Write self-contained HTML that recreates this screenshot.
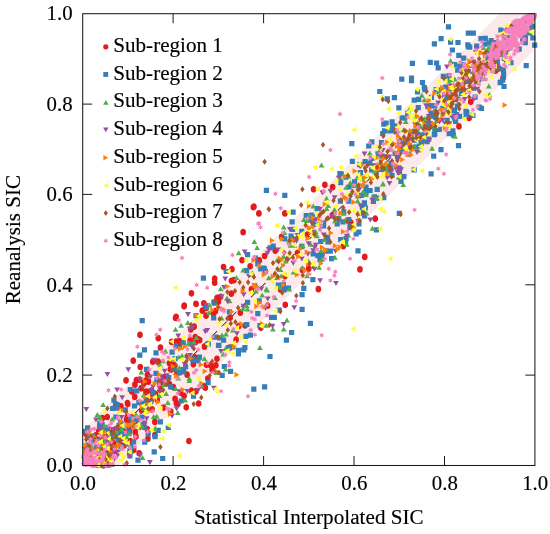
<!DOCTYPE html><html><head><meta charset="utf-8"><title>SIC scatter</title><style>html,body{margin:0;padding:0;background:#fff}</style></head><body><svg width="550" height="534" viewBox="0 0 550 534" style="display:block">
<rect width="550" height="534" fill="#fff"/>
<defs><clipPath id="c"><rect x="82.7" y="13.7" width="452.2" height="451.8"/></clipPath></defs>
<g clip-path="url(#c)">
<polygon points="82.7,430.3 499.6,13.7 533.1,13.7 533.1,51.2 118.4,465.5 82.7,465.5" fill="#fce9ea"/>
<line x1="82.7" y1="465.5" x2="534.9" y2="13.699999999999989" stroke="#000" stroke-width="1" stroke-dasharray="6.8,6.85" stroke-dashoffset="7.85"/>
</g>
<g>
<path d="M88.7,450.4a2.8,2.8 0 1,0 5.5,0a2.8,2.8 0 1,0 -5.5,0zM87.9,460.9a2.8,2.8 0 1,0 5.5,0a2.8,2.8 0 1,0 -5.5,0zM107,461.1a2.8,2.8 0 1,0 5.5,0a2.8,2.8 0 1,0 -5.5,0zM111.9,444.4a2.8,2.8 0 1,0 5.5,0a2.8,2.8 0 1,0 -5.5,0zM109.9,449.2a2.8,2.8 0 1,0 5.5,0a2.8,2.8 0 1,0 -5.5,0zM92.5,456.8a2.8,2.8 0 1,0 5.5,0a2.8,2.8 0 1,0 -5.5,0zM127,429a2.8,2.8 0 1,0 5.5,0a2.8,2.8 0 1,0 -5.5,0zM95.5,448.3a2.8,2.8 0 1,0 5.5,0a2.8,2.8 0 1,0 -5.5,0zM127.6,441.2a2.8,2.8 0 1,0 5.5,0a2.8,2.8 0 1,0 -5.5,0zM105.9,463.6a2.8,2.8 0 1,0 5.5,0a2.8,2.8 0 1,0 -5.5,0zM90,463a2.8,2.8 0 1,0 5.5,0a2.8,2.8 0 1,0 -5.5,0zM95.9,456a2.8,2.8 0 1,0 5.5,0a2.8,2.8 0 1,0 -5.5,0zM90.1,452.7a2.8,2.8 0 1,0 5.5,0a2.8,2.8 0 1,0 -5.5,0zM99.7,418.2a2.8,2.8 0 1,0 5.5,0a2.8,2.8 0 1,0 -5.5,0zM96.9,431.5a2.8,2.8 0 1,0 5.5,0a2.8,2.8 0 1,0 -5.5,0zM98.6,454.6a2.8,2.8 0 1,0 5.5,0a2.8,2.8 0 1,0 -5.5,0zM91.1,464.1a2.8,2.8 0 1,0 5.5,0a2.8,2.8 0 1,0 -5.5,0zM98.9,453a2.8,2.8 0 1,0 5.5,0a2.8,2.8 0 1,0 -5.5,0zM93.9,447.9a2.8,2.8 0 1,0 5.5,0a2.8,2.8 0 1,0 -5.5,0zM95.9,431.2a2.8,2.8 0 1,0 5.5,0a2.8,2.8 0 1,0 -5.5,0zM103.7,451.5a2.8,2.8 0 1,0 5.5,0a2.8,2.8 0 1,0 -5.5,0zM93.3,435.2a2.8,2.8 0 1,0 5.5,0a2.8,2.8 0 1,0 -5.5,0zM83.1,433.7a2.8,2.8 0 1,0 5.5,0a2.8,2.8 0 1,0 -5.5,0zM136.4,453.3a2.8,2.8 0 1,0 5.5,0a2.8,2.8 0 1,0 -5.5,0zM84.6,447.9a2.8,2.8 0 1,0 5.5,0a2.8,2.8 0 1,0 -5.5,0zM95.3,461.6a2.8,2.8 0 1,0 5.5,0a2.8,2.8 0 1,0 -5.5,0zM121.5,431.5a2.8,2.8 0 1,0 5.5,0a2.8,2.8 0 1,0 -5.5,0zM99.9,436.3a2.8,2.8 0 1,0 5.5,0a2.8,2.8 0 1,0 -5.5,0zM120.8,442.7a2.8,2.8 0 1,0 5.5,0a2.8,2.8 0 1,0 -5.5,0zM85,436.7a2.8,2.8 0 1,0 5.5,0a2.8,2.8 0 1,0 -5.5,0zM98.5,457.6a2.8,2.8 0 1,0 5.5,0a2.8,2.8 0 1,0 -5.5,0zM94,440.7a2.8,2.8 0 1,0 5.5,0a2.8,2.8 0 1,0 -5.5,0zM108,462.8a2.8,2.8 0 1,0 5.5,0a2.8,2.8 0 1,0 -5.5,0zM116.7,430.6a2.8,2.8 0 1,0 5.5,0a2.8,2.8 0 1,0 -5.5,0zM121.3,445.4a2.8,2.8 0 1,0 5.5,0a2.8,2.8 0 1,0 -5.5,0zM120.9,437.6a2.8,2.8 0 1,0 5.5,0a2.8,2.8 0 1,0 -5.5,0zM133.3,425a2.8,2.8 0 1,0 5.5,0a2.8,2.8 0 1,0 -5.5,0zM91.5,452.2a2.8,2.8 0 1,0 5.5,0a2.8,2.8 0 1,0 -5.5,0zM112.1,431.3a2.8,2.8 0 1,0 5.5,0a2.8,2.8 0 1,0 -5.5,0zM111.7,450.7a2.8,2.8 0 1,0 5.5,0a2.8,2.8 0 1,0 -5.5,0zM98.8,429.1a2.8,2.8 0 1,0 5.5,0a2.8,2.8 0 1,0 -5.5,0zM97.6,437.3a2.8,2.8 0 1,0 5.5,0a2.8,2.8 0 1,0 -5.5,0zM107.7,437.7a2.8,2.8 0 1,0 5.5,0a2.8,2.8 0 1,0 -5.5,0zM119.4,436.9a2.8,2.8 0 1,0 5.5,0a2.8,2.8 0 1,0 -5.5,0zM104.9,428.6a2.8,2.8 0 1,0 5.5,0a2.8,2.8 0 1,0 -5.5,0zM100.9,430a2.8,2.8 0 1,0 5.5,0a2.8,2.8 0 1,0 -5.5,0zM112.2,443.9a2.8,2.8 0 1,0 5.5,0a2.8,2.8 0 1,0 -5.5,0zM105.2,442.8a2.8,2.8 0 1,0 5.5,0a2.8,2.8 0 1,0 -5.5,0zM113.1,404.3a2.8,2.8 0 1,0 5.5,0a2.8,2.8 0 1,0 -5.5,0zM118.2,442.1a2.8,2.8 0 1,0 5.5,0a2.8,2.8 0 1,0 -5.5,0zM105.9,432.8a2.8,2.8 0 1,0 5.5,0a2.8,2.8 0 1,0 -5.5,0zM95.5,464.9a2.8,2.8 0 1,0 5.5,0a2.8,2.8 0 1,0 -5.5,0zM95.2,464.8a2.8,2.8 0 1,0 5.5,0a2.8,2.8 0 1,0 -5.5,0zM94.3,437.5a2.8,2.8 0 1,0 5.5,0a2.8,2.8 0 1,0 -5.5,0zM104.5,417a2.8,2.8 0 1,0 5.5,0a2.8,2.8 0 1,0 -5.5,0zM125,404a2.8,2.8 0 1,0 5.5,0a2.8,2.8 0 1,0 -5.5,0zM96.2,464a2.8,2.8 0 1,0 5.5,0a2.8,2.8 0 1,0 -5.5,0zM98.6,451.4a2.8,2.8 0 1,0 5.5,0a2.8,2.8 0 1,0 -5.5,0zM110.7,431.1a2.8,2.8 0 1,0 5.5,0a2.8,2.8 0 1,0 -5.5,0zM124.5,416.8a2.8,2.8 0 1,0 5.5,0a2.8,2.8 0 1,0 -5.5,0zM98.8,424a2.8,2.8 0 1,0 5.5,0a2.8,2.8 0 1,0 -5.5,0zM118.2,406.3a2.8,2.8 0 1,0 5.5,0a2.8,2.8 0 1,0 -5.5,0zM124.7,403a2.8,2.8 0 1,0 5.5,0a2.8,2.8 0 1,0 -5.5,0zM100.7,465.4a2.8,2.8 0 1,0 5.5,0a2.8,2.8 0 1,0 -5.5,0zM94.4,439.6a2.8,2.8 0 1,0 5.5,0a2.8,2.8 0 1,0 -5.5,0zM123.8,419.7a2.8,2.8 0 1,0 5.5,0a2.8,2.8 0 1,0 -5.5,0zM100.5,464.4a2.8,2.8 0 1,0 5.5,0a2.8,2.8 0 1,0 -5.5,0zM122,436.6a2.8,2.8 0 1,0 5.5,0a2.8,2.8 0 1,0 -5.5,0zM96.2,464.1a2.8,2.8 0 1,0 5.5,0a2.8,2.8 0 1,0 -5.5,0zM117.3,409a2.8,2.8 0 1,0 5.5,0a2.8,2.8 0 1,0 -5.5,0zM104,450.5a2.8,2.8 0 1,0 5.5,0a2.8,2.8 0 1,0 -5.5,0zM168,411.6a2.8,2.8 0 1,0 5.5,0a2.8,2.8 0 1,0 -5.5,0zM132,396.9a2.8,2.8 0 1,0 5.5,0a2.8,2.8 0 1,0 -5.5,0zM131.8,417.5a2.8,2.8 0 1,0 5.5,0a2.8,2.8 0 1,0 -5.5,0zM150,361.7a2.8,2.8 0 1,0 5.5,0a2.8,2.8 0 1,0 -5.5,0zM154.5,399.6a2.8,2.8 0 1,0 5.5,0a2.8,2.8 0 1,0 -5.5,0zM144.8,392a2.8,2.8 0 1,0 5.5,0a2.8,2.8 0 1,0 -5.5,0zM138.4,388.3a2.8,2.8 0 1,0 5.5,0a2.8,2.8 0 1,0 -5.5,0zM136.9,379.7a2.8,2.8 0 1,0 5.5,0a2.8,2.8 0 1,0 -5.5,0zM141.2,383.3a2.8,2.8 0 1,0 5.5,0a2.8,2.8 0 1,0 -5.5,0zM166.7,384.1a2.8,2.8 0 1,0 5.5,0a2.8,2.8 0 1,0 -5.5,0zM148.8,390.6a2.8,2.8 0 1,0 5.5,0a2.8,2.8 0 1,0 -5.5,0zM161.3,377.3a2.8,2.8 0 1,0 5.5,0a2.8,2.8 0 1,0 -5.5,0zM158,390.1a2.8,2.8 0 1,0 5.5,0a2.8,2.8 0 1,0 -5.5,0zM150.3,394.4a2.8,2.8 0 1,0 5.5,0a2.8,2.8 0 1,0 -5.5,0zM136.4,426.9a2.8,2.8 0 1,0 5.5,0a2.8,2.8 0 1,0 -5.5,0zM159.5,381.7a2.8,2.8 0 1,0 5.5,0a2.8,2.8 0 1,0 -5.5,0zM152.9,394.2a2.8,2.8 0 1,0 5.5,0a2.8,2.8 0 1,0 -5.5,0zM149.3,409.4a2.8,2.8 0 1,0 5.5,0a2.8,2.8 0 1,0 -5.5,0zM156.8,384.7a2.8,2.8 0 1,0 5.5,0a2.8,2.8 0 1,0 -5.5,0zM167.8,412.2a2.8,2.8 0 1,0 5.5,0a2.8,2.8 0 1,0 -5.5,0zM145.2,438.7a2.8,2.8 0 1,0 5.5,0a2.8,2.8 0 1,0 -5.5,0zM155.4,361.6a2.8,2.8 0 1,0 5.5,0a2.8,2.8 0 1,0 -5.5,0zM132.2,384.6a2.8,2.8 0 1,0 5.5,0a2.8,2.8 0 1,0 -5.5,0zM168.9,341.9a2.8,2.8 0 1,0 5.5,0a2.8,2.8 0 1,0 -5.5,0zM143.2,391.6a2.8,2.8 0 1,0 5.5,0a2.8,2.8 0 1,0 -5.5,0zM144.7,429.4a2.8,2.8 0 1,0 5.5,0a2.8,2.8 0 1,0 -5.5,0zM139.6,405.6a2.8,2.8 0 1,0 5.5,0a2.8,2.8 0 1,0 -5.5,0zM145.1,394.5a2.8,2.8 0 1,0 5.5,0a2.8,2.8 0 1,0 -5.5,0zM148.3,401.1a2.8,2.8 0 1,0 5.5,0a2.8,2.8 0 1,0 -5.5,0zM160.8,407.6a2.8,2.8 0 1,0 5.5,0a2.8,2.8 0 1,0 -5.5,0zM127,452.4a2.8,2.8 0 1,0 5.5,0a2.8,2.8 0 1,0 -5.5,0zM144.3,396.4a2.8,2.8 0 1,0 5.5,0a2.8,2.8 0 1,0 -5.5,0zM166.7,363.1a2.8,2.8 0 1,0 5.5,0a2.8,2.8 0 1,0 -5.5,0zM129.2,417.1a2.8,2.8 0 1,0 5.5,0a2.8,2.8 0 1,0 -5.5,0zM167.6,369.3a2.8,2.8 0 1,0 5.5,0a2.8,2.8 0 1,0 -5.5,0zM129,391.4a2.8,2.8 0 1,0 5.5,0a2.8,2.8 0 1,0 -5.5,0zM145.7,381.6a2.8,2.8 0 1,0 5.5,0a2.8,2.8 0 1,0 -5.5,0zM131,450a2.8,2.8 0 1,0 5.5,0a2.8,2.8 0 1,0 -5.5,0zM132.5,432.2a2.8,2.8 0 1,0 5.5,0a2.8,2.8 0 1,0 -5.5,0zM139,410.6a2.8,2.8 0 1,0 5.5,0a2.8,2.8 0 1,0 -5.5,0zM133.2,436.4a2.8,2.8 0 1,0 5.5,0a2.8,2.8 0 1,0 -5.5,0zM125.9,420.6a2.8,2.8 0 1,0 5.5,0a2.8,2.8 0 1,0 -5.5,0zM133.7,380.1a2.8,2.8 0 1,0 5.5,0a2.8,2.8 0 1,0 -5.5,0zM144.7,374.7a2.8,2.8 0 1,0 5.5,0a2.8,2.8 0 1,0 -5.5,0zM142.9,380.7a2.8,2.8 0 1,0 5.5,0a2.8,2.8 0 1,0 -5.5,0zM162.8,379.1a2.8,2.8 0 1,0 5.5,0a2.8,2.8 0 1,0 -5.5,0zM188.7,390.7a2.8,2.8 0 1,0 5.5,0a2.8,2.8 0 1,0 -5.5,0zM173.6,403.1a2.8,2.8 0 1,0 5.5,0a2.8,2.8 0 1,0 -5.5,0zM174.2,373.4a2.8,2.8 0 1,0 5.5,0a2.8,2.8 0 1,0 -5.5,0zM181.3,395.8a2.8,2.8 0 1,0 5.5,0a2.8,2.8 0 1,0 -5.5,0zM190.6,364.3a2.8,2.8 0 1,0 5.5,0a2.8,2.8 0 1,0 -5.5,0zM214.4,297.8a2.8,2.8 0 1,0 5.5,0a2.8,2.8 0 1,0 -5.5,0zM184.4,374.7a2.8,2.8 0 1,0 5.5,0a2.8,2.8 0 1,0 -5.5,0zM191.9,357.4a2.8,2.8 0 1,0 5.5,0a2.8,2.8 0 1,0 -5.5,0zM170.6,387.1a2.8,2.8 0 1,0 5.5,0a2.8,2.8 0 1,0 -5.5,0zM172.3,398.8a2.8,2.8 0 1,0 5.5,0a2.8,2.8 0 1,0 -5.5,0zM196.9,340.1a2.8,2.8 0 1,0 5.5,0a2.8,2.8 0 1,0 -5.5,0zM188,329.5a2.8,2.8 0 1,0 5.5,0a2.8,2.8 0 1,0 -5.5,0zM199.5,310.7a2.8,2.8 0 1,0 5.5,0a2.8,2.8 0 1,0 -5.5,0zM210.7,313.8a2.8,2.8 0 1,0 5.5,0a2.8,2.8 0 1,0 -5.5,0zM176.7,341.1a2.8,2.8 0 1,0 5.5,0a2.8,2.8 0 1,0 -5.5,0zM207.8,365.4a2.8,2.8 0 1,0 5.5,0a2.8,2.8 0 1,0 -5.5,0zM201.3,386.1a2.8,2.8 0 1,0 5.5,0a2.8,2.8 0 1,0 -5.5,0zM176.4,346.2a2.8,2.8 0 1,0 5.5,0a2.8,2.8 0 1,0 -5.5,0zM195.6,339.4a2.8,2.8 0 1,0 5.5,0a2.8,2.8 0 1,0 -5.5,0zM192.5,337.1a2.8,2.8 0 1,0 5.5,0a2.8,2.8 0 1,0 -5.5,0zM193.1,391.4a2.8,2.8 0 1,0 5.5,0a2.8,2.8 0 1,0 -5.5,0zM203.7,364.8a2.8,2.8 0 1,0 5.5,0a2.8,2.8 0 1,0 -5.5,0zM203.4,308a2.8,2.8 0 1,0 5.5,0a2.8,2.8 0 1,0 -5.5,0zM192.7,342.1a2.8,2.8 0 1,0 5.5,0a2.8,2.8 0 1,0 -5.5,0zM205.1,378.5a2.8,2.8 0 1,0 5.5,0a2.8,2.8 0 1,0 -5.5,0zM177.1,371.5a2.8,2.8 0 1,0 5.5,0a2.8,2.8 0 1,0 -5.5,0zM171,364.8a2.8,2.8 0 1,0 5.5,0a2.8,2.8 0 1,0 -5.5,0zM201.7,346.6a2.8,2.8 0 1,0 5.5,0a2.8,2.8 0 1,0 -5.5,0zM191.4,326.6a2.8,2.8 0 1,0 5.5,0a2.8,2.8 0 1,0 -5.5,0zM212.7,311.2a2.8,2.8 0 1,0 5.5,0a2.8,2.8 0 1,0 -5.5,0zM214.2,358.8a2.8,2.8 0 1,0 5.5,0a2.8,2.8 0 1,0 -5.5,0zM213.1,365.3a2.8,2.8 0 1,0 5.5,0a2.8,2.8 0 1,0 -5.5,0zM247.4,266.3a2.8,2.8 0 1,0 5.5,0a2.8,2.8 0 1,0 -5.5,0zM237.6,312.7a2.8,2.8 0 1,0 5.5,0a2.8,2.8 0 1,0 -5.5,0zM236,326.2a2.8,2.8 0 1,0 5.5,0a2.8,2.8 0 1,0 -5.5,0zM215.7,301.7a2.8,2.8 0 1,0 5.5,0a2.8,2.8 0 1,0 -5.5,0zM228.7,280.8a2.8,2.8 0 1,0 5.5,0a2.8,2.8 0 1,0 -5.5,0zM242.3,325.5a2.8,2.8 0 1,0 5.5,0a2.8,2.8 0 1,0 -5.5,0zM217.8,296.8a2.8,2.8 0 1,0 5.5,0a2.8,2.8 0 1,0 -5.5,0zM226.9,347.7a2.8,2.8 0 1,0 5.5,0a2.8,2.8 0 1,0 -5.5,0zM255.6,260.8a2.8,2.8 0 1,0 5.5,0a2.8,2.8 0 1,0 -5.5,0zM258.1,327.8a2.8,2.8 0 1,0 5.5,0a2.8,2.8 0 1,0 -5.5,0zM248.7,289.3a2.8,2.8 0 1,0 5.5,0a2.8,2.8 0 1,0 -5.5,0zM228.6,293.7a2.8,2.8 0 1,0 5.5,0a2.8,2.8 0 1,0 -5.5,0zM231.2,280.2a2.8,2.8 0 1,0 5.5,0a2.8,2.8 0 1,0 -5.5,0zM227.4,317.7a2.8,2.8 0 1,0 5.5,0a2.8,2.8 0 1,0 -5.5,0zM233.4,339.7a2.8,2.8 0 1,0 5.5,0a2.8,2.8 0 1,0 -5.5,0zM256.6,260.4a2.8,2.8 0 1,0 5.5,0a2.8,2.8 0 1,0 -5.5,0zM305.9,268.6a2.8,2.8 0 1,0 5.5,0a2.8,2.8 0 1,0 -5.5,0zM264.9,305.7a2.8,2.8 0 1,0 5.5,0a2.8,2.8 0 1,0 -5.5,0zM272.5,250.6a2.8,2.8 0 1,0 5.5,0a2.8,2.8 0 1,0 -5.5,0zM294.7,253a2.8,2.8 0 1,0 5.5,0a2.8,2.8 0 1,0 -5.5,0zM277.9,289.7a2.8,2.8 0 1,0 5.5,0a2.8,2.8 0 1,0 -5.5,0zM304.6,234.7a2.8,2.8 0 1,0 5.5,0a2.8,2.8 0 1,0 -5.5,0zM299.8,270.1a2.8,2.8 0 1,0 5.5,0a2.8,2.8 0 1,0 -5.5,0zM278.9,236.9a2.8,2.8 0 1,0 5.5,0a2.8,2.8 0 1,0 -5.5,0zM261.8,256a2.8,2.8 0 1,0 5.5,0a2.8,2.8 0 1,0 -5.5,0zM282.2,276.2a2.8,2.8 0 1,0 5.5,0a2.8,2.8 0 1,0 -5.5,0zM348,222.5a2.8,2.8 0 1,0 5.5,0a2.8,2.8 0 1,0 -5.5,0zM350,227.5a2.8,2.8 0 1,0 5.5,0a2.8,2.8 0 1,0 -5.5,0zM329.7,215.2a2.8,2.8 0 1,0 5.5,0a2.8,2.8 0 1,0 -5.5,0zM340.6,246.1a2.8,2.8 0 1,0 5.5,0a2.8,2.8 0 1,0 -5.5,0zM492.8,70.7a2.8,2.8 0 1,0 5.5,0a2.8,2.8 0 1,0 -5.5,0zM468,101.8a2.8,2.8 0 1,0 5.5,0a2.8,2.8 0 1,0 -5.5,0zM466.4,118a2.8,2.8 0 1,0 5.5,0a2.8,2.8 0 1,0 -5.5,0zM446.1,91.4a2.8,2.8 0 1,0 5.5,0a2.8,2.8 0 1,0 -5.5,0zM181.3,306.3a2.8,2.8 0 1,0 5.5,0a2.8,2.8 0 1,0 -5.5,0zM193.4,304a2.8,2.8 0 1,0 5.5,0a2.8,2.8 0 1,0 -5.5,0zM172.8,318a2.8,2.8 0 1,0 5.5,0a2.8,2.8 0 1,0 -5.5,0zM137.2,334.8a2.8,2.8 0 1,0 5.5,0a2.8,2.8 0 1,0 -5.5,0zM155.5,338.2a2.8,2.8 0 1,0 5.5,0a2.8,2.8 0 1,0 -5.5,0zM173.4,341.6a2.8,2.8 0 1,0 5.5,0a2.8,2.8 0 1,0 -5.5,0zM187.4,340.4a2.8,2.8 0 1,0 5.5,0a2.8,2.8 0 1,0 -5.5,0zM157.7,347.6a2.8,2.8 0 1,0 5.5,0a2.8,2.8 0 1,0 -5.5,0zM130.5,360.7a2.8,2.8 0 1,0 5.5,0a2.8,2.8 0 1,0 -5.5,0zM137.5,367a2.8,2.8 0 1,0 5.5,0a2.8,2.8 0 1,0 -5.5,0zM123.3,380.4a2.8,2.8 0 1,0 5.5,0a2.8,2.8 0 1,0 -5.5,0zM251.2,206.7a2.8,2.8 0 1,0 5.5,0a2.8,2.8 0 1,0 -5.5,0zM256.1,213.5a2.8,2.8 0 1,0 5.5,0a2.8,2.8 0 1,0 -5.5,0zM240.4,232.1a2.8,2.8 0 1,0 5.5,0a2.8,2.8 0 1,0 -5.5,0zM239.3,260.2a2.8,2.8 0 1,0 5.5,0a2.8,2.8 0 1,0 -5.5,0zM220.8,267a2.8,2.8 0 1,0 5.5,0a2.8,2.8 0 1,0 -5.5,0zM229.2,269.2a2.8,2.8 0 1,0 5.5,0a2.8,2.8 0 1,0 -5.5,0zM211.9,278.7a2.8,2.8 0 1,0 5.5,0a2.8,2.8 0 1,0 -5.5,0zM211.9,282.7a2.8,2.8 0 1,0 5.5,0a2.8,2.8 0 1,0 -5.5,0zM188.7,293.3a2.8,2.8 0 1,0 5.5,0a2.8,2.8 0 1,0 -5.5,0zM181.5,305.6a2.8,2.8 0 1,0 5.5,0a2.8,2.8 0 1,0 -5.5,0zM193.2,303.8a2.8,2.8 0 1,0 5.5,0a2.8,2.8 0 1,0 -5.5,0zM201.1,303.4a2.8,2.8 0 1,0 5.5,0a2.8,2.8 0 1,0 -5.5,0zM173.4,316.9a2.8,2.8 0 1,0 5.5,0a2.8,2.8 0 1,0 -5.5,0zM203.3,315.7a2.8,2.8 0 1,0 5.5,0a2.8,2.8 0 1,0 -5.5,0zM322.1,184.8a2.8,2.8 0 1,0 5.5,0a2.8,2.8 0 1,0 -5.5,0zM310.8,189.3a2.8,2.8 0 1,0 5.5,0a2.8,2.8 0 1,0 -5.5,0zM329.9,187.1a2.8,2.8 0 1,0 5.5,0a2.8,2.8 0 1,0 -5.5,0zM250.6,207.1a2.8,2.8 0 1,0 5.5,0a2.8,2.8 0 1,0 -5.5,0zM256.2,213.4a2.8,2.8 0 1,0 5.5,0a2.8,2.8 0 1,0 -5.5,0zM282.1,213.4a2.8,2.8 0 1,0 5.5,0a2.8,2.8 0 1,0 -5.5,0zM500.4,77.9a2.8,2.8 0 1,0 5.5,0a2.8,2.8 0 1,0 -5.5,0zM186.2,441a2.8,2.8 0 1,0 5.5,0a2.8,2.8 0 1,0 -5.5,0zM152.1,434.9a2.8,2.8 0 1,0 5.5,0a2.8,2.8 0 1,0 -5.5,0zM152.1,421.9a2.8,2.8 0 1,0 5.5,0a2.8,2.8 0 1,0 -5.5,0zM183.5,407.3a2.8,2.8 0 1,0 5.5,0a2.8,2.8 0 1,0 -5.5,0zM175.2,403.9a2.8,2.8 0 1,0 5.5,0a2.8,2.8 0 1,0 -5.5,0zM195.9,403.5a2.8,2.8 0 1,0 5.5,0a2.8,2.8 0 1,0 -5.5,0zM177.9,392.7a2.8,2.8 0 1,0 5.5,0a2.8,2.8 0 1,0 -5.5,0zM202.6,387.8a2.8,2.8 0 1,0 5.5,0a2.8,2.8 0 1,0 -5.5,0zM209.4,369.8a2.8,2.8 0 1,0 5.5,0a2.8,2.8 0 1,0 -5.5,0zM315.6,289.1a2.8,2.8 0 1,0 5.5,0a2.8,2.8 0 1,0 -5.5,0zM282.5,304.8a2.8,2.8 0 1,0 5.5,0a2.8,2.8 0 1,0 -5.5,0zM372.5,218.7a2.8,2.8 0 1,0 5.5,0a2.8,2.8 0 1,0 -5.5,0zM362,256.9a2.8,2.8 0 1,0 5.5,0a2.8,2.8 0 1,0 -5.5,0zM357.2,269.4a2.8,2.8 0 1,0 5.5,0a2.8,2.8 0 1,0 -5.5,0zM319,254.2a2.8,2.8 0 1,0 5.5,0a2.8,2.8 0 1,0 -5.5,0zM456.2,126.4a2.8,2.8 0 1,0 5.5,0a2.8,2.8 0 1,0 -5.5,0z" fill="#e41a1c"/>
<path d="M118.2,429.7h5.2v5.2h-5.2zM98.7,439.4h5.2v5.2h-5.2zM85,460.1h5.2v5.2h-5.2zM104.2,427.1h5.2v5.2h-5.2zM86.3,453.8h5.2v5.2h-5.2zM107.1,455h5.2v5.2h-5.2zM122.1,433.2h5.2v5.2h-5.2zM90.7,438.3h5.2v5.2h-5.2zM87.1,434.1h5.2v5.2h-5.2zM101.6,441.9h5.2v5.2h-5.2zM127.8,448.1h5.2v5.2h-5.2zM114,433.8h5.2v5.2h-5.2zM128.4,444h5.2v5.2h-5.2zM101,454.3h5.2v5.2h-5.2zM104.5,428.1h5.2v5.2h-5.2zM91.4,452.6h5.2v5.2h-5.2zM99.7,439.6h5.2v5.2h-5.2zM101.9,442.7h5.2v5.2h-5.2zM86.7,452.5h5.2v5.2h-5.2zM93.6,445.4h5.2v5.2h-5.2zM84.3,453.6h5.2v5.2h-5.2zM85,425.2h5.2v5.2h-5.2zM117.9,421.3h5.2v5.2h-5.2zM111.3,397.6h5.2v5.2h-5.2zM82.9,456.7h5.2v5.2h-5.2zM97.2,421.1h5.2v5.2h-5.2zM99.5,422.1h5.2v5.2h-5.2zM89.9,449.9h5.2v5.2h-5.2zM100,462.8h5.2v5.2h-5.2zM96.3,438.2h5.2v5.2h-5.2zM82.3,428.8h5.2v5.2h-5.2zM136.3,400h5.2v5.2h-5.2zM131,439.3h5.2v5.2h-5.2zM106.5,434.7h5.2v5.2h-5.2zM127.3,453.2h5.2v5.2h-5.2zM85.5,442.4h5.2v5.2h-5.2zM86.3,447.3h5.2v5.2h-5.2zM90.5,433.6h5.2v5.2h-5.2zM125.5,423.3h5.2v5.2h-5.2zM87.2,445.2h5.2v5.2h-5.2zM124.7,441.2h5.2v5.2h-5.2zM105.3,455.8h5.2v5.2h-5.2zM126.9,429.4h5.2v5.2h-5.2zM96.6,460.4h5.2v5.2h-5.2zM96.1,461.6h5.2v5.2h-5.2zM102.4,456h5.2v5.2h-5.2zM122.7,407.3h5.2v5.2h-5.2zM108.7,432.3h5.2v5.2h-5.2zM105.9,462.6h5.2v5.2h-5.2zM119.1,422.3h5.2v5.2h-5.2zM118.1,443.5h5.2v5.2h-5.2zM105.1,461.5h5.2v5.2h-5.2zM101.5,441.4h5.2v5.2h-5.2zM104,424.9h5.2v5.2h-5.2zM96.3,447.8h5.2v5.2h-5.2zM116.1,437.7h5.2v5.2h-5.2zM113.3,414.4h5.2v5.2h-5.2zM97.5,444.2h5.2v5.2h-5.2zM105.5,461.9h5.2v5.2h-5.2zM101.4,461.9h5.2v5.2h-5.2zM104,452.1h5.2v5.2h-5.2zM119.3,424.4h5.2v5.2h-5.2zM96.9,424.5h5.2v5.2h-5.2zM94.9,461.1h5.2v5.2h-5.2zM112.1,405.5h5.2v5.2h-5.2zM145.6,431.2h5.2v5.2h-5.2zM168.1,384.2h5.2v5.2h-5.2zM142,424.8h5.2v5.2h-5.2zM152.4,434h5.2v5.2h-5.2zM140.1,422.1h5.2v5.2h-5.2zM134.5,417.2h5.2v5.2h-5.2zM128.2,414.9h5.2v5.2h-5.2zM154.2,377.2h5.2v5.2h-5.2zM143.9,366.8h5.2v5.2h-5.2zM139.4,414.4h5.2v5.2h-5.2zM141.8,400.7h5.2v5.2h-5.2zM166.1,375.1h5.2v5.2h-5.2zM143.7,397.7h5.2v5.2h-5.2zM150.3,390.1h5.2v5.2h-5.2zM129.3,417.4h5.2v5.2h-5.2zM131.9,403.4h5.2v5.2h-5.2zM147.5,399.5h5.2v5.2h-5.2zM134.2,388.3h5.2v5.2h-5.2zM127.7,386.9h5.2v5.2h-5.2zM153.4,370.8h5.2v5.2h-5.2zM180.6,340.1h5.2v5.2h-5.2zM178.8,366.9h5.2v5.2h-5.2zM187.9,341.2h5.2v5.2h-5.2zM211.1,315.4h5.2v5.2h-5.2zM172.3,366.9h5.2v5.2h-5.2zM195.4,358.2h5.2v5.2h-5.2zM196.9,354.6h5.2v5.2h-5.2zM190.4,357.6h5.2v5.2h-5.2zM181.2,369.3h5.2v5.2h-5.2zM178.7,398.4h5.2v5.2h-5.2zM190,356.3h5.2v5.2h-5.2zM172.4,356h5.2v5.2h-5.2zM205.7,341.2h5.2v5.2h-5.2zM176.7,370.4h5.2v5.2h-5.2zM203.6,304.8h5.2v5.2h-5.2zM212,300.6h5.2v5.2h-5.2zM173.5,343.2h5.2v5.2h-5.2zM183,364h5.2v5.2h-5.2zM212.1,334.6h5.2v5.2h-5.2zM230.2,344.3h5.2v5.2h-5.2zM258.1,266.2h5.2v5.2h-5.2zM221,337.5h5.2v5.2h-5.2zM255.2,261.2h5.2v5.2h-5.2zM244.2,321.9h5.2v5.2h-5.2zM260.6,265.4h5.2v5.2h-5.2zM235.8,347.8h5.2v5.2h-5.2zM252.8,255.5h5.2v5.2h-5.2zM242.3,345h5.2v5.2h-5.2zM217.3,335.3h5.2v5.2h-5.2zM221.7,363.9h5.2v5.2h-5.2zM215.9,342.8h5.2v5.2h-5.2zM225.9,345.1h5.2v5.2h-5.2zM244,268.1h5.2v5.2h-5.2zM226.8,309.3h5.2v5.2h-5.2zM255.2,311h5.2v5.2h-5.2zM216.3,342.9h5.2v5.2h-5.2zM245,299.8h5.2v5.2h-5.2zM256.6,298.2h5.2v5.2h-5.2zM271.7,314.7h5.2v5.2h-5.2zM285.9,285.5h5.2v5.2h-5.2zM288.5,233.6h5.2v5.2h-5.2zM268.9,314.7h5.2v5.2h-5.2zM301.2,285.8h5.2v5.2h-5.2zM299.2,228.7h5.2v5.2h-5.2zM281.4,287.3h5.2v5.2h-5.2zM262.7,268.8h5.2v5.2h-5.2zM299.2,243.7h5.2v5.2h-5.2zM280.7,285.4h5.2v5.2h-5.2zM290,226.7h5.2v5.2h-5.2zM261.7,265.9h5.2v5.2h-5.2zM303.7,213h5.2v5.2h-5.2zM275.8,282.5h5.2v5.2h-5.2zM289.5,219.2h5.2v5.2h-5.2zM282.2,236.3h5.2v5.2h-5.2zM280.8,282h5.2v5.2h-5.2zM270.6,243.6h5.2v5.2h-5.2zM267.5,245.2h5.2v5.2h-5.2zM276.6,307.5h5.2v5.2h-5.2zM292.3,235.9h5.2v5.2h-5.2zM309.2,212.6h5.2v5.2h-5.2zM343.3,174.5h5.2v5.2h-5.2zM347.5,223.4h5.2v5.2h-5.2zM311.3,221.5h5.2v5.2h-5.2zM343.5,236h5.2v5.2h-5.2zM310.6,251.2h5.2v5.2h-5.2zM325.4,239.4h5.2v5.2h-5.2zM338.6,171.4h5.2v5.2h-5.2zM329,256h5.2v5.2h-5.2zM324.9,234.7h5.2v5.2h-5.2zM338.1,180.1h5.2v5.2h-5.2zM310.3,277.1h5.2v5.2h-5.2zM315.3,253h5.2v5.2h-5.2zM306.4,217h5.2v5.2h-5.2zM314.5,206h5.2v5.2h-5.2zM318,252.2h5.2v5.2h-5.2zM337.8,198.5h5.2v5.2h-5.2zM309.9,214.3h5.2v5.2h-5.2zM334.6,221.2h5.2v5.2h-5.2zM346.5,184.4h5.2v5.2h-5.2zM318.1,238.9h5.2v5.2h-5.2zM346.2,198.6h5.2v5.2h-5.2zM340.3,219.2h5.2v5.2h-5.2zM321,220.2h5.2v5.2h-5.2zM336.1,216.1h5.2v5.2h-5.2zM341.2,209.2h5.2v5.2h-5.2zM346.2,217h5.2v5.2h-5.2zM338,237h5.2v5.2h-5.2zM317.4,257.1h5.2v5.2h-5.2zM321,223.4h5.2v5.2h-5.2zM349.7,158.7h5.2v5.2h-5.2zM387.4,163.9h5.2v5.2h-5.2zM360.3,210.6h5.2v5.2h-5.2zM369,167.3h5.2v5.2h-5.2zM374.1,195.5h5.2v5.2h-5.2zM357.8,170.1h5.2v5.2h-5.2zM392.5,150.9h5.2v5.2h-5.2zM361.8,200.3h5.2v5.2h-5.2zM386.4,167.5h5.2v5.2h-5.2zM371.9,194.3h5.2v5.2h-5.2zM355.8,193.3h5.2v5.2h-5.2zM362.7,205.2h5.2v5.2h-5.2zM379.5,153.6h5.2v5.2h-5.2zM381,167h5.2v5.2h-5.2zM373.6,170.3h5.2v5.2h-5.2zM358.7,192.8h5.2v5.2h-5.2zM377.4,166.8h5.2v5.2h-5.2zM374.6,186.7h5.2v5.2h-5.2zM394.3,151.4h5.2v5.2h-5.2zM369.2,139.2h5.2v5.2h-5.2zM367.5,187.9h5.2v5.2h-5.2zM352,179.3h5.2v5.2h-5.2zM367.3,160.6h5.2v5.2h-5.2zM393.9,129.2h5.2v5.2h-5.2zM369.1,155.9h5.2v5.2h-5.2zM388,166.7h5.2v5.2h-5.2zM395,152.9h5.2v5.2h-5.2zM388.4,160.8h5.2v5.2h-5.2zM357.1,162h5.2v5.2h-5.2zM363.5,189.7h5.2v5.2h-5.2zM359.8,205.1h5.2v5.2h-5.2zM362.5,159h5.2v5.2h-5.2zM370.8,198.9h5.2v5.2h-5.2zM390.1,123.1h5.2v5.2h-5.2zM392.4,128.3h5.2v5.2h-5.2zM380.1,130.9h5.2v5.2h-5.2zM381.1,195h5.2v5.2h-5.2zM362,213.3h5.2v5.2h-5.2zM392.3,123.6h5.2v5.2h-5.2zM378.9,140.1h5.2v5.2h-5.2zM389.4,172.7h5.2v5.2h-5.2zM375.4,151.2h5.2v5.2h-5.2zM363.4,184.5h5.2v5.2h-5.2zM399.3,148.8h5.2v5.2h-5.2zM419.2,138.2h5.2v5.2h-5.2zM396.9,169.7h5.2v5.2h-5.2zM434.7,117.8h5.2v5.2h-5.2zM440.1,105.8h5.2v5.2h-5.2zM424.2,122.1h5.2v5.2h-5.2zM411.6,167.2h5.2v5.2h-5.2zM398.2,141.6h5.2v5.2h-5.2zM412,137.5h5.2v5.2h-5.2zM420.4,132.2h5.2v5.2h-5.2zM415.7,135.8h5.2v5.2h-5.2zM414.9,131.9h5.2v5.2h-5.2zM440.7,73.8h5.2v5.2h-5.2zM411.6,128.8h5.2v5.2h-5.2zM425.3,104.1h5.2v5.2h-5.2zM436.7,126.7h5.2v5.2h-5.2zM396.9,165.8h5.2v5.2h-5.2zM432.3,125.9h5.2v5.2h-5.2zM424.5,139.1h5.2v5.2h-5.2zM406.2,151.5h5.2v5.2h-5.2zM431.1,153.5h5.2v5.2h-5.2zM431.7,132.1h5.2v5.2h-5.2zM432.2,131.1h5.2v5.2h-5.2zM415.7,105h5.2v5.2h-5.2zM425.7,116.3h5.2v5.2h-5.2zM398.4,178.8h5.2v5.2h-5.2zM416.8,143.4h5.2v5.2h-5.2zM423.4,136.6h5.2v5.2h-5.2zM401.3,174.1h5.2v5.2h-5.2zM397.3,143.2h5.2v5.2h-5.2zM402.1,115.5h5.2v5.2h-5.2zM402.5,139.5h5.2v5.2h-5.2zM405.1,110.8h5.2v5.2h-5.2zM428.9,94.7h5.2v5.2h-5.2zM428.7,103h5.2v5.2h-5.2zM408.1,132.3h5.2v5.2h-5.2zM426.1,136.5h5.2v5.2h-5.2zM429.6,113.5h5.2v5.2h-5.2zM418.6,140.5h5.2v5.2h-5.2zM427.2,124h5.2v5.2h-5.2zM413.1,144.5h5.2v5.2h-5.2zM432.2,103.3h5.2v5.2h-5.2zM422.3,87h5.2v5.2h-5.2zM428.4,110.4h5.2v5.2h-5.2zM440.8,108.5h5.2v5.2h-5.2zM436.8,90.7h5.2v5.2h-5.2zM423.9,119.6h5.2v5.2h-5.2zM408.5,133.8h5.2v5.2h-5.2zM433.5,87h5.2v5.2h-5.2zM433.3,114.7h5.2v5.2h-5.2zM478.4,36.1h5.2v5.2h-5.2zM457.5,82.7h5.2v5.2h-5.2zM475.8,63h5.2v5.2h-5.2zM472.5,94.6h5.2v5.2h-5.2zM475.8,77.1h5.2v5.2h-5.2zM445.8,95.3h5.2v5.2h-5.2zM482.4,41.5h5.2v5.2h-5.2zM463.4,108.7h5.2v5.2h-5.2zM450,107.9h5.2v5.2h-5.2zM465.2,42.2h5.2v5.2h-5.2zM458.8,90.7h5.2v5.2h-5.2zM477.5,76.1h5.2v5.2h-5.2zM442.8,84.6h5.2v5.2h-5.2zM481,64.2h5.2v5.2h-5.2zM461.1,55.5h5.2v5.2h-5.2zM478.9,105.7h5.2v5.2h-5.2zM450.9,132.6h5.2v5.2h-5.2zM467.1,44.6h5.2v5.2h-5.2zM444.8,109.9h5.2v5.2h-5.2zM447.3,94.9h5.2v5.2h-5.2zM470.8,85.5h5.2v5.2h-5.2zM449.1,83.6h5.2v5.2h-5.2zM451.9,107.4h5.2v5.2h-5.2zM482.7,35.7h5.2v5.2h-5.2zM473.9,61.7h5.2v5.2h-5.2zM444.4,76.8h5.2v5.2h-5.2zM455.4,96.7h5.2v5.2h-5.2zM446.6,131h5.2v5.2h-5.2zM463.6,112.5h5.2v5.2h-5.2zM472.5,69.5h5.2v5.2h-5.2zM483.8,55.8h5.2v5.2h-5.2zM481.1,70.6h5.2v5.2h-5.2zM446.2,109.1h5.2v5.2h-5.2zM457.2,98.4h5.2v5.2h-5.2zM470.3,112.8h5.2v5.2h-5.2zM474.1,43.5h5.2v5.2h-5.2zM453.9,111.9h5.2v5.2h-5.2zM479.8,68.3h5.2v5.2h-5.2zM456.2,52.7h5.2v5.2h-5.2zM444.4,94.5h5.2v5.2h-5.2zM454.8,103.5h5.2v5.2h-5.2zM486.7,40.4h5.2v5.2h-5.2zM446.3,73.3h5.2v5.2h-5.2zM455.1,67.6h5.2v5.2h-5.2zM457.3,63.4h5.2v5.2h-5.2zM465.7,69h5.2v5.2h-5.2zM483.1,54.2h5.2v5.2h-5.2zM476.7,104.6h5.2v5.2h-5.2zM445.8,89.9h5.2v5.2h-5.2zM454.2,96.6h5.2v5.2h-5.2zM468.2,60.5h5.2v5.2h-5.2zM460.3,62.1h5.2v5.2h-5.2zM457,113.7h5.2v5.2h-5.2zM464.2,109.9h5.2v5.2h-5.2zM453.9,84.8h5.2v5.2h-5.2zM458.5,86.1h5.2v5.2h-5.2zM465.4,78.8h5.2v5.2h-5.2zM447.3,86.8h5.2v5.2h-5.2zM474,79.2h5.2v5.2h-5.2zM444.6,117.7h5.2v5.2h-5.2zM465.8,44h5.2v5.2h-5.2zM452,115.5h5.2v5.2h-5.2zM505.6,25.9h5.2v5.2h-5.2zM491.5,51.2h5.2v5.2h-5.2zM500.1,77.6h5.2v5.2h-5.2zM498.2,79.6h5.2v5.2h-5.2zM496.3,40.6h5.2v5.2h-5.2zM500,51.2h5.2v5.2h-5.2zM495.9,65.4h5.2v5.2h-5.2zM508.4,60h5.2v5.2h-5.2zM494.7,51.6h5.2v5.2h-5.2zM505.3,34.7h5.2v5.2h-5.2zM498.8,49.5h5.2v5.2h-5.2zM492.7,65.3h5.2v5.2h-5.2zM488.6,38h5.2v5.2h-5.2zM487.6,48.7h5.2v5.2h-5.2zM501.4,83.9h5.2v5.2h-5.2zM507.1,39h5.2v5.2h-5.2zM493.3,50.2h5.2v5.2h-5.2zM496.9,66.2h5.2v5.2h-5.2zM501.7,55.9h5.2v5.2h-5.2zM497.6,80.1h5.2v5.2h-5.2zM490.1,54.5h5.2v5.2h-5.2zM493.6,50.1h5.2v5.2h-5.2zM506.1,44.4h5.2v5.2h-5.2zM503.1,50h5.2v5.2h-5.2zM500.9,67.2h5.2v5.2h-5.2zM492.1,48.5h5.2v5.2h-5.2zM487.3,54.4h5.2v5.2h-5.2zM498.2,27.4h5.2v5.2h-5.2zM490.7,58.7h5.2v5.2h-5.2zM495.9,45.1h5.2v5.2h-5.2zM489.6,54.6h5.2v5.2h-5.2zM494.7,59.1h5.2v5.2h-5.2zM501,71.8h5.2v5.2h-5.2zM503.9,42.8h5.2v5.2h-5.2zM527.4,21.4h5.2v5.2h-5.2zM527.4,30.4h5.2v5.2h-5.2zM520,36.2h5.2v5.2h-5.2zM522.2,32h5.2v5.2h-5.2zM516.6,22.8h5.2v5.2h-5.2zM522.8,36.1h5.2v5.2h-5.2zM528.6,24.7h5.2v5.2h-5.2zM530.3,35.4h5.2v5.2h-5.2zM521.4,35.1h5.2v5.2h-5.2zM523.1,28.4h5.2v5.2h-5.2zM518.2,26.5h5.2v5.2h-5.2zM522.7,40.1h5.2v5.2h-5.2zM523.8,21.2h5.2v5.2h-5.2zM528.1,13.6h5.2v5.2h-5.2zM521.3,34.5h5.2v5.2h-5.2zM532.1,42.5h5.2v5.2h-5.2zM513.2,41.8h5.2v5.2h-5.2zM513.8,29.9h5.2v5.2h-5.2zM517.7,20.8h5.2v5.2h-5.2zM516.6,46.6h5.2v5.2h-5.2zM528.7,15.1h5.2v5.2h-5.2zM512.4,24.4h5.2v5.2h-5.2zM513.5,24.7h5.2v5.2h-5.2zM523.6,63.1h5.2v5.2h-5.2zM527.1,23h5.2v5.2h-5.2zM515.7,18.9h5.2v5.2h-5.2zM522.9,25.1h5.2v5.2h-5.2zM529.8,23.5h5.2v5.2h-5.2zM139.6,318.1h5.2v5.2h-5.2zM141.9,347.3h5.2v5.2h-5.2zM137.2,352.5h5.2v5.2h-5.2zM153.4,350.2h5.2v5.2h-5.2zM169.5,349.5h5.2v5.2h-5.2zM114.5,401.9h5.2v5.2h-5.2zM110,405.9h5.2v5.2h-5.2zM245,252h5.2v5.2h-5.2zM223.7,268.9h5.2v5.2h-5.2zM200.8,275.6h5.2v5.2h-5.2zM211.3,299.6h5.2v5.2h-5.2zM193.4,313.1h5.2v5.2h-5.2zM349.2,141.1h5.2v5.2h-5.2zM366.1,143.4h5.2v5.2h-5.2zM337.3,171h5.2v5.2h-5.2zM263.8,187.8h5.2v5.2h-5.2zM282.2,192.8h5.2v5.2h-5.2zM290.5,209.6h5.2v5.2h-5.2zM445.9,24.2h5.2v5.2h-5.2zM438.5,36.1h5.2v5.2h-5.2zM431.8,41.3h5.2v5.2h-5.2zM448,39.5h5.2v5.2h-5.2zM455.4,39.9h5.2v5.2h-5.2zM449.8,47.4h5.2v5.2h-5.2zM409.8,60.8h5.2v5.2h-5.2zM427.7,59.7h5.2v5.2h-5.2zM434,60.4h5.2v5.2h-5.2zM435.6,65.3h5.2v5.2h-5.2zM452,62h5.2v5.2h-5.2zM399.2,76.6h5.2v5.2h-5.2zM408.9,75.4h5.2v5.2h-5.2zM408.9,78.1h5.2v5.2h-5.2zM419.9,79.9h5.2v5.2h-5.2zM421.7,85.1h5.2v5.2h-5.2zM414.9,89.4h5.2v5.2h-5.2zM377.2,88.9h5.2v5.2h-5.2zM384.6,96.3h5.2v5.2h-5.2zM391.8,95h5.2v5.2h-5.2zM411.6,97.5h5.2v5.2h-5.2zM416.1,96.8h5.2v5.2h-5.2zM396.3,105.3h5.2v5.2h-5.2zM381.2,121.5h5.2v5.2h-5.2zM383.5,120.4h5.2v5.2h-5.2zM389.5,119.3h5.2v5.2h-5.2zM399.6,115.2h5.2v5.2h-5.2zM381.9,128.3h5.2v5.2h-5.2zM387.3,128.3h5.2v5.2h-5.2zM465.7,30.5h5.2v5.2h-5.2zM470.7,30.5h5.2v5.2h-5.2zM160.1,455.9h5.2v5.2h-5.2zM151.6,449.2h5.2v5.2h-5.2zM135.4,457.5h5.2v5.2h-5.2zM142.1,439.5h5.2v5.2h-5.2zM155.6,427.8h5.2v5.2h-5.2zM165.7,424.9h5.2v5.2h-5.2zM157.8,419.3h5.2v5.2h-5.2zM190.9,393.5h5.2v5.2h-5.2zM205.5,380h5.2v5.2h-5.2zM219.6,372.8h5.2v5.2h-5.2zM228,368.7h5.2v5.2h-5.2zM235.8,351.4h5.2v5.2h-5.2zM299.5,292.1h5.2v5.2h-5.2zM299.5,306.7h5.2v5.2h-5.2zM307.8,320.7h5.2v5.2h-5.2zM257.3,323.1h5.2v5.2h-5.2zM289,329.9h5.2v5.2h-5.2zM283.8,337.5h5.2v5.2h-5.2zM267.4,353.9h5.2v5.2h-5.2zM241.1,347.2h5.2v5.2h-5.2zM262,384.3h5.2v5.2h-5.2zM251.2,386.5h5.2v5.2h-5.2zM247.8,332.6h5.2v5.2h-5.2zM243.4,333.7h5.2v5.2h-5.2zM396.7,210.7h5.2v5.2h-5.2zM373.8,227.3h5.2v5.2h-5.2zM356.3,221.2h5.2v5.2h-5.2zM347.3,225h5.2v5.2h-5.2zM356.3,229.5h5.2v5.2h-5.2zM353.6,231.3h5.2v5.2h-5.2zM343,239.9h5.2v5.2h-5.2zM355.4,248.2h5.2v5.2h-5.2zM324.8,248.6h5.2v5.2h-5.2zM327.7,248.6h5.2v5.2h-5.2zM319.2,253.8h5.2v5.2h-5.2zM450.3,128.3h5.2v5.2h-5.2zM455.9,143.1h5.2v5.2h-5.2zM438.4,147h5.2v5.2h-5.2zM428.5,171.2h5.2v5.2h-5.2zM452.6,115.5h5.2v5.2h-5.2zM453,118.9h5.2v5.2h-5.2z" fill="#377eb8"/>
<path d="M97.4,412.1l2.9,5h-5.8zM100.2,446l2.9,5h-5.8zM101.6,425.9l2.9,5h-5.8zM111.7,462.1l2.9,5h-5.8zM116.4,427.9l2.9,5h-5.8zM91.7,445.3l2.9,5h-5.8zM90.3,440.5l2.9,5h-5.8zM109.8,450.4l2.9,5h-5.8zM105.6,438.2l2.9,5h-5.8zM104.7,451.2l2.9,5h-5.8zM102.4,447.1l2.9,5h-5.8zM105.3,433.8l2.9,5h-5.8zM115.4,432.5l2.9,5h-5.8zM104.8,455l2.9,5h-5.8zM101.1,446.9l2.9,5h-5.8zM89.6,451.8l2.9,5h-5.8zM105.1,454.8l2.9,5h-5.8zM100.7,459.9l2.9,5h-5.8zM102.4,426.5l2.9,5h-5.8zM92.5,459.9l2.9,5h-5.8zM96.7,460.6l2.9,5h-5.8zM95.1,462.5l2.9,5h-5.8zM100.3,415.6l2.9,5h-5.8zM121.7,426.6l2.9,5h-5.8zM126.6,434.3l2.9,5h-5.8zM112.2,416.6l2.9,5h-5.8zM104.5,423.1l2.9,5h-5.8zM107.9,430.3l2.9,5h-5.8zM100.2,414.4l2.9,5h-5.8zM104.8,452.1l2.9,5h-5.8zM106.1,461.5l2.9,5h-5.8zM106.4,438.4l2.9,5h-5.8zM107.7,455.1l2.9,5h-5.8zM130.9,449l2.9,5h-5.8zM160.3,362.5l2.9,5h-5.8zM167.8,400l2.9,5h-5.8zM129.3,431.3l2.9,5h-5.8zM143.8,405.7l2.9,5h-5.8zM166.2,390.9l2.9,5h-5.8zM136.1,412.1l2.9,5h-5.8zM129.7,444.3l2.9,5h-5.8zM141.6,423.4l2.9,5h-5.8zM156.8,413.8l2.9,5h-5.8zM153.7,414.1l2.9,5h-5.8zM143.7,392.5l2.9,5h-5.8zM163,358.3l2.9,5h-5.8zM155.4,425.7l2.9,5h-5.8zM163.7,382.1l2.9,5h-5.8zM159.3,393.1l2.9,5h-5.8zM165.4,348.5l2.9,5h-5.8zM204.4,356.1l2.9,5h-5.8zM175.6,386l2.9,5h-5.8zM178.9,354.6l2.9,5h-5.8zM209.6,302.6l2.9,5h-5.8zM202,383.3l2.9,5h-5.8zM189.3,375.8l2.9,5h-5.8zM179.3,365.3l2.9,5h-5.8zM196.4,334.9l2.9,5h-5.8zM189,340.8l2.9,5h-5.8zM188.2,340.7l2.9,5h-5.8zM180.8,345.1l2.9,5h-5.8zM194,339.6l2.9,5h-5.8zM189.4,378l2.9,5h-5.8zM182.1,352.9l2.9,5h-5.8zM178.2,375.4l2.9,5h-5.8zM221.6,315.5l2.9,5h-5.8zM252.3,270.2l2.9,5h-5.8zM223.3,351.6l2.9,5h-5.8zM242.9,305.9l2.9,5h-5.8zM247.5,306.4l2.9,5h-5.8zM229.5,298.3l2.9,5h-5.8zM256.3,282.5l2.9,5h-5.8zM226,331.6l2.9,5h-5.8zM251.9,271.8l2.9,5h-5.8zM232.8,327.6l2.9,5h-5.8zM256,288.6l2.9,5h-5.8zM246.8,303.2l2.9,5h-5.8zM225.5,345.9l2.9,5h-5.8zM222,332.5l2.9,5h-5.8zM262.2,292.6l2.9,5h-5.8zM227,295.5l2.9,5h-5.8zM302.3,265.1l2.9,5h-5.8zM293.5,269.4l2.9,5h-5.8zM283.4,253.8l2.9,5h-5.8zM277,274.9l2.9,5h-5.8zM279.3,284.8l2.9,5h-5.8zM284.4,230l2.9,5h-5.8zM307.1,273.3l2.9,5h-5.8zM266.3,286.4l2.9,5h-5.8zM306.7,218l2.9,5h-5.8zM277.1,257.5l2.9,5h-5.8zM294.3,242.8l2.9,5h-5.8zM280.4,267.1l2.9,5h-5.8zM289.1,286.5l2.9,5h-5.8zM303.8,217l2.9,5h-5.8zM275,294.9l2.9,5h-5.8zM285.7,258.4l2.9,5h-5.8zM268.7,275.2l2.9,5h-5.8zM267.2,287.6l2.9,5h-5.8zM302.6,242.9l2.9,5h-5.8zM308.4,215l2.9,5h-5.8zM281.3,273.3l2.9,5h-5.8zM289,238.7l2.9,5h-5.8zM266.2,322.7l2.9,5h-5.8zM290.5,242.8l2.9,5h-5.8zM328.1,203.1l2.9,5h-5.8zM350.3,180l2.9,5h-5.8zM324.2,237.1l2.9,5h-5.8zM346.1,184.8l2.9,5h-5.8zM351.7,190l2.9,5h-5.8zM313.3,203.4l2.9,5h-5.8zM339.3,214.9l2.9,5h-5.8zM346.7,241.8l2.9,5h-5.8zM313.8,231.8l2.9,5h-5.8zM321.9,256.7l2.9,5h-5.8zM348.4,173.6l2.9,5h-5.8zM345.3,217.3l2.9,5h-5.8zM315.6,228.9l2.9,5h-5.8zM317,233.2l2.9,5h-5.8zM326.6,195.7l2.9,5h-5.8zM326.6,206.1l2.9,5h-5.8zM318.6,220.4l2.9,5h-5.8zM310.8,241.8l2.9,5h-5.8zM334.9,254.8l2.9,5h-5.8zM335,218.3l2.9,5h-5.8zM353.4,182.9l2.9,5h-5.8zM321.1,248l2.9,5h-5.8zM334.5,207.1l2.9,5h-5.8zM334.2,212l2.9,5h-5.8zM343.8,210.7l2.9,5h-5.8zM390,146.6l2.9,5h-5.8zM384.8,162.3l2.9,5h-5.8zM382.7,181.4l2.9,5h-5.8zM372.4,194.2l2.9,5h-5.8zM375.8,195.6l2.9,5h-5.8zM369.8,150.4l2.9,5h-5.8zM374.5,168.6l2.9,5h-5.8zM367.7,173.2l2.9,5h-5.8zM378.9,149.1l2.9,5h-5.8zM357.6,198.3l2.9,5h-5.8zM398.7,174.4l2.9,5h-5.8zM357.1,174.9l2.9,5h-5.8zM366.5,210.5l2.9,5h-5.8zM366.1,192l2.9,5h-5.8zM363.1,189.1l2.9,5h-5.8zM387.2,166.8l2.9,5h-5.8zM357.6,193l2.9,5h-5.8zM362.5,176.2l2.9,5h-5.8zM383,181l2.9,5h-5.8zM387.9,164l2.9,5h-5.8zM356.6,183.2l2.9,5h-5.8zM414.4,143.6l2.9,5h-5.8zM410.9,105l2.9,5h-5.8zM424.8,116.2l2.9,5h-5.8zM432,145.7l2.9,5h-5.8zM405.7,119.1l2.9,5h-5.8zM418.4,147.6l2.9,5h-5.8zM426.4,126.7l2.9,5h-5.8zM410.9,133l2.9,5h-5.8zM434.2,123.8l2.9,5h-5.8zM411.8,132.8l2.9,5h-5.8zM420.8,123.8l2.9,5h-5.8zM415.6,113.8l2.9,5h-5.8zM403.3,182.1l2.9,5h-5.8zM421.9,92.8l2.9,5h-5.8zM415.8,115.2l2.9,5h-5.8zM440.9,86.8l2.9,5h-5.8zM410.2,144.6l2.9,5h-5.8zM435.4,120.4l2.9,5h-5.8zM440.1,87.4l2.9,5h-5.8zM417.4,127.5l2.9,5h-5.8zM417.8,119.9l2.9,5h-5.8zM472.8,74.3l2.9,5h-5.8zM454.9,76.6l2.9,5h-5.8zM473.5,68.9l2.9,5h-5.8zM451.5,77l2.9,5h-5.8zM456.5,92l2.9,5h-5.8zM466.4,69l2.9,5h-5.8zM471.5,62.9l2.9,5h-5.8zM484.4,76.1l2.9,5h-5.8zM483.5,45.1l2.9,5h-5.8zM489.4,91.9l2.9,5h-5.8zM488.5,45.2l2.9,5h-5.8zM448.9,78.8l2.9,5h-5.8zM448.5,103.5l2.9,5h-5.8zM488.8,83.4l2.9,5h-5.8zM480.3,69.5l2.9,5h-5.8zM454.9,133.8l2.9,5h-5.8zM489.3,46l2.9,5h-5.8zM492.8,42.5l2.9,5h-5.8zM493,41.4l2.9,5h-5.8zM492.2,41.8l2.9,5h-5.8zM494.5,57.9l2.9,5h-5.8zM506.2,40.2l2.9,5h-5.8zM490.7,49.6l2.9,5h-5.8zM524.9,27l2.9,5h-5.8zM527.9,19.8l2.9,5h-5.8zM528.5,28.7l2.9,5h-5.8zM521,18.7l2.9,5h-5.8zM175.5,326.7l2.9,5h-5.8zM181.1,322.7l2.9,5h-5.8zM187.9,320l2.9,5h-5.8zM141.3,369.4l2.9,5h-5.8zM103.1,402l2.9,5h-5.8zM254.4,239.1l2.9,5h-5.8zM257.1,245.1l2.9,5h-5.8zM238.7,250.3l2.9,5h-5.8zM243.1,267.6l2.9,5h-5.8zM236.4,275l2.9,5h-5.8zM220.7,286.3l2.9,5h-5.8zM209,309.9l2.9,5h-5.8zM321.5,162.6l2.9,5h-5.8zM339.9,174.9l2.9,5h-5.8zM283.7,224.4l2.9,5h-5.8zM450.6,58l2.9,5h-5.8zM424.3,97.3l2.9,5h-5.8zM409.7,105.9l2.9,5h-5.8zM403.6,127.2l2.9,5h-5.8zM142.5,454.9l2.9,5h-5.8zM177.8,410l2.9,5h-5.8zM185.2,397.4l2.9,5h-5.8zM216.6,370l2.9,5h-5.8zM225.6,366.6l2.9,5h-5.8zM286.9,317.4l2.9,5h-5.8zM283.7,326.4l2.9,5h-5.8zM272.9,326.6l2.9,5h-5.8zM259.9,345l2.9,5h-5.8zM372.4,225.8l2.9,5h-5.8zM348.3,232.6l2.9,5h-5.8zM319.1,264.7l2.9,5h-5.8zM313.5,264l2.9,5h-5.8zM308.5,258.4l2.9,5h-5.8z" fill="#4daf4a"/>
<path d="M139.9,382.2l2.9,-5h-5.8zM118.5,454.4l2.9,-5h-5.8zM101.6,466.6l2.9,-5h-5.8zM103.1,460.5l2.9,-5h-5.8zM85.5,451.4l2.9,-5h-5.8zM120.2,424.7l2.9,-5h-5.8zM96,422.4l2.9,-5h-5.8zM121,443.6l2.9,-5h-5.8zM100.7,431.5l2.9,-5h-5.8zM105.2,466.3l2.9,-5h-5.8zM85.6,467.2l2.9,-5h-5.8zM117.8,457.7l2.9,-5h-5.8zM102.7,461.6l2.9,-5h-5.8zM112.7,450.3l2.9,-5h-5.8zM112.9,431.9l2.9,-5h-5.8zM108.4,441.2l2.9,-5h-5.8zM112.9,455.6l2.9,-5h-5.8zM99.8,432.3l2.9,-5h-5.8zM101.5,465.9l2.9,-5h-5.8zM99.3,461.8l2.9,-5h-5.8zM108.2,462.5l2.9,-5h-5.8zM89.9,442.4l2.9,-5h-5.8zM101.9,458.9l2.9,-5h-5.8zM120.2,413l2.9,-5h-5.8zM114.3,462.1l2.9,-5h-5.8zM129.4,459.1l2.9,-5h-5.8zM85.6,452.6l2.9,-5h-5.8zM96.6,449.4l2.9,-5h-5.8zM116.5,431l2.9,-5h-5.8zM108.3,445.9l2.9,-5h-5.8zM100.2,438.7l2.9,-5h-5.8zM121.7,420.1l2.9,-5h-5.8zM99.1,457.5l2.9,-5h-5.8zM111.4,455.6l2.9,-5h-5.8zM101,461.3l2.9,-5h-5.8zM108,444.2l2.9,-5h-5.8zM96.8,444.6l2.9,-5h-5.8zM119,428.2l2.9,-5h-5.8zM103.9,439.9l2.9,-5h-5.8zM166.8,378.3l2.9,-5h-5.8zM144.7,427.2l2.9,-5h-5.8zM144.5,425.4l2.9,-5h-5.8zM164.6,373.7l2.9,-5h-5.8zM154.1,362.8l2.9,-5h-5.8zM160.1,393.6l2.9,-5h-5.8zM162.1,383.3l2.9,-5h-5.8zM150.4,379.5l2.9,-5h-5.8zM148.8,398.5l2.9,-5h-5.8zM146.7,421.2l2.9,-5h-5.8zM151.1,392.9l2.9,-5h-5.8zM161.4,379l2.9,-5h-5.8zM153,389.6l2.9,-5h-5.8zM176.6,411.3l2.9,-5h-5.8zM207.2,333.1l2.9,-5h-5.8zM205.3,334.2l2.9,-5h-5.8zM192,349.4l2.9,-5h-5.8zM179.7,394.2l2.9,-5h-5.8zM187.3,361.3l2.9,-5h-5.8zM198.3,392.7l2.9,-5h-5.8zM184.8,367.1l2.9,-5h-5.8zM190,358.1l2.9,-5h-5.8zM189.7,331.5l2.9,-5h-5.8zM243.5,308.7l2.9,-5h-5.8zM236.9,336.3l2.9,-5h-5.8zM254.4,288.6l2.9,-5h-5.8zM221,353.9l2.9,-5h-5.8zM221.6,299.3l2.9,-5h-5.8zM243.7,297.2l2.9,-5h-5.8zM248.9,278.8l2.9,-5h-5.8zM227.7,304.3l2.9,-5h-5.8zM261.4,291.4l2.9,-5h-5.8zM294.6,244.6l2.9,-5h-5.8zM265.5,311l2.9,-5h-5.8zM289.9,231.9l2.9,-5h-5.8zM278.2,252.6l2.9,-5h-5.8zM307.9,256.7l2.9,-5h-5.8zM292.6,242.2l2.9,-5h-5.8zM296.5,243.7l2.9,-5h-5.8zM268.8,252.1l2.9,-5h-5.8zM308.6,246.3l2.9,-5h-5.8zM297.5,237.9l2.9,-5h-5.8zM267.8,301.4l2.9,-5h-5.8zM267.6,255.7l2.9,-5h-5.8zM301.8,261.4l2.9,-5h-5.8zM265,310l2.9,-5h-5.8zM293.3,265.7l2.9,-5h-5.8zM320,211.8l2.9,-5h-5.8zM322.3,195.3l2.9,-5h-5.8zM313.1,253.3l2.9,-5h-5.8zM310.3,232.8l2.9,-5h-5.8zM314.8,250.3l2.9,-5h-5.8zM338.8,180.7l2.9,-5h-5.8zM323.8,237.6l2.9,-5h-5.8zM330.5,194l2.9,-5h-5.8zM314.1,222.8l2.9,-5h-5.8zM316.2,222l2.9,-5h-5.8zM325.4,253.4l2.9,-5h-5.8zM314.5,271.8l2.9,-5h-5.8zM309.5,222.1l2.9,-5h-5.8zM334.6,200.3l2.9,-5h-5.8zM315.7,247.8l2.9,-5h-5.8zM332.2,219.1l2.9,-5h-5.8zM312.6,234.7l2.9,-5h-5.8zM389.5,186l2.9,-5h-5.8zM381.1,164.4l2.9,-5h-5.8zM385.3,159.4l2.9,-5h-5.8zM395.7,170.8l2.9,-5h-5.8zM372.6,202.9l2.9,-5h-5.8zM387.2,180.4l2.9,-5h-5.8zM360.4,208.2l2.9,-5h-5.8zM398.2,170.2l2.9,-5h-5.8zM389.3,159.5l2.9,-5h-5.8zM382.8,152.9l2.9,-5h-5.8zM358.2,224l2.9,-5h-5.8zM397.7,175l2.9,-5h-5.8zM360.1,169.2l2.9,-5h-5.8zM391.7,173.4l2.9,-5h-5.8zM373.7,168.2l2.9,-5h-5.8zM397.5,162.7l2.9,-5h-5.8zM359.3,192.1l2.9,-5h-5.8zM364.5,156.4l2.9,-5h-5.8zM409.9,150.2l2.9,-5h-5.8zM417,155.1l2.9,-5h-5.8zM430.1,125.9l2.9,-5h-5.8zM428.7,118.9l2.9,-5h-5.8zM426.1,108.3l2.9,-5h-5.8zM400,150.5l2.9,-5h-5.8zM418.2,138l2.9,-5h-5.8zM415.2,127.1l2.9,-5h-5.8zM412.5,143.3l2.9,-5h-5.8zM429.1,111.2l2.9,-5h-5.8zM401.1,172.3l2.9,-5h-5.8zM442.5,122.8l2.9,-5h-5.8zM439.5,124.5l2.9,-5h-5.8zM442.5,98.4l2.9,-5h-5.8zM407.8,145.1l2.9,-5h-5.8zM399.3,177.8l2.9,-5h-5.8zM410.6,140.2l2.9,-5h-5.8zM438.2,105.6l2.9,-5h-5.8zM441.2,92.4l2.9,-5h-5.8zM419.3,122.4l2.9,-5h-5.8zM429.1,143.1l2.9,-5h-5.8zM485.5,68.3l2.9,-5h-5.8zM488.6,69.1l2.9,-5h-5.8zM464.7,102l2.9,-5h-5.8zM477.4,91.8l2.9,-5h-5.8zM450.7,89.1l2.9,-5h-5.8zM470.5,66.5l2.9,-5h-5.8zM478.3,71.9l2.9,-5h-5.8zM469.1,93l2.9,-5h-5.8zM473.8,102.1l2.9,-5h-5.8zM476.6,51.4l2.9,-5h-5.8zM451.8,95.8l2.9,-5h-5.8zM450.8,112.5l2.9,-5h-5.8zM451.8,118.4l2.9,-5h-5.8zM446.9,69.4l2.9,-5h-5.8zM452.9,105.3l2.9,-5h-5.8zM453.4,89.4l2.9,-5h-5.8zM462.3,82.2l2.9,-5h-5.8zM456.5,119.2l2.9,-5h-5.8zM473.3,70l2.9,-5h-5.8zM451.3,118.8l2.9,-5h-5.8zM478.5,79.6l2.9,-5h-5.8zM485.9,72l2.9,-5h-5.8zM479.3,79.1l2.9,-5h-5.8zM470.1,81.9l2.9,-5h-5.8zM447.6,93.1l2.9,-5h-5.8zM475.1,67.3l2.9,-5h-5.8zM473.6,70.1l2.9,-5h-5.8zM475.8,55.1l2.9,-5h-5.8zM497.4,61.6l2.9,-5h-5.8zM497.6,69l2.9,-5h-5.8zM504.8,63.3l2.9,-5h-5.8zM491.2,63.6l2.9,-5h-5.8zM508.9,51.9l2.9,-5h-5.8zM495.9,45.1l2.9,-5h-5.8zM508.6,42.2l2.9,-5h-5.8zM510,51.3l2.9,-5h-5.8zM508.2,33l2.9,-5h-5.8zM505.6,33.7l2.9,-5h-5.8zM491.2,61.4l2.9,-5h-5.8zM517.4,29.5l2.9,-5h-5.8zM534.3,18.5l2.9,-5h-5.8zM519.6,28.7l2.9,-5h-5.8zM513.6,32.9l2.9,-5h-5.8zM530.5,18l2.9,-5h-5.8zM526.5,22.4l2.9,-5h-5.8zM525.1,23.6l2.9,-5h-5.8zM187.9,317.1l2.9,-5h-5.8zM178.2,338.5l2.9,-5h-5.8zM192.4,330.6l2.9,-5h-5.8zM128.3,372.2l2.9,-5h-5.8zM107.4,377.1l2.9,-5h-5.8zM117.1,392.4l2.9,-5h-5.8zM122.2,400.3l2.9,-5h-5.8zM86.3,411.9l2.9,-5h-5.8zM244.7,254.6l2.9,-5h-5.8zM225.2,281.6l2.9,-5h-5.8zM224,290.1l2.9,-5h-5.8zM206.1,308.1l2.9,-5h-5.8zM188.1,317.1l2.9,-5h-5.8zM149.9,464.9l2.9,-5h-5.8zM140.2,457.7l2.9,-5h-5.8zM172.1,418.8l2.9,-5h-5.8zM187.4,394.1l2.9,-5h-5.8zM213.9,390.7l2.9,-5h-5.8zM320.1,283.3l2.9,-5h-5.8zM294.3,310.3l2.9,-5h-5.8zM283.7,327.1l2.9,-5h-5.8zM272.5,328.7l2.9,-5h-5.8zM370.3,222.5l2.9,-5h-5.8zM359.6,216.2l2.9,-5h-5.8zM346.7,238.7l2.9,-5h-5.8zM335.5,253.7l2.9,-5h-5.8zM336,285.9l2.9,-5h-5.8zM449.6,126.2l2.9,-5h-5.8zM445.1,126.2l2.9,-5h-5.8z" fill="#984ea3"/>
<path d="M120.5,446.6l-5,2.9v-5.8zM107.9,432.5l-5,2.9v-5.8zM93,445.6l-5,2.9v-5.8zM90.8,462.8l-5,2.9v-5.8zM90,451l-5,2.9v-5.8zM108.2,460.8l-5,2.9v-5.8zM96.3,449.9l-5,2.9v-5.8zM88.8,459.8l-5,2.9v-5.8zM123,425.8l-5,2.9v-5.8zM87.9,451.8l-5,2.9v-5.8zM90.9,457.9l-5,2.9v-5.8zM87.6,458.6l-5,2.9v-5.8zM88.4,445.3l-5,2.9v-5.8zM94.8,464.7l-5,2.9v-5.8zM106.3,463.3l-5,2.9v-5.8zM96.9,459.8l-5,2.9v-5.8zM95.5,453.7l-5,2.9v-5.8zM114.7,460.1l-5,2.9v-5.8zM89,456.8l-5,2.9v-5.8zM113.7,451.7l-5,2.9v-5.8zM100.4,449.6l-5,2.9v-5.8zM97.4,437.2l-5,2.9v-5.8zM92.1,431.8l-5,2.9v-5.8zM100,464.4l-5,2.9v-5.8zM115.4,445.7l-5,2.9v-5.8zM91.7,434l-5,2.9v-5.8zM90,463.5l-5,2.9v-5.8zM112.1,457.3l-5,2.9v-5.8zM103.9,437.5l-5,2.9v-5.8zM108.4,455.3l-5,2.9v-5.8zM124.2,409.7l-5,2.9v-5.8zM102.1,463.9l-5,2.9v-5.8zM123.9,421.4l-5,2.9v-5.8zM102.8,454.7l-5,2.9v-5.8zM106.7,444.3l-5,2.9v-5.8zM121.2,444.4l-5,2.9v-5.8zM147.8,396.7l-5,2.9v-5.8zM136.5,422.6l-5,2.9v-5.8zM130.8,424.9l-5,2.9v-5.8zM151.4,403.1l-5,2.9v-5.8zM145,406.5l-5,2.9v-5.8zM152.3,397.5l-5,2.9v-5.8zM147.7,381.4l-5,2.9v-5.8zM136.1,426.8l-5,2.9v-5.8zM162.4,374.4l-5,2.9v-5.8zM132.9,425.1l-5,2.9v-5.8zM160.8,402.1l-5,2.9v-5.8zM151.8,411.3l-5,2.9v-5.8zM157.5,383.6l-5,2.9v-5.8zM193.4,358.4l-5,2.9v-5.8zM204.3,383.2l-5,2.9v-5.8zM219.8,371.4l-5,2.9v-5.8zM185.6,389.6l-5,2.9v-5.8zM187.5,346.6l-5,2.9v-5.8zM207.7,371.3l-5,2.9v-5.8zM183,348.8l-5,2.9v-5.8zM175.7,366.3l-5,2.9v-5.8zM203.7,364.7l-5,2.9v-5.8zM179.2,376l-5,2.9v-5.8zM221.2,307.2l-5,2.9v-5.8zM257.6,285.3l-5,2.9v-5.8zM230.2,286.4l-5,2.9v-5.8zM245.6,290.8l-5,2.9v-5.8zM259.3,306.3l-5,2.9v-5.8zM234.5,311.8l-5,2.9v-5.8zM265.1,324l-5,2.9v-5.8zM226,309.2l-5,2.9v-5.8zM244.4,323.9l-5,2.9v-5.8zM262.3,302.8l-5,2.9v-5.8zM262.1,265.9l-5,2.9v-5.8zM259.3,287.1l-5,2.9v-5.8zM286.1,284.9l-5,2.9v-5.8zM281.8,277.7l-5,2.9v-5.8zM310.4,238.3l-5,2.9v-5.8zM311,264.1l-5,2.9v-5.8zM284.7,239.1l-5,2.9v-5.8zM307.7,270.7l-5,2.9v-5.8zM301.1,256.5l-5,2.9v-5.8zM303.4,248.9l-5,2.9v-5.8zM282.7,258.4l-5,2.9v-5.8zM295.5,240l-5,2.9v-5.8zM284.5,260l-5,2.9v-5.8zM275.7,276.5l-5,2.9v-5.8zM266.7,274.7l-5,2.9v-5.8zM285.9,265.6l-5,2.9v-5.8zM299.8,274.7l-5,2.9v-5.8zM267.3,306.9l-5,2.9v-5.8zM309.7,252.1l-5,2.9v-5.8zM342.7,247.1l-5,2.9v-5.8zM312,274.1l-5,2.9v-5.8zM333.6,233l-5,2.9v-5.8zM323.7,263.5l-5,2.9v-5.8zM325,247.4l-5,2.9v-5.8zM315.6,227.5l-5,2.9v-5.8zM348.9,198l-5,2.9v-5.8zM347.6,176.7l-5,2.9v-5.8zM311.7,227.6l-5,2.9v-5.8zM337.8,245.8l-5,2.9v-5.8zM315.7,217.6l-5,2.9v-5.8zM340.8,249.2l-5,2.9v-5.8zM312,205.8l-5,2.9v-5.8zM327.7,204.1l-5,2.9v-5.8zM322.7,220l-5,2.9v-5.8zM347.3,197l-5,2.9v-5.8zM345.9,231.7l-5,2.9v-5.8zM328.7,250.2l-5,2.9v-5.8zM313.6,232.2l-5,2.9v-5.8zM321.9,217.2l-5,2.9v-5.8zM343.5,213.2l-5,2.9v-5.8zM364.4,176.7l-5,2.9v-5.8zM361.9,220.1l-5,2.9v-5.8zM381.6,165l-5,2.9v-5.8zM390.2,142.4l-5,2.9v-5.8zM361.5,195.7l-5,2.9v-5.8zM367.4,182.3l-5,2.9v-5.8zM368.5,177l-5,2.9v-5.8zM389.6,164.1l-5,2.9v-5.8zM386.5,158.5l-5,2.9v-5.8zM401,136.3l-5,2.9v-5.8zM379.8,170.2l-5,2.9v-5.8zM390,174l-5,2.9v-5.8zM386,164.9l-5,2.9v-5.8zM399.3,165.4l-5,2.9v-5.8zM364.7,164.9l-5,2.9v-5.8zM397.3,143.8l-5,2.9v-5.8zM362.9,184.8l-5,2.9v-5.8zM382.9,168.7l-5,2.9v-5.8zM399.4,152.9l-5,2.9v-5.8zM379.7,157.8l-5,2.9v-5.8zM366.3,185.6l-5,2.9v-5.8zM401.7,141.2l-5,2.9v-5.8zM374.9,178.8l-5,2.9v-5.8zM357.6,171.1l-5,2.9v-5.8zM356.5,202.2l-5,2.9v-5.8zM381.9,168.7l-5,2.9v-5.8zM399.9,146.3l-5,2.9v-5.8zM425.4,119.4l-5,2.9v-5.8zM409.3,139.3l-5,2.9v-5.8zM420.2,116.1l-5,2.9v-5.8zM413.9,154.9l-5,2.9v-5.8zM404.1,139.2l-5,2.9v-5.8zM414.8,135.3l-5,2.9v-5.8zM420.7,125.6l-5,2.9v-5.8zM424.9,138.4l-5,2.9v-5.8zM431.5,101l-5,2.9v-5.8zM410.5,154.6l-5,2.9v-5.8zM427.5,123.7l-5,2.9v-5.8zM418.3,126l-5,2.9v-5.8zM405.1,159.7l-5,2.9v-5.8zM437.9,110.8l-5,2.9v-5.8zM432.4,109l-5,2.9v-5.8zM437.3,93.4l-5,2.9v-5.8zM445.1,87.7l-5,2.9v-5.8zM412.3,143.5l-5,2.9v-5.8zM431.7,118.2l-5,2.9v-5.8zM413.8,130.9l-5,2.9v-5.8zM420.1,128.3l-5,2.9v-5.8zM444.4,109.3l-5,2.9v-5.8zM409.7,131.2l-5,2.9v-5.8zM409,151.5l-5,2.9v-5.8zM436.4,123.8l-5,2.9v-5.8zM445.4,115.8l-5,2.9v-5.8zM415.3,150.1l-5,2.9v-5.8zM441.3,119.9l-5,2.9v-5.8zM402.4,149.1l-5,2.9v-5.8zM447.2,100.5l-5,2.9v-5.8zM447.1,110.1l-5,2.9v-5.8zM447.8,128.2l-5,2.9v-5.8zM490.8,67.3l-5,2.9v-5.8zM465.8,86.2l-5,2.9v-5.8zM449.4,91.3l-5,2.9v-5.8zM478.5,66.3l-5,2.9v-5.8zM479.9,63.9l-5,2.9v-5.8zM472.3,60.9l-5,2.9v-5.8zM478.3,70.9l-5,2.9v-5.8zM483.2,53.3l-5,2.9v-5.8zM455.6,93.8l-5,2.9v-5.8zM451.2,105.9l-5,2.9v-5.8zM453.2,88.3l-5,2.9v-5.8zM457.9,85.5l-5,2.9v-5.8zM471.1,66l-5,2.9v-5.8zM457,98.4l-5,2.9v-5.8zM487.7,73.8l-5,2.9v-5.8zM476.9,72l-5,2.9v-5.8zM484.4,52.7l-5,2.9v-5.8zM482.9,68.7l-5,2.9v-5.8zM474.5,79.5l-5,2.9v-5.8zM453.8,100.1l-5,2.9v-5.8zM467.8,93.4l-5,2.9v-5.8zM463.4,88.1l-5,2.9v-5.8zM509.7,46.7l-5,2.9v-5.8zM497.9,46.7l-5,2.9v-5.8zM499.4,50.7l-5,2.9v-5.8zM502.3,56.2l-5,2.9v-5.8zM506.2,48.5l-5,2.9v-5.8zM493,64l-5,2.9v-5.8zM495.1,57l-5,2.9v-5.8zM531.8,18.3l-5,2.9v-5.8zM516.7,32.9l-5,2.9v-5.8zM521.3,30l-5,2.9v-5.8zM517.2,42.1l-5,2.9v-5.8zM199.4,315.3l-5,2.9v-5.8zM274.9,240.4l-5,2.9v-5.8zM256.4,260.2l-5,2.9v-5.8zM215.3,310.1l-5,2.9v-5.8zM173.1,414l-5,2.9v-5.8zM239.4,374.7l-5,2.9v-5.8zM236.8,346.4l-5,2.9v-5.8zM356.4,228.3l-5,2.9v-5.8zM507.6,105.1l-5,2.9v-5.8z" fill="#ff7f00"/>
<path d="M91.4,455.4l5,2.9v-5.8zM95.4,458.1l5,2.9v-5.8zM108.1,461.3l5,2.9v-5.8zM92.9,458.6l5,2.9v-5.8zM148.4,429.8l5,2.9v-5.8zM94.9,462.9l5,2.9v-5.8zM134.4,427.4l5,2.9v-5.8zM97.9,432.4l5,2.9v-5.8zM91.2,463.8l5,2.9v-5.8zM109,462.5l5,2.9v-5.8zM121.6,441.8l5,2.9v-5.8zM93.9,451.3l5,2.9v-5.8zM85.1,456.5l5,2.9v-5.8zM102.9,457.4l5,2.9v-5.8zM101.1,411.2l5,2.9v-5.8zM96.6,435.7l5,2.9v-5.8zM121.2,456.6l5,2.9v-5.8zM95.8,460.7l5,2.9v-5.8zM104.7,448.7l5,2.9v-5.8zM105.9,438.7l5,2.9v-5.8zM126.7,451.9l5,2.9v-5.8zM83.6,461.9l5,2.9v-5.8zM115.9,412.2l5,2.9v-5.8zM118.2,460.2l5,2.9v-5.8zM124.8,443.1l5,2.9v-5.8zM99.8,459.1l5,2.9v-5.8zM100,460.4l5,2.9v-5.8zM101.4,446.7l5,2.9v-5.8zM93.4,443.1l5,2.9v-5.8zM95.8,442.7l5,2.9v-5.8zM117.7,452.9l5,2.9v-5.8zM119.2,425.6l5,2.9v-5.8zM101.8,464l5,2.9v-5.8zM98,441.5l5,2.9v-5.8zM120.5,438.4l5,2.9v-5.8zM98.2,457.7l5,2.9v-5.8zM95.3,464.7l5,2.9v-5.8zM104.5,433.7l5,2.9v-5.8zM104.5,459.1l5,2.9v-5.8zM94.6,465.4l5,2.9v-5.8zM117.2,436.5l5,2.9v-5.8zM143.6,410.4l5,2.9v-5.8zM165.9,359.1l5,2.9v-5.8zM158.6,393.9l5,2.9v-5.8zM152,397.1l5,2.9v-5.8zM147.3,403.9l5,2.9v-5.8zM141.8,413.3l5,2.9v-5.8zM156.9,368.2l5,2.9v-5.8zM145,396.2l5,2.9v-5.8zM129.6,412.6l5,2.9v-5.8zM135.5,424.7l5,2.9v-5.8zM135.3,424.6l5,2.9v-5.8zM157.5,408.3l5,2.9v-5.8zM140.3,405.8l5,2.9v-5.8zM193.3,319.9l5,2.9v-5.8zM215.9,322.4l5,2.9v-5.8zM195.6,378.8l5,2.9v-5.8zM180,337.8l5,2.9v-5.8zM196,316l5,2.9v-5.8zM207,339.7l5,2.9v-5.8zM189.6,393l5,2.9v-5.8zM170.9,358.8l5,2.9v-5.8zM204.5,344.1l5,2.9v-5.8zM178.6,359.4l5,2.9v-5.8zM248.5,274.2l5,2.9v-5.8zM248,292.5l5,2.9v-5.8zM258.6,326l5,2.9v-5.8zM251.9,301.2l5,2.9v-5.8zM231.1,343.1l5,2.9v-5.8zM223.2,325.5l5,2.9v-5.8zM229.6,353.7l5,2.9v-5.8zM224.6,350.7l5,2.9v-5.8zM237.6,336.6l5,2.9v-5.8zM242.6,341.6l5,2.9v-5.8zM234.1,327.7l5,2.9v-5.8zM292.3,228.3l5,2.9v-5.8zM287,255.3l5,2.9v-5.8zM294,236.5l5,2.9v-5.8zM280.6,273.8l5,2.9v-5.8zM291,244.7l5,2.9v-5.8zM299.6,233.4l5,2.9v-5.8zM291.7,270.9l5,2.9v-5.8zM269.3,282.1l5,2.9v-5.8zM297.3,254.3l5,2.9v-5.8zM283.5,275.1l5,2.9v-5.8zM303.1,260.3l5,2.9v-5.8zM278.6,249.7l5,2.9v-5.8zM272.9,288.1l5,2.9v-5.8zM302.4,261.1l5,2.9v-5.8zM298.2,236.5l5,2.9v-5.8zM309,262.9l5,2.9v-5.8zM308.9,235.5l5,2.9v-5.8zM338.9,241.9l5,2.9v-5.8zM310.4,264.3l5,2.9v-5.8zM340.1,242.6l5,2.9v-5.8zM345.8,211.6l5,2.9v-5.8zM350.5,229.8l5,2.9v-5.8zM307.3,230.9l5,2.9v-5.8zM314.5,224.9l5,2.9v-5.8zM350.1,210.4l5,2.9v-5.8zM317.8,221.5l5,2.9v-5.8zM351.3,224.5l5,2.9v-5.8zM313.2,213.4l5,2.9v-5.8zM337.1,189.5l5,2.9v-5.8zM332.3,206.3l5,2.9v-5.8zM333.5,180.9l5,2.9v-5.8zM345.2,194.5l5,2.9v-5.8zM323.6,202.1l5,2.9v-5.8zM387.1,139l5,2.9v-5.8zM370.2,168.2l5,2.9v-5.8zM384.5,127.9l5,2.9v-5.8zM379.3,176.4l5,2.9v-5.8zM363.7,175.4l5,2.9v-5.8zM396.3,176.6l5,2.9v-5.8zM385.8,143.9l5,2.9v-5.8zM373.6,146.7l5,2.9v-5.8zM355.3,174.7l5,2.9v-5.8zM377.4,147.5l5,2.9v-5.8zM370.8,156.9l5,2.9v-5.8zM356.2,164l5,2.9v-5.8zM371.5,177.2l5,2.9v-5.8zM355.9,212.8l5,2.9v-5.8zM361.2,209l5,2.9v-5.8zM394.2,127.3l5,2.9v-5.8zM377.4,198.1l5,2.9v-5.8zM369.7,167.9l5,2.9v-5.8zM356.9,178.7l5,2.9v-5.8zM353.9,192.5l5,2.9v-5.8zM380.3,173.8l5,2.9v-5.8zM433.6,88.9l5,2.9v-5.8zM437.1,94.7l5,2.9v-5.8zM417.9,146.6l5,2.9v-5.8zM405.1,112.3l5,2.9v-5.8zM402.2,148.4l5,2.9v-5.8zM438.8,100.1l5,2.9v-5.8zM408.1,109.3l5,2.9v-5.8zM424.5,133.6l5,2.9v-5.8zM435.4,81.4l5,2.9v-5.8zM433.2,125.6l5,2.9v-5.8zM407.2,106.4l5,2.9v-5.8zM404,149.9l5,2.9v-5.8zM415.1,137.4l5,2.9v-5.8zM419,150l5,2.9v-5.8zM423.4,130.7l5,2.9v-5.8zM413.4,120.4l5,2.9v-5.8zM440.5,91.3l5,2.9v-5.8zM410.9,169.4l5,2.9v-5.8zM409.6,115.3l5,2.9v-5.8zM413.1,140l5,2.9v-5.8zM421.3,137.2l5,2.9v-5.8zM410.3,120.3l5,2.9v-5.8zM440.7,105.1l5,2.9v-5.8zM406,116.9l5,2.9v-5.8zM427,97.6l5,2.9v-5.8zM474.2,81.8l5,2.9v-5.8zM485.8,61.2l5,2.9v-5.8zM442.4,125.6l5,2.9v-5.8zM442.6,80.8l5,2.9v-5.8zM446.6,113.2l5,2.9v-5.8zM481.8,51.3l5,2.9v-5.8zM473.5,75.4l5,2.9v-5.8zM486.3,60.7l5,2.9v-5.8zM458.4,80l5,2.9v-5.8zM486.9,63.5l5,2.9v-5.8zM474.8,77.7l5,2.9v-5.8zM482.7,95l5,2.9v-5.8zM448.7,88.6l5,2.9v-5.8zM467.9,64.8l5,2.9v-5.8zM466.5,89.8l5,2.9v-5.8zM452.7,88.8l5,2.9v-5.8zM446.1,109.1l5,2.9v-5.8zM457.1,101.3l5,2.9v-5.8zM462.4,106l5,2.9v-5.8zM469.3,114.4l5,2.9v-5.8zM457,99.4l5,2.9v-5.8zM465.1,75.6l5,2.9v-5.8zM449,78.9l5,2.9v-5.8zM461.4,119.1l5,2.9v-5.8zM480.3,59.8l5,2.9v-5.8zM444.6,113.1l5,2.9v-5.8zM446.6,107.8l5,2.9v-5.8zM472.2,74.3l5,2.9v-5.8zM446.1,126.3l5,2.9v-5.8zM460,75.1l5,2.9v-5.8zM486.9,63.5l5,2.9v-5.8zM460.1,94.4l5,2.9v-5.8zM449,66.2l5,2.9v-5.8zM446.5,101.4l5,2.9v-5.8zM450.7,91.2l5,2.9v-5.8zM484.2,71.9l5,2.9v-5.8zM448.3,86.8l5,2.9v-5.8zM473.5,52.5l5,2.9v-5.8zM478.2,62.1l5,2.9v-5.8zM444.4,114l5,2.9v-5.8zM458.5,70.4l5,2.9v-5.8zM486.2,96.8l5,2.9v-5.8zM503.6,31l5,2.9v-5.8zM503.4,25.6l5,2.9v-5.8zM502.4,59.5l5,2.9v-5.8zM507,26l5,2.9v-5.8zM506.7,47.9l5,2.9v-5.8zM501.7,40.1l5,2.9v-5.8zM498.1,34.3l5,2.9v-5.8zM498.7,49.7l5,2.9v-5.8zM498.6,33.7l5,2.9v-5.8zM491.4,51.9l5,2.9v-5.8zM504.8,56.1l5,2.9v-5.8zM508.1,40.1l5,2.9v-5.8zM503.2,32.8l5,2.9v-5.8zM503.7,47.7l5,2.9v-5.8zM495.3,42.1l5,2.9v-5.8zM491.9,66.2l5,2.9v-5.8zM501.5,57.9l5,2.9v-5.8zM488.6,76.7l5,2.9v-5.8zM505.4,62.3l5,2.9v-5.8zM489.6,70.7l5,2.9v-5.8zM493.3,51.8l5,2.9v-5.8zM530,20.7l5,2.9v-5.8zM516.9,27.1l5,2.9v-5.8zM513.4,29.1l5,2.9v-5.8zM529,20.5l5,2.9v-5.8zM514.1,21.9l5,2.9v-5.8zM519.7,19.4l5,2.9v-5.8zM515.6,31.2l5,2.9v-5.8zM518.2,27.4l5,2.9v-5.8zM525.2,20l5,2.9v-5.8zM516.4,26.2l5,2.9v-5.8zM523,24.9l5,2.9v-5.8zM510.6,42.8l5,2.9v-5.8zM512.6,38.5l5,2.9v-5.8zM519.2,26.6l5,2.9v-5.8zM518.3,21.2l5,2.9v-5.8zM528.1,31.8l5,2.9v-5.8zM511,32.2l5,2.9v-5.8zM523.9,26.7l5,2.9v-5.8zM169,341.6l5,2.9v-5.8zM273.7,225.8l5,2.9v-5.8zM243.3,260.2l5,2.9v-5.8zM225.6,271.5l5,2.9v-5.8zM172.6,287.6l5,2.9v-5.8zM351.3,129.8l5,2.9v-5.8zM353.1,156.1l5,2.9v-5.8zM312.2,167.3l5,2.9v-5.8zM328.8,168.9l5,2.9v-5.8zM337.8,167.3l5,2.9v-5.8zM344.1,174l5,2.9v-5.8zM314.9,189.1l5,2.9v-5.8zM304.1,202.6l5,2.9v-5.8zM285.7,212.2l5,2.9v-5.8zM274.5,225.7l5,2.9v-5.8zM447.2,39.2l5,2.9v-5.8zM413.9,89.3l5,2.9v-5.8zM379.1,96.7l5,2.9v-5.8zM385.8,108.8l5,2.9v-5.8zM395.5,113.3l5,2.9v-5.8zM351.4,129.7l5,2.9v-5.8zM395.5,130.9l5,2.9v-5.8zM511.4,69.1l5,2.9v-5.8zM176.4,456.1l5,2.9v-5.8zM159.1,438.3l5,2.9v-5.8zM160.2,431.3l5,2.9v-5.8zM165.8,425.3l5,2.9v-5.8zM213.7,391.6l5,2.9v-5.8zM213,388.7l5,2.9v-5.8zM272.7,311.1l5,2.9v-5.8zM377.7,208.8l5,2.9v-5.8zM381.1,211.5l5,2.9v-5.8zM377.3,229l5,2.9v-5.8zM387.4,258.7l5,2.9v-5.8zM419,170.9l5,2.9v-5.8zM350.6,328.8l5,2.9v-5.8z" fill="#ffff33"/>
<path d="M91.9,455.9l2.2,3l-2.2,3l-2.2,-3zM95.6,460.4l2.2,3l-2.2,3l-2.2,-3zM126,408.8l2.2,3l-2.2,3l-2.2,-3zM113.2,429.9l2.2,3l-2.2,3l-2.2,-3zM99.5,456.3l2.2,3l-2.2,3l-2.2,-3zM86.1,452.8l2.2,3l-2.2,3l-2.2,-3zM90.5,448.2l2.2,3l-2.2,3l-2.2,-3zM103.9,450.5l2.2,3l-2.2,3l-2.2,-3zM85.5,455.1l2.2,3l-2.2,3l-2.2,-3zM113.1,437.6l2.2,3l-2.2,3l-2.2,-3zM86.2,436.4l2.2,3l-2.2,3l-2.2,-3zM86.4,431.5l2.2,3l-2.2,3l-2.2,-3zM120.2,437.3l2.2,3l-2.2,3l-2.2,-3zM102,446.6l2.2,3l-2.2,3l-2.2,-3zM105.7,456.6l2.2,3l-2.2,3l-2.2,-3zM94.7,436.6l2.2,3l-2.2,3l-2.2,-3zM91.1,433.7l2.2,3l-2.2,3l-2.2,-3zM108.4,451l2.2,3l-2.2,3l-2.2,-3zM88.9,443.2l2.2,3l-2.2,3l-2.2,-3zM126.8,460l2.2,3l-2.2,3l-2.2,-3zM106.5,432.8l2.2,3l-2.2,3l-2.2,-3zM90.8,453.9l2.2,3l-2.2,3l-2.2,-3zM117.2,424.9l2.2,3l-2.2,3l-2.2,-3zM109.1,452.6l2.2,3l-2.2,3l-2.2,-3zM108.1,460.8l2.2,3l-2.2,3l-2.2,-3zM117.9,422.8l2.2,3l-2.2,3l-2.2,-3zM111.2,442.5l2.2,3l-2.2,3l-2.2,-3zM104.5,451.8l2.2,3l-2.2,3l-2.2,-3zM115.7,434l2.2,3l-2.2,3l-2.2,-3zM100.5,434.2l2.2,3l-2.2,3l-2.2,-3zM134,423.2l2.2,3l-2.2,3l-2.2,-3zM163.2,386.9l2.2,3l-2.2,3l-2.2,-3zM147.9,397.2l2.2,3l-2.2,3l-2.2,-3zM148.2,405.7l2.2,3l-2.2,3l-2.2,-3zM157.4,360l2.2,3l-2.2,3l-2.2,-3zM171.9,367.5l2.2,3l-2.2,3l-2.2,-3zM166.2,381.3l2.2,3l-2.2,3l-2.2,-3zM168.2,377.4l2.2,3l-2.2,3l-2.2,-3zM159.1,378.6l2.2,3l-2.2,3l-2.2,-3zM143.2,383.5l2.2,3l-2.2,3l-2.2,-3zM176.1,362.5l2.2,3l-2.2,3l-2.2,-3zM186.4,352.7l2.2,3l-2.2,3l-2.2,-3zM217.9,333.9l2.2,3l-2.2,3l-2.2,-3zM209.8,372.4l2.2,3l-2.2,3l-2.2,-3zM215,297.3l2.2,3l-2.2,3l-2.2,-3zM212.1,358.5l2.2,3l-2.2,3l-2.2,-3zM193.8,345.6l2.2,3l-2.2,3l-2.2,-3zM185.9,359.1l2.2,3l-2.2,3l-2.2,-3zM191.1,321.8l2.2,3l-2.2,3l-2.2,-3zM235,288.1l2.2,3l-2.2,3l-2.2,-3zM219.6,315.9l2.2,3l-2.2,3l-2.2,-3zM227.8,327.1l2.2,3l-2.2,3l-2.2,-3zM248.1,279.2l2.2,3l-2.2,3l-2.2,-3zM239.7,279.2l2.2,3l-2.2,3l-2.2,-3zM227.3,315.5l2.2,3l-2.2,3l-2.2,-3zM230.8,320.4l2.2,3l-2.2,3l-2.2,-3zM235.4,319l2.2,3l-2.2,3l-2.2,-3zM218.4,304.3l2.2,3l-2.2,3l-2.2,-3zM243.3,284.6l2.2,3l-2.2,3l-2.2,-3zM253.9,274.1l2.2,3l-2.2,3l-2.2,-3zM238.1,304.8l2.2,3l-2.2,3l-2.2,-3zM282.2,289.7l2.2,3l-2.2,3l-2.2,-3zM302.8,272.2l2.2,3l-2.2,3l-2.2,-3zM289.7,249.9l2.2,3l-2.2,3l-2.2,-3zM287.9,256.2l2.2,3l-2.2,3l-2.2,-3zM305.6,222.3l2.2,3l-2.2,3l-2.2,-3zM289.4,237.5l2.2,3l-2.2,3l-2.2,-3zM277.4,266.1l2.2,3l-2.2,3l-2.2,-3zM292.9,254.6l2.2,3l-2.2,3l-2.2,-3zM266.5,268.8l2.2,3l-2.2,3l-2.2,-3zM296.7,234.8l2.2,3l-2.2,3l-2.2,-3zM302.9,280l2.2,3l-2.2,3l-2.2,-3zM275,270.4l2.2,3l-2.2,3l-2.2,-3zM284.4,249.5l2.2,3l-2.2,3l-2.2,-3zM296.3,292.7l2.2,3l-2.2,3l-2.2,-3zM278.5,258.4l2.2,3l-2.2,3l-2.2,-3zM273,259.9l2.2,3l-2.2,3l-2.2,-3zM277.7,273.4l2.2,3l-2.2,3l-2.2,-3zM286.7,255.7l2.2,3l-2.2,3l-2.2,-3zM330.3,238.9l2.2,3l-2.2,3l-2.2,-3zM349.1,209.2l2.2,3l-2.2,3l-2.2,-3zM334.8,215.8l2.2,3l-2.2,3l-2.2,-3zM347.9,172.4l2.2,3l-2.2,3l-2.2,-3zM309.4,260.7l2.2,3l-2.2,3l-2.2,-3zM346.9,218.6l2.2,3l-2.2,3l-2.2,-3zM341,197l2.2,3l-2.2,3l-2.2,-3zM338.5,215.7l2.2,3l-2.2,3l-2.2,-3zM323.5,208.6l2.2,3l-2.2,3l-2.2,-3zM321.8,209.8l2.2,3l-2.2,3l-2.2,-3zM333.5,197.4l2.2,3l-2.2,3l-2.2,-3zM311.9,219.6l2.2,3l-2.2,3l-2.2,-3zM325.5,233.2l2.2,3l-2.2,3l-2.2,-3zM314.3,231.2l2.2,3l-2.2,3l-2.2,-3zM352.5,188.4l2.2,3l-2.2,3l-2.2,-3zM323.4,188.5l2.2,3l-2.2,3l-2.2,-3zM326.6,215.9l2.2,3l-2.2,3l-2.2,-3zM329.1,225.2l2.2,3l-2.2,3l-2.2,-3zM343.3,204.7l2.2,3l-2.2,3l-2.2,-3zM328,215l2.2,3l-2.2,3l-2.2,-3zM319.6,212.1l2.2,3l-2.2,3l-2.2,-3zM350.2,192.4l2.2,3l-2.2,3l-2.2,-3zM386.1,153.6l2.2,3l-2.2,3l-2.2,-3zM386.4,154.4l2.2,3l-2.2,3l-2.2,-3zM359.7,217.8l2.2,3l-2.2,3l-2.2,-3zM364.1,210l2.2,3l-2.2,3l-2.2,-3zM377.4,173.9l2.2,3l-2.2,3l-2.2,-3zM364.9,165.1l2.2,3l-2.2,3l-2.2,-3zM358.4,182.4l2.2,3l-2.2,3l-2.2,-3zM381,152l2.2,3l-2.2,3l-2.2,-3zM380.6,159.6l2.2,3l-2.2,3l-2.2,-3zM376.5,172.1l2.2,3l-2.2,3l-2.2,-3zM367.5,162.2l2.2,3l-2.2,3l-2.2,-3zM357.9,186.8l2.2,3l-2.2,3l-2.2,-3zM377,164.1l2.2,3l-2.2,3l-2.2,-3zM370.9,179.6l2.2,3l-2.2,3l-2.2,-3zM394.4,127.1l2.2,3l-2.2,3l-2.2,-3zM365.6,167.8l2.2,3l-2.2,3l-2.2,-3zM383.3,133.1l2.2,3l-2.2,3l-2.2,-3zM357.6,211.3l2.2,3l-2.2,3l-2.2,-3zM381.9,164.5l2.2,3l-2.2,3l-2.2,-3zM383.9,165.4l2.2,3l-2.2,3l-2.2,-3zM383.4,191l2.2,3l-2.2,3l-2.2,-3zM397.4,157.4l2.2,3l-2.2,3l-2.2,-3zM387.5,148.5l2.2,3l-2.2,3l-2.2,-3zM379.8,144.1l2.2,3l-2.2,3l-2.2,-3zM389.2,163.3l2.2,3l-2.2,3l-2.2,-3zM392,158l2.2,3l-2.2,3l-2.2,-3zM391.7,173.7l2.2,3l-2.2,3l-2.2,-3zM389.6,166.4l2.2,3l-2.2,3l-2.2,-3zM392.1,142l2.2,3l-2.2,3l-2.2,-3zM406.9,136.7l2.2,3l-2.2,3l-2.2,-3zM403.9,134.1l2.2,3l-2.2,3l-2.2,-3zM409.4,132l2.2,3l-2.2,3l-2.2,-3zM411.3,143.4l2.2,3l-2.2,3l-2.2,-3zM416.4,134.8l2.2,3l-2.2,3l-2.2,-3zM416.2,128.4l2.2,3l-2.2,3l-2.2,-3zM400.3,138.7l2.2,3l-2.2,3l-2.2,-3zM425.6,124.9l2.2,3l-2.2,3l-2.2,-3zM416.1,108l2.2,3l-2.2,3l-2.2,-3zM404.9,127.7l2.2,3l-2.2,3l-2.2,-3zM435.8,107.9l2.2,3l-2.2,3l-2.2,-3zM423.6,126.2l2.2,3l-2.2,3l-2.2,-3zM407.9,135.4l2.2,3l-2.2,3l-2.2,-3zM426.3,130.5l2.2,3l-2.2,3l-2.2,-3zM424.9,123.3l2.2,3l-2.2,3l-2.2,-3zM414.3,128.4l2.2,3l-2.2,3l-2.2,-3zM428.4,115.5l2.2,3l-2.2,3l-2.2,-3zM420.1,134.2l2.2,3l-2.2,3l-2.2,-3zM404.2,141.1l2.2,3l-2.2,3l-2.2,-3zM439.6,93.8l2.2,3l-2.2,3l-2.2,-3zM421.5,115l2.2,3l-2.2,3l-2.2,-3zM435.1,110.6l2.2,3l-2.2,3l-2.2,-3zM443.2,110.2l2.2,3l-2.2,3l-2.2,-3zM400,137l2.2,3l-2.2,3l-2.2,-3zM437.7,110.2l2.2,3l-2.2,3l-2.2,-3zM410,145.1l2.2,3l-2.2,3l-2.2,-3zM422.1,116.1l2.2,3l-2.2,3l-2.2,-3zM444.3,97.7l2.2,3l-2.2,3l-2.2,-3zM401.7,143.4l2.2,3l-2.2,3l-2.2,-3zM430.8,123.9l2.2,3l-2.2,3l-2.2,-3zM399.8,151.5l2.2,3l-2.2,3l-2.2,-3zM427.3,124.9l2.2,3l-2.2,3l-2.2,-3zM417.5,121.2l2.2,3l-2.2,3l-2.2,-3zM435.4,123.3l2.2,3l-2.2,3l-2.2,-3zM443.9,75.3l2.2,3l-2.2,3l-2.2,-3zM429.3,125.8l2.2,3l-2.2,3l-2.2,-3zM436.6,115.9l2.2,3l-2.2,3l-2.2,-3zM412.6,136.7l2.2,3l-2.2,3l-2.2,-3zM459.5,101.7l2.2,3l-2.2,3l-2.2,-3zM470.1,82.8l2.2,3l-2.2,3l-2.2,-3zM469.4,83l2.2,3l-2.2,3l-2.2,-3zM472.6,84.5l2.2,3l-2.2,3l-2.2,-3zM487.3,60.7l2.2,3l-2.2,3l-2.2,-3zM484.1,50.9l2.2,3l-2.2,3l-2.2,-3zM480.7,62.8l2.2,3l-2.2,3l-2.2,-3zM454.7,96.3l2.2,3l-2.2,3l-2.2,-3zM471,78.7l2.2,3l-2.2,3l-2.2,-3zM487.5,63.2l2.2,3l-2.2,3l-2.2,-3zM480.8,60.2l2.2,3l-2.2,3l-2.2,-3zM479.5,88.6l2.2,3l-2.2,3l-2.2,-3zM466.8,74.6l2.2,3l-2.2,3l-2.2,-3zM469.2,94.1l2.2,3l-2.2,3l-2.2,-3zM451.5,100.7l2.2,3l-2.2,3l-2.2,-3zM476.1,66.5l2.2,3l-2.2,3l-2.2,-3zM450.9,103.5l2.2,3l-2.2,3l-2.2,-3zM454.3,91.2l2.2,3l-2.2,3l-2.2,-3zM483.7,61.5l2.2,3l-2.2,3l-2.2,-3zM479.1,55.7l2.2,3l-2.2,3l-2.2,-3zM459.3,105.8l2.2,3l-2.2,3l-2.2,-3zM458.6,81l2.2,3l-2.2,3l-2.2,-3zM456.9,96.8l2.2,3l-2.2,3l-2.2,-3zM450.6,94.4l2.2,3l-2.2,3l-2.2,-3zM474.9,59l2.2,3l-2.2,3l-2.2,-3zM479.1,69l2.2,3l-2.2,3l-2.2,-3zM465.6,67l2.2,3l-2.2,3l-2.2,-3zM449.3,94.6l2.2,3l-2.2,3l-2.2,-3zM478.5,64.6l2.2,3l-2.2,3l-2.2,-3zM448.2,91.6l2.2,3l-2.2,3l-2.2,-3zM464.8,86.4l2.2,3l-2.2,3l-2.2,-3zM455.4,88.1l2.2,3l-2.2,3l-2.2,-3zM476.1,78.5l2.2,3l-2.2,3l-2.2,-3zM457.7,86.3l2.2,3l-2.2,3l-2.2,-3zM457.2,81.6l2.2,3l-2.2,3l-2.2,-3zM466.2,71.6l2.2,3l-2.2,3l-2.2,-3zM470.1,78.5l2.2,3l-2.2,3l-2.2,-3zM456.2,88.8l2.2,3l-2.2,3l-2.2,-3zM464,86l2.2,3l-2.2,3l-2.2,-3zM461.8,86.6l2.2,3l-2.2,3l-2.2,-3zM473.2,69.6l2.2,3l-2.2,3l-2.2,-3zM474.3,73.2l2.2,3l-2.2,3l-2.2,-3zM465.6,71.8l2.2,3l-2.2,3l-2.2,-3zM486.3,48.5l2.2,3l-2.2,3l-2.2,-3zM473.4,59.1l2.2,3l-2.2,3l-2.2,-3zM489.3,53.3l2.2,3l-2.2,3l-2.2,-3zM481.9,70.2l2.2,3l-2.2,3l-2.2,-3zM465.6,76l2.2,3l-2.2,3l-2.2,-3zM448.5,109.2l2.2,3l-2.2,3l-2.2,-3zM461.4,69.7l2.2,3l-2.2,3l-2.2,-3zM473.1,84.1l2.2,3l-2.2,3l-2.2,-3zM447.6,119.2l2.2,3l-2.2,3l-2.2,-3zM463.2,75.2l2.2,3l-2.2,3l-2.2,-3zM452.2,101.3l2.2,3l-2.2,3l-2.2,-3zM455.8,91.9l2.2,3l-2.2,3l-2.2,-3zM464.6,80.2l2.2,3l-2.2,3l-2.2,-3zM451.7,91.4l2.2,3l-2.2,3l-2.2,-3zM484.7,69.5l2.2,3l-2.2,3l-2.2,-3zM468.6,67.6l2.2,3l-2.2,3l-2.2,-3zM475.6,66.6l2.2,3l-2.2,3l-2.2,-3zM481.5,63.8l2.2,3l-2.2,3l-2.2,-3zM474,76.6l2.2,3l-2.2,3l-2.2,-3zM490.5,56.9l2.2,3l-2.2,3l-2.2,-3zM494.9,42.1l2.2,3l-2.2,3l-2.2,-3zM508.1,43l2.2,3l-2.2,3l-2.2,-3zM503.2,33l2.2,3l-2.2,3l-2.2,-3zM502.4,47l2.2,3l-2.2,3l-2.2,-3zM504.1,48.1l2.2,3l-2.2,3l-2.2,-3zM494.9,59.2l2.2,3l-2.2,3l-2.2,-3zM509.3,37.4l2.2,3l-2.2,3l-2.2,-3zM505.6,35.9l2.2,3l-2.2,3l-2.2,-3zM497.6,39.3l2.2,3l-2.2,3l-2.2,-3zM498.2,47.8l2.2,3l-2.2,3l-2.2,-3zM498.5,66.6l2.2,3l-2.2,3l-2.2,-3zM494.4,50.8l2.2,3l-2.2,3l-2.2,-3zM490.5,65.3l2.2,3l-2.2,3l-2.2,-3zM500.3,51.2l2.2,3l-2.2,3l-2.2,-3zM504.1,50.5l2.2,3l-2.2,3l-2.2,-3zM504.8,48.7l2.2,3l-2.2,3l-2.2,-3zM494.2,59l2.2,3l-2.2,3l-2.2,-3zM491.8,58.4l2.2,3l-2.2,3l-2.2,-3zM506.2,41l2.2,3l-2.2,3l-2.2,-3zM493,59.2l2.2,3l-2.2,3l-2.2,-3zM509.7,36.3l2.2,3l-2.2,3l-2.2,-3zM506.6,39.4l2.2,3l-2.2,3l-2.2,-3zM511.3,22.8l2.2,3l-2.2,3l-2.2,-3zM496.9,47.3l2.2,3l-2.2,3l-2.2,-3zM508.6,37.7l2.2,3l-2.2,3l-2.2,-3zM494.5,47.4l2.2,3l-2.2,3l-2.2,-3zM495.3,46.8l2.2,3l-2.2,3l-2.2,-3zM519.2,26.9l2.2,3l-2.2,3l-2.2,-3zM533,15l2.2,3l-2.2,3l-2.2,-3zM523,19.8l2.2,3l-2.2,3l-2.2,-3zM514.5,34.7l2.2,3l-2.2,3l-2.2,-3zM513,40.6l2.2,3l-2.2,3l-2.2,-3zM520.2,26.6l2.2,3l-2.2,3l-2.2,-3zM516.6,26.6l2.2,3l-2.2,3l-2.2,-3zM528.4,17.4l2.2,3l-2.2,3l-2.2,-3zM515,27.4l2.2,3l-2.2,3l-2.2,-3zM514.5,24.7l2.2,3l-2.2,3l-2.2,-3zM515.2,39.4l2.2,3l-2.2,3l-2.2,-3zM519.9,24.4l2.2,3l-2.2,3l-2.2,-3zM520.1,24.4l2.2,3l-2.2,3l-2.2,-3zM533.6,15.7l2.2,3l-2.2,3l-2.2,-3zM534,14l2.2,3l-2.2,3l-2.2,-3zM521.6,21.6l2.2,3l-2.2,3l-2.2,-3zM530.5,16.2l2.2,3l-2.2,3l-2.2,-3zM519.1,31.4l2.2,3l-2.2,3l-2.2,-3zM514.1,41.5l2.2,3l-2.2,3l-2.2,-3zM533.7,12.4l2.2,3l-2.2,3l-2.2,-3zM114.8,393.6l2.2,3l-2.2,3l-2.2,-3zM107.4,405.5l2.2,3l-2.2,3l-2.2,-3zM269,206.4l2.2,3l-2.2,3l-2.2,-3zM227.4,289.1l2.2,3l-2.2,3l-2.2,-3zM323,141.8l2.2,3l-2.2,3l-2.2,-3zM264.6,158.7l2.2,3l-2.2,3l-2.2,-3zM302.4,186.3l2.2,3l-2.2,3l-2.2,-3zM268.7,205.9l2.2,3l-2.2,3l-2.2,-3zM301.2,202.1l2.2,3l-2.2,3l-2.2,-3zM426.5,88.5l2.2,3l-2.2,3l-2.2,-3zM382.7,96.4l2.2,3l-2.2,3l-2.2,-3zM388.3,98.2l2.2,3l-2.2,3l-2.2,-3zM400.2,119.5l2.2,3l-2.2,3l-2.2,-3zM394.6,128.3l2.2,3l-2.2,3l-2.2,-3zM160.4,444.1l2.2,3l-2.2,3l-2.2,-3zM193.7,400.9l2.2,3l-2.2,3l-2.2,-3zM201.3,394.6l2.2,3l-2.2,3l-2.2,-3zM218.9,369.5l2.2,3l-2.2,3l-2.2,-3zM214.4,368.8l2.2,3l-2.2,3l-2.2,-3zM280.3,308.6l2.2,3l-2.2,3l-2.2,-3zM269.6,322.1l2.2,3l-2.2,3l-2.2,-3zM400.7,211.2l2.2,3l-2.2,3l-2.2,-3zM350.6,224.2l2.2,3l-2.2,3l-2.2,-3z" fill="#a65628"/>
<path d="M93.5,448.8L94.2,450.3L95.9,450.2L94.9,451.5L95.9,452.9L94.2,452.8L93.5,454.2L92.8,452.8L91.2,452.9L92.1,451.5L91.2,450.2L92.8,450.3zM84.9,457.5L85.6,459L87.2,458.9L86.3,460.2L87.2,461.6L85.6,461.5L84.9,462.9L84.2,461.5L82.5,461.6L83.5,460.2L82.5,458.9L84.2,459zM87,460L87.7,461.5L89.4,461.3L88.4,462.7L89.4,464L87.7,463.9L87,465.4L86.3,463.9L84.7,464L85.6,462.7L84.7,461.3L86.3,461.5zM88.8,450.4L89.5,451.9L91.2,451.7L90.2,453.1L91.2,454.4L89.5,454.3L88.8,455.8L88.1,454.3L86.5,454.4L87.4,453.1L86.5,451.7L88.1,451.9zM86.3,461.9L87,463.4L88.7,463.2L87.7,464.6L88.7,465.9L87,465.8L86.3,467.3L85.6,465.8L84,465.9L84.9,464.6L84,463.2L85.6,463.4zM85.4,451.9L86.1,453.4L87.7,453.3L86.8,454.6L87.7,456L86.1,455.9L85.4,457.3L84.7,455.9L83,456L84,454.6L83,453.3L84.7,453.4zM102,457.2L102.7,458.7L104.4,458.6L103.4,459.9L104.4,461.3L102.7,461.1L102,462.6L101.3,461.1L99.7,461.3L100.6,459.9L99.7,458.6L101.3,458.7zM88.4,455L89.1,456.4L90.8,456.3L89.8,457.7L90.8,459L89.1,458.9L88.4,460.4L87.7,458.9L86.1,459L87,457.7L86.1,456.3L87.7,456.4zM96.2,461.9L96.9,463.4L98.6,463.3L97.6,464.6L98.6,466L96.9,465.9L96.2,467.3L95.5,465.9L93.9,466L94.8,464.6L93.9,463.3L95.5,463.4zM91.9,456.7L92.6,458.2L94.2,458.1L93.3,459.4L94.2,460.8L92.6,460.6L91.9,462.1L91.2,460.6L89.6,460.8L90.5,459.4L89.6,458.1L91.2,458.2zM89,460.6L89.7,462L91.3,461.9L90.4,463.3L91.3,464.6L89.7,464.5L89,466L88.3,464.5L86.6,464.6L87.6,463.3L86.6,461.9L88.3,462zM83.4,461.6L84.1,463.1L85.7,462.9L84.8,464.3L85.7,465.6L84.1,465.5L83.4,467L82.7,465.5L81,465.6L82,464.3L81,462.9L82.7,463.1zM84.4,460.1L85.1,461.5L86.8,461.4L85.8,462.8L86.8,464.1L85.1,464L84.4,465.5L83.7,464L82.1,464.1L83,462.8L82.1,461.4L83.7,461.5zM83.2,453.9L83.9,455.4L85.5,455.3L84.6,456.6L85.5,458L83.9,457.8L83.2,459.3L82.5,457.8L80.9,458L81.8,456.6L80.9,455.3L82.5,455.4zM87.4,461.6L88.1,463L89.7,462.9L88.8,464.3L89.7,465.6L88.1,465.5L87.4,467L86.7,465.5L85,465.6L86,464.3L85,462.9L86.7,463zM85.4,461.7L86.1,463.2L87.7,463.1L86.8,464.4L87.7,465.8L86.1,465.7L85.4,467.1L84.7,465.7L83.1,465.8L84,464.4L83.1,463.1L84.7,463.2zM91.6,462.8L92.3,464.3L93.9,464.1L93,465.5L93.9,466.8L92.3,466.7L91.6,468.2L90.9,466.7L89.3,466.8L90.2,465.5L89.3,464.1L90.9,464.3zM83.4,454.5L84.1,456L85.7,455.8L84.8,457.2L85.7,458.5L84.1,458.4L83.4,459.9L82.7,458.4L81.1,458.5L82,457.2L81.1,455.8L82.7,456zM84.2,455.8L84.9,457.3L86.6,457.1L85.6,458.5L86.6,459.8L84.9,459.7L84.2,461.2L83.5,459.7L81.9,459.8L82.8,458.5L81.9,457.1L83.5,457.3zM94.7,462.5L95.4,464L97,463.8L96.1,465.2L97,466.5L95.4,466.4L94.7,467.9L94,466.4L92.4,466.5L93.3,465.2L92.4,463.8L94,464zM86.1,461.4L86.8,462.9L88.4,462.8L87.5,464.1L88.4,465.5L86.8,465.3L86.1,466.8L85.4,465.3L83.7,465.5L84.7,464.1L83.7,462.8L85.4,462.9zM91.7,461.8L92.4,463.3L94,463.1L93.1,464.5L94,465.8L92.4,465.7L91.7,467.2L91,465.7L89.3,465.8L90.3,464.5L89.3,463.1L91,463.3zM91.1,455.9L91.8,457.4L93.5,457.2L92.5,458.6L93.5,459.9L91.8,459.8L91.1,461.3L90.4,459.8L88.8,459.9L89.7,458.6L88.8,457.2L90.4,457.4zM89,450.5L89.7,452L91.4,451.9L90.4,453.2L91.4,454.6L89.7,454.4L89,455.9L88.3,454.4L86.7,454.6L87.6,453.2L86.7,451.9L88.3,452zM85,461.9L85.7,463.4L87.3,463.3L86.4,464.6L87.3,466L85.7,465.8L85,467.3L84.3,465.8L82.6,466L83.6,464.6L82.6,463.3L84.3,463.4zM84.5,461.4L85.2,462.9L86.9,462.8L85.9,464.1L86.9,465.5L85.2,465.3L84.5,466.8L83.8,465.3L82.2,465.5L83.1,464.1L82.2,462.8L83.8,462.9zM89,457.4L89.7,458.9L91.4,458.7L90.4,460.1L91.4,461.4L89.7,461.3L89,462.8L88.3,461.3L86.7,461.4L87.6,460.1L86.7,458.7L88.3,458.9zM88.8,450.5L89.5,452L91.1,451.9L90.2,453.2L91.1,454.6L89.5,454.5L88.8,455.9L88.1,454.5L86.4,454.6L87.4,453.2L86.4,451.9L88.1,452zM86.9,454.4L87.6,455.8L89.2,455.7L88.3,457.1L89.2,458.4L87.6,458.3L86.9,459.8L86.2,458.3L84.6,458.4L85.5,457.1L84.6,455.7L86.2,455.8zM84.7,460.9L85.4,462.4L87,462.3L86.1,463.6L87,465L85.4,464.8L84.7,466.3L84,464.8L82.4,465L83.3,463.6L82.4,462.3L84,462.4zM94.9,458.9L95.6,460.4L97.3,460.3L96.3,461.6L97.3,463L95.6,462.8L94.9,464.3L94.2,462.8L92.6,463L93.5,461.6L92.6,460.3L94.2,460.4zM89.7,461.1L90.4,462.6L92,462.5L91.1,463.8L92,465.2L90.4,465.1L89.7,466.5L89,465.1L87.3,465.2L88.3,463.8L87.3,462.5L89,462.6zM88.3,458.5L89,460L90.7,459.8L89.7,461.2L90.7,462.5L89,462.4L88.3,463.9L87.6,462.4L86,462.5L86.9,461.2L86,459.8L87.6,460zM86.6,461.2L87.3,462.6L89,462.5L88,463.9L89,465.2L87.3,465.1L86.6,466.6L85.9,465.1L84.3,465.2L85.2,463.9L84.3,462.5L85.9,462.6zM87.8,459.4L88.5,460.9L90.1,460.7L89.2,462.1L90.1,463.4L88.5,463.3L87.8,464.8L87,463.3L85.4,463.4L86.3,462.1L85.4,460.7L87,460.9zM95.1,454.7L95.8,456.2L97.4,456L96.5,457.4L97.4,458.7L95.8,458.6L95.1,460.1L94.4,458.6L92.7,458.7L93.7,457.4L92.7,456L94.4,456.2zM103.1,454.3L103.8,455.8L105.5,455.6L104.6,457L105.5,458.3L103.8,458.2L103.1,459.7L102.4,458.2L100.8,458.3L101.7,457L100.8,455.6L102.4,455.8zM86.7,455.6L87.4,457.1L89.1,457L88.1,458.3L89.1,459.7L87.4,459.5L86.7,461L86,459.5L84.4,459.7L85.3,458.3L84.4,457L86,457.1zM90.8,460.6L91.5,462.1L93.1,461.9L92.2,463.3L93.1,464.6L91.5,464.5L90.8,466L90.1,464.5L88.5,464.6L89.4,463.3L88.5,461.9L90.1,462.1zM94.3,458.3L95,459.8L96.6,459.6L95.7,461L96.6,462.3L95,462.2L94.3,463.7L93.6,462.2L91.9,462.3L92.9,461L91.9,459.6L93.6,459.8zM92.3,455.8L93,457.3L94.6,457.1L93.7,458.5L94.6,459.8L93,459.7L92.3,461.2L91.6,459.7L89.9,459.8L90.8,458.5L89.9,457.1L91.6,457.3zM89.8,460.8L90.5,462.3L92.1,462.1L91.2,463.5L92.1,464.8L90.5,464.7L89.8,466.2L89.1,464.7L87.4,464.8L88.4,463.5L87.4,462.1L89.1,462.3zM92.2,460.9L92.9,462.4L94.5,462.3L93.6,463.6L94.5,465L92.9,464.9L92.2,466.3L91.5,464.9L89.8,465L90.8,463.6L89.8,462.3L91.5,462.4zM87.9,461L88.6,462.5L90.2,462.3L89.3,463.7L90.2,465L88.6,464.9L87.9,466.4L87.2,464.9L85.6,465L86.5,463.7L85.6,462.3L87.2,462.5zM93.2,456.2L93.9,457.7L95.5,457.6L94.6,458.9L95.5,460.3L93.9,460.1L93.2,461.6L92.5,460.1L90.8,460.3L91.8,458.9L90.8,457.6L92.5,457.7zM89,460.3L89.7,461.7L91.4,461.6L90.4,463L91.4,464.3L89.7,464.2L89,465.7L88.3,464.2L86.7,464.3L87.6,463L86.7,461.6L88.3,461.7zM87,459.9L87.7,461.4L89.4,461.3L88.4,462.6L89.4,464L87.7,463.8L87,465.3L86.3,463.8L84.7,464L85.6,462.6L84.7,461.3L86.3,461.4zM85.9,459.9L86.6,461.4L88.2,461.2L87.3,462.6L88.2,463.9L86.6,463.8L85.9,465.3L85.2,463.8L83.5,463.9L84.5,462.6L83.5,461.2L85.2,461.4zM96.7,437.9L97.4,439.4L99.1,439.2L98.1,440.6L99.1,441.9L97.4,441.8L96.7,443.3L96,441.8L94.4,441.9L95.3,440.6L94.4,439.2L96,439.4zM122.5,446.4L123.2,447.9L124.8,447.7L123.9,449.1L124.8,450.4L123.2,450.3L122.5,451.8L121.8,450.3L120.1,450.4L121.1,449.1L120.1,447.7L121.8,447.9zM85.2,460.8L85.9,462.3L87.5,462.1L86.6,463.5L87.5,464.8L85.9,464.7L85.2,466.2L84.5,464.7L82.8,464.8L83.8,463.5L82.8,462.1L84.5,462.3zM103.2,449.5L103.9,450.9L105.6,450.8L104.6,452.2L105.6,453.5L103.9,453.4L103.2,454.9L102.5,453.4L100.9,453.5L101.8,452.2L100.9,450.8L102.5,450.9zM91.7,458L92.5,459.4L94.1,459.3L93.2,460.7L94.1,462L92.5,461.9L91.7,463.4L91,461.9L89.4,462L90.3,460.7L89.4,459.3L91,459.4zM94.3,426L95,427.5L96.7,427.4L95.7,428.7L96.7,430.1L95,429.9L94.3,431.4L93.6,429.9L92,430.1L92.9,428.7L92,427.4L93.6,427.5zM87.1,449L87.8,450.4L89.5,450.3L88.5,451.7L89.5,453L87.8,452.9L87.1,454.4L86.4,452.9L84.8,453L85.7,451.7L84.8,450.3L86.4,450.4zM89.4,451.2L90.1,452.7L91.7,452.5L90.8,453.9L91.7,455.2L90.1,455.1L89.4,456.6L88.7,455.1L87.1,455.2L88,453.9L87.1,452.5L88.7,452.7zM87.1,429.4L87.8,430.9L89.4,430.8L88.5,432.1L89.4,433.5L87.8,433.3L87.1,434.8L86.4,433.3L84.7,433.5L85.7,432.1L84.7,430.8L86.4,430.9zM98.6,451.1L99.3,452.5L100.9,452.4L100,453.8L100.9,455.1L99.3,455L98.6,456.5L97.9,455L96.2,455.1L97.2,453.8L96.2,452.4L97.9,452.5zM96.1,458.9L96.8,460.4L98.4,460.2L97.5,461.6L98.4,462.9L96.8,462.8L96.1,464.3L95.4,462.8L93.8,462.9L94.7,461.6L93.8,460.2L95.4,460.4zM114.6,446.4L115.3,447.9L117,447.7L116,449.1L117,450.4L115.3,450.3L114.6,451.8L113.9,450.3L112.3,450.4L113.2,449.1L112.3,447.7L113.9,447.9zM105.1,461.7L105.8,463.2L107.4,463L106.5,464.4L107.4,465.7L105.8,465.6L105.1,467.1L104.4,465.6L102.8,465.7L103.7,464.4L102.8,463L104.4,463.2zM92.8,449.6L93.5,451.1L95.1,451L94.2,452.3L95.1,453.7L93.5,453.6L92.8,455L92.1,453.6L90.5,453.7L91.4,452.3L90.5,451L92.1,451.1zM121.9,444.1L122.6,445.6L124.3,445.4L123.3,446.8L124.3,448.1L122.6,448L121.9,449.5L121.2,448L119.6,448.1L120.5,446.8L119.6,445.4L121.2,445.6zM91,426.7L91.7,428.2L93.3,428.1L92.4,429.4L93.3,430.8L91.7,430.6L91,432.1L90.3,430.6L88.6,430.8L89.6,429.4L88.6,428.1L90.3,428.2zM116,455.1L116.7,456.5L118.3,456.4L117.4,457.8L118.3,459.1L116.7,459L116,460.5L115.3,459L113.6,459.1L114.6,457.8L113.6,456.4L115.3,456.5zM105.2,451.4L105.9,452.9L107.5,452.8L106.6,454.1L107.5,455.5L105.9,455.4L105.2,456.8L104.5,455.4L102.8,455.5L103.8,454.1L102.8,452.8L104.5,452.9zM88.8,461.3L89.5,462.8L91.2,462.7L90.2,464L91.2,465.4L89.5,465.3L88.8,466.7L88.1,465.3L86.5,465.4L87.4,464L86.5,462.7L88.1,462.8zM90.8,451.3L91.5,452.8L93.1,452.7L92.2,454L93.1,455.4L91.5,455.2L90.8,456.7L90.1,455.2L88.4,455.4L89.4,454L88.4,452.7L90.1,452.8zM111.2,439.2L111.9,440.7L113.6,440.6L112.6,441.9L113.6,443.3L111.9,443.1L111.2,444.6L110.5,443.1L108.9,443.3L109.8,441.9L108.9,440.6L110.5,440.7zM90.3,439.8L91,441.2L92.6,441.1L91.7,442.5L92.6,443.8L91,443.7L90.3,445.2L89.6,443.7L87.9,443.8L88.9,442.5L87.9,441.1L89.6,441.2zM94.7,441.2L95.4,442.6L97.1,442.5L96.1,443.9L97.1,445.2L95.4,445.1L94.7,446.6L94,445.1L92.4,445.2L93.3,443.9L92.4,442.5L94,442.6zM99,457.8L99.8,459.2L101.4,459.1L100.5,460.5L101.4,461.8L99.8,461.7L99,463.2L98.3,461.7L96.7,461.8L97.6,460.5L96.7,459.1L98.3,459.2zM90.5,436.5L91.2,438L92.8,437.9L91.9,439.2L92.8,440.6L91.2,440.4L90.5,441.9L89.8,440.4L88.2,440.6L89.1,439.2L88.2,437.9L89.8,438zM97.4,449.2L98.1,450.7L99.8,450.6L98.8,451.9L99.8,453.3L98.1,453.2L97.4,454.6L96.7,453.2L95.1,453.3L96,451.9L95.1,450.6L96.7,450.7zM93.3,454.9L94,456.4L95.7,456.3L94.7,457.6L95.7,459L94,458.8L93.3,460.3L92.6,458.8L91,459L91.9,457.6L91,456.3L92.6,456.4zM105.3,462.8L106,464.2L107.7,464.1L106.7,465.5L107.7,466.8L106,466.7L105.3,468.2L104.6,466.7L103,466.8L103.9,465.5L103,464.1L104.6,464.2zM102.7,451.8L103.4,453.3L105,453.2L104.1,454.5L105,455.9L103.4,455.8L102.7,457.2L102,455.8L100.3,455.9L101.3,454.5L100.3,453.2L102,453.3zM95,461.2L95.7,462.7L97.4,462.5L96.4,463.9L97.4,465.2L95.7,465.1L95,466.6L94.3,465.1L92.7,465.2L93.6,463.9L92.7,462.5L94.3,462.7zM101.1,419L101.8,420.5L103.4,420.3L102.5,421.7L103.4,423L101.8,422.9L101.1,424.4L100.4,422.9L98.7,423L99.7,421.7L98.7,420.3L100.4,420.5zM100.3,458.6L101,460.1L102.6,460L101.7,461.3L102.6,462.7L101,462.5L100.3,464L99.6,462.5L97.9,462.7L98.9,461.3L97.9,460L99.6,460.1zM107.7,441.3L108.4,442.8L110,442.7L109.1,444L110,445.4L108.4,445.2L107.7,446.7L107,445.2L105.4,445.4L106.3,444L105.4,442.7L107,442.8zM96.6,451.2L97.3,452.7L98.9,452.5L98,453.9L98.9,455.2L97.3,455.1L96.6,456.6L95.9,455.1L94.2,455.2L95.2,453.9L94.2,452.5L95.9,452.7zM103.4,457.9L104.1,459.4L105.8,459.2L104.9,460.6L105.8,461.9L104.1,461.8L103.4,463.3L102.7,461.8L101.1,461.9L102,460.6L101.1,459.2L102.7,459.4zM87.6,446.4L88.3,447.8L90,447.7L89,449.1L90,450.4L88.3,450.3L87.6,451.8L86.9,450.3L85.3,450.4L86.2,449.1L85.3,447.7L86.9,447.8zM101.5,449.7L102.2,451.1L103.9,451L102.9,452.4L103.9,453.7L102.2,453.6L101.5,455.1L100.8,453.6L99.2,453.7L100.1,452.4L99.2,451L100.8,451.1zM98.5,442.8L99.2,444.2L100.8,444.1L99.9,445.5L100.8,446.8L99.2,446.7L98.5,448.2L97.8,446.7L96.1,446.8L97.1,445.5L96.1,444.1L97.8,444.2zM112.8,461L113.5,462.5L115.1,462.3L114.2,463.7L115.1,465L113.5,464.9L112.8,466.4L112.1,464.9L110.4,465L111.4,463.7L110.4,462.3L112.1,462.5zM84.6,452.4L85.3,453.8L87,453.7L86.1,455.1L87,456.4L85.3,456.3L84.6,457.8L83.9,456.3L82.3,456.4L83.2,455.1L82.3,453.7L83.9,453.8zM91.5,457.8L92.3,459.3L93.9,459.2L93,460.5L93.9,461.9L92.3,461.7L91.5,463.2L90.8,461.7L89.2,461.9L90.1,460.5L89.2,459.2L90.8,459.3zM94.8,459.9L95.5,461.4L97.1,461.2L96.2,462.6L97.1,463.9L95.5,463.8L94.8,465.3L94.1,463.8L92.4,463.9L93.4,462.6L92.4,461.2L94.1,461.4zM105,446.9L105.7,448.4L107.3,448.2L106.4,449.6L107.3,450.9L105.7,450.8L105,452.3L104.3,450.8L102.6,450.9L103.6,449.6L102.6,448.2L104.3,448.4zM89.8,457.3L90.5,458.8L92.2,458.6L91.2,460L92.2,461.3L90.5,461.2L89.8,462.7L89.1,461.2L87.5,461.3L88.4,460L87.5,458.6L89.1,458.8zM93.3,455.8L94,457.3L95.6,457.2L94.7,458.5L95.6,459.9L94,459.7L93.3,461.2L92.6,459.7L90.9,459.9L91.9,458.5L90.9,457.2L92.6,457.3zM108.8,422.9L109.5,424.4L111.1,424.3L110.2,425.6L111.1,427L109.5,426.8L108.8,428.3L108.1,426.8L106.4,427L107.4,425.6L106.4,424.3L108.1,424.4zM111.3,420.6L112,422L113.6,421.9L112.7,423.3L113.6,424.6L112,424.5L111.3,426L110.6,424.5L109,424.6L109.9,423.3L109,421.9L110.6,422zM125.4,429.6L126.1,431.1L127.8,431L126.8,432.3L127.8,433.7L126.1,433.5L125.4,435L124.7,433.5L123.1,433.7L124,432.3L123.1,431L124.7,431.1zM112.9,455.1L113.6,456.6L115.2,456.4L114.3,457.8L115.2,459.1L113.6,459L112.9,460.5L112.2,459L110.6,459.1L111.5,457.8L110.6,456.4L112.2,456.6zM100.5,433.1L101.2,434.5L102.9,434.4L101.9,435.8L102.9,437.1L101.2,437L100.5,438.5L99.8,437L98.2,437.1L99.1,435.8L98.2,434.4L99.8,434.5zM110.9,462.2L111.6,463.7L113.2,463.5L112.3,464.9L113.2,466.2L111.6,466.1L110.9,467.6L110.1,466.1L108.5,466.2L109.4,464.9L108.5,463.5L110.1,463.7zM117.8,414.8L118.5,416.3L120.2,416.2L119.2,417.5L120.2,418.9L118.5,418.7L117.8,420.2L117.1,418.7L115.5,418.9L116.4,417.5L115.5,416.2L117.1,416.3zM110,461.3L110.7,462.8L112.3,462.7L111.4,464L112.3,465.4L110.7,465.2L110,466.7L109.3,465.2L107.6,465.4L108.6,464L107.6,462.7L109.3,462.8zM113.7,452.7L114.4,454.2L116,454.1L115.1,455.4L116,456.8L114.4,456.6L113.7,458.1L113,456.6L111.3,456.8L112.3,455.4L111.3,454.1L113,454.2zM105.1,434.5L105.8,436L107.5,435.9L106.5,437.2L107.5,438.6L105.8,438.4L105.1,439.9L104.4,438.4L102.8,438.6L103.7,437.2L102.8,435.9L104.4,436zM124.3,462L125,463.4L126.6,463.3L125.7,464.7L126.6,466L125,465.9L124.3,467.4L123.6,465.9L121.9,466L122.9,464.7L121.9,463.3L123.6,463.4zM135.3,434L136.1,435.4L137.7,435.3L136.8,436.7L137.7,438L136.1,437.9L135.3,439.4L134.6,437.9L133,438L133.9,436.7L133,435.3L134.6,435.4zM165.1,378.3L165.8,379.8L167.4,379.6L166.5,381L167.4,382.3L165.8,382.2L165.1,383.7L164.4,382.2L162.8,382.3L163.7,381L162.8,379.6L164.4,379.8zM162,348.9L162.7,350.4L164.3,350.2L163.4,351.6L164.3,352.9L162.7,352.8L162,354.3L161.3,352.8L159.6,352.9L160.6,351.6L159.6,350.2L161.3,350.4zM139.5,397.8L140.2,399.3L141.8,399.2L140.9,400.5L141.8,401.9L140.2,401.7L139.5,403.2L138.8,401.7L137.2,401.9L138.1,400.5L137.2,399.2L138.8,399.3zM144,437.7L144.7,439.2L146.4,439L145.4,440.4L146.4,441.7L144.7,441.6L144,443.1L143.3,441.6L141.7,441.7L142.6,440.4L141.7,439L143.3,439.2zM136.9,414L137.6,415.5L139.3,415.3L138.3,416.7L139.3,418L137.6,417.9L136.9,419.4L136.2,417.9L134.6,418L135.5,416.7L134.6,415.3L136.2,415.5zM140.2,417L140.9,418.5L142.6,418.4L141.6,419.7L142.6,421.1L140.9,420.9L140.2,422.4L139.5,420.9L137.9,421.1L138.8,419.7L137.9,418.4L139.5,418.5zM129.9,444.9L130.6,446.4L132.2,446.3L131.3,447.6L132.2,449L130.6,448.8L129.9,450.3L129.2,448.8L127.5,449L128.5,447.6L127.5,446.3L129.2,446.4zM147.6,429L148.3,430.4L150,430.3L149,431.7L150,433L148.3,432.9L147.6,434.4L146.9,432.9L145.3,433L146.2,431.7L145.3,430.3L146.9,430.4zM156.4,375.4L157.1,376.9L158.7,376.8L157.8,378.1L158.7,379.5L157.1,379.3L156.4,380.8L155.7,379.3L154,379.5L155,378.1L154,376.8L155.7,376.9zM132.9,415.6L133.6,417.1L135.3,416.9L134.3,418.3L135.3,419.6L133.6,419.5L132.9,421L132.2,419.5L130.6,419.6L131.5,418.3L130.6,416.9L132.2,417.1zM149.5,367L150.2,368.5L151.8,368.3L150.9,369.7L151.8,371L150.2,370.9L149.5,372.4L148.8,370.9L147.1,371L148.1,369.7L147.1,368.3L148.8,368.5zM168.3,354.7L169,356.2L170.7,356L169.8,357.4L170.7,358.7L169,358.6L168.3,360.1L167.6,358.6L166,358.7L166.9,357.4L166,356L167.6,356.2zM128.8,412.6L129.5,414.1L131.1,414L130.2,415.3L131.1,416.7L129.5,416.5L128.8,418L128.1,416.5L126.4,416.7L127.4,415.3L126.4,414L128.1,414.1zM163.3,358.1L164,359.6L165.6,359.5L164.7,360.8L165.6,362.2L164,362L163.3,363.5L162.6,362L160.9,362.2L161.9,360.8L160.9,359.5L162.6,359.6zM159.1,382.1L159.8,383.5L161.4,383.4L160.5,384.8L161.4,386.1L159.8,386L159.1,387.5L158.4,386L156.7,386.1L157.7,384.8L156.7,383.4L158.4,383.5zM134.9,444.1L135.6,445.6L137.3,445.5L136.3,446.8L137.3,448.2L135.6,448L134.9,449.5L134.2,448L132.6,448.2L133.5,446.8L132.6,445.5L134.2,445.6zM135.4,423.5L136.1,425L137.7,424.8L136.8,426.2L137.7,427.5L136.1,427.4L135.4,428.9L134.7,427.4L133,427.5L134,426.2L133,424.8L134.7,425zM152.9,408.3L153.6,409.8L155.2,409.6L154.3,411L155.2,412.3L153.6,412.2L152.9,413.7L152.2,412.2L150.5,412.3L151.5,411L150.5,409.6L152.2,409.8zM164.1,350.7L164.8,352.2L166.4,352L165.5,353.4L166.4,354.7L164.8,354.6L164.1,356.1L163.4,354.6L161.8,354.7L162.7,353.4L161.8,352L163.4,352.2zM167,405.7L167.7,407.2L169.3,407.1L168.4,408.4L169.3,409.8L167.7,409.6L167,411.1L166.3,409.6L164.7,409.8L165.6,408.4L164.7,407.1L166.3,407.2zM199,383L199.7,384.5L201.4,384.4L200.4,385.7L201.4,387.1L199.7,386.9L199,388.4L198.3,386.9L196.7,387.1L197.6,385.7L196.7,384.4L198.3,384.5zM212.7,333.9L213.4,335.4L215.1,335.2L214.1,336.6L215.1,337.9L213.4,337.8L212.7,339.3L212,337.8L210.4,337.9L211.3,336.6L210.4,335.2L212,335.4zM177.7,375.7L178.4,377.2L180,377.1L179.1,378.4L180,379.8L178.4,379.6L177.7,381.1L177,379.6L175.4,379.8L176.3,378.4L175.4,377.1L177,377.2zM187.5,346.6L188.2,348.1L189.8,348L188.9,349.3L189.8,350.7L188.2,350.5L187.5,352L186.8,350.5L185.2,350.7L186.1,349.3L185.2,348L186.8,348.1zM189.9,333L190.6,334.5L192.3,334.4L191.3,335.7L192.3,337.1L190.6,336.9L189.9,338.4L189.2,336.9L187.6,337.1L188.5,335.7L187.6,334.4L189.2,334.5zM194,370.1L194.7,371.6L196.3,371.4L195.4,372.8L196.3,374.1L194.7,374L194,375.5L193.3,374L191.6,374.1L192.6,372.8L191.6,371.4L193.3,371.6zM196.3,367.4L197.1,368.9L198.7,368.8L197.8,370.1L198.7,371.5L197.1,371.3L196.3,372.8L195.6,371.3L194,371.5L194.9,370.1L194,368.8L195.6,368.9zM207.5,360.4L208.2,361.8L209.8,361.7L208.9,363.1L209.8,364.4L208.2,364.3L207.5,365.8L206.8,364.3L205.2,364.4L206.1,363.1L205.2,361.7L206.8,361.8zM213.2,369.9L213.9,371.4L215.5,371.3L214.6,372.6L215.5,374L213.9,373.8L213.2,375.3L212.5,373.8L210.8,374L211.8,372.6L210.8,371.3L212.5,371.4zM174.9,346.1L175.6,347.6L177.3,347.5L176.3,348.8L177.3,350.2L175.6,350L174.9,351.5L174.2,350L172.6,350.2L173.5,348.8L172.6,347.5L174.2,347.6zM198.2,346.9L198.9,348.4L200.5,348.2L199.6,349.6L200.5,350.9L198.9,350.8L198.2,352.3L197.5,350.8L195.9,350.9L196.8,349.6L195.9,348.2L197.5,348.4zM177.8,390.7L178.5,392.2L180.1,392.1L179.2,393.4L180.1,394.8L178.5,394.7L177.8,396.1L177.1,394.7L175.5,394.8L176.4,393.4L175.5,392.1L177.1,392.2zM220.7,306.6L221.4,308L223,307.9L222.1,309.3L223,310.6L221.4,310.5L220.7,312L220,310.5L218.4,310.6L219.3,309.3L218.4,307.9L220,308zM225.3,352.1L226,353.6L227.6,353.4L226.7,354.8L227.6,356.1L226,356L225.3,357.5L224.6,356L222.9,356.1L223.9,354.8L222.9,353.4L224.6,353.6zM252.2,315.4L252.9,316.9L254.5,316.8L253.6,318.1L254.5,319.5L252.9,319.3L252.2,320.8L251.5,319.3L249.8,319.5L250.8,318.1L249.8,316.8L251.5,316.9zM261.8,303.7L262.5,305.2L264.1,305L263.2,306.4L264.1,307.7L262.5,307.6L261.8,309.1L261.1,307.6L259.5,307.7L260.4,306.4L259.5,305L261.1,305.2zM251.5,309.2L252.2,310.7L253.8,310.6L252.9,311.9L253.8,313.3L252.2,313.1L251.5,314.6L250.8,313.1L249.1,313.3L250,311.9L249.1,310.6L250.8,310.7zM258.2,286.5L258.9,287.9L260.6,287.8L259.6,289.2L260.6,290.5L258.9,290.4L258.2,291.9L257.5,290.4L255.9,290.5L256.8,289.2L255.9,287.8L257.5,287.9zM254.8,316.5L255.5,318L257.1,317.8L256.2,319.2L257.1,320.5L255.5,320.4L254.8,321.9L254.1,320.4L252.4,320.5L253.4,319.2L252.4,317.8L254.1,318zM250.7,327.3L251.4,328.8L253,328.7L252.1,330L253,331.4L251.4,331.2L250.7,332.7L250,331.2L248.3,331.4L249.2,330L248.3,328.7L250,328.8zM233.6,326.3L234.3,327.8L236,327.6L235,329L236,330.3L234.3,330.2L233.6,331.7L232.9,330.2L231.3,330.3L232.2,329L231.3,327.6L232.9,327.8zM308.5,271.5L309.2,273L310.9,272.9L309.9,274.2L310.9,275.6L309.2,275.5L308.5,276.9L307.8,275.5L306.2,275.6L307.1,274.2L306.2,272.9L307.8,273zM267,301.9L267.7,303.4L269.4,303.3L268.4,304.6L269.4,306L267.7,305.8L267,307.3L266.3,305.8L264.7,306L265.6,304.6L264.7,303.3L266.3,303.4zM283.8,250L284.5,251.5L286.2,251.4L285.2,252.7L286.2,254.1L284.5,253.9L283.8,255.4L283.1,253.9L281.5,254.1L282.4,252.7L281.5,251.4L283.1,251.5zM283.7,278.4L284.4,279.9L286,279.7L285.1,281.1L286,282.4L284.4,282.3L283.7,283.8L283,282.3L281.3,282.4L282.3,281.1L281.3,279.7L283,279.9zM307.7,215.9L308.4,217.3L310,217.2L309.1,218.6L310,219.9L308.4,219.8L307.7,221.3L307,219.8L305.4,219.9L306.3,218.6L305.4,217.2L307,217.3zM267,312.8L267.7,314.3L269.3,314.2L268.4,315.5L269.3,316.9L267.7,316.7L267,318.2L266.3,316.7L264.6,316.9L265.6,315.5L264.6,314.2L266.3,314.3zM282.7,230.2L283.4,231.6L285,231.5L284.1,232.9L285,234.2L283.4,234.1L282.7,235.6L282,234.1L280.3,234.2L281.3,232.9L280.3,231.5L282,231.6zM273.6,294.3L274.3,295.8L275.9,295.7L275,297L275.9,298.4L274.3,298.3L273.6,299.7L272.9,298.3L271.3,298.4L272.2,297L271.3,295.7L272.9,295.8zM266.1,269.6L266.8,271.1L268.5,271L267.5,272.3L268.5,273.7L266.8,273.5L266.1,275L265.4,273.5L263.8,273.7L264.7,272.3L263.8,271L265.4,271.1zM289,241.9L289.7,243.4L291.3,243.3L290.4,244.6L291.3,246L289.7,245.8L289,247.3L288.2,245.8L286.6,246L287.5,244.6L286.6,243.3L288.2,243.4zM294.7,257.9L295.4,259.4L297.1,259.3L296.1,260.6L297.1,262L295.4,261.8L294.7,263.3L294,261.8L292.4,262L293.3,260.6L292.4,259.3L294,259.4zM321.7,218.7L322.4,220.2L324.1,220.1L323.1,221.4L324.1,222.8L322.4,222.6L321.7,224.1L321,222.6L319.4,222.8L320.3,221.4L319.4,220.1L321,220.2zM317.2,246.8L317.9,248.3L319.6,248.1L318.6,249.5L319.6,250.8L317.9,250.7L317.2,252.2L316.5,250.7L314.9,250.8L315.8,249.5L314.9,248.1L316.5,248.3zM347.4,228.5L348.1,230L349.7,229.8L348.8,231.2L349.7,232.5L348.1,232.4L347.4,233.9L346.7,232.4L345.1,232.5L346,231.2L345.1,229.8L346.7,230zM321.1,223.2L321.8,224.7L323.4,224.6L322.5,225.9L323.4,227.3L321.8,227.1L321.1,228.6L320.4,227.1L318.7,227.3L319.7,225.9L318.7,224.6L320.4,224.7zM324.8,256.2L325.5,257.7L327.1,257.5L326.2,258.9L327.1,260.2L325.5,260.1L324.8,261.6L324.1,260.1L322.4,260.2L323.4,258.9L322.4,257.5L324.1,257.7zM347,197.6L347.7,199.1L349.3,199L348.4,200.3L349.3,201.7L347.7,201.5L347,203L346.3,201.5L344.6,201.7L345.6,200.3L344.6,199L346.3,199.1zM323.7,188.6L324.4,190.1L326,190L325.1,191.3L326,192.7L324.4,192.6L323.7,194L323,192.6L321.4,192.7L322.3,191.3L321.4,190L323,190.1zM335.5,210.9L336.2,212.4L337.8,212.2L336.9,213.6L337.8,214.9L336.2,214.8L335.5,216.3L334.8,214.8L333.1,214.9L334.1,213.6L333.1,212.2L334.8,212.4zM341.9,191.3L342.7,192.8L344.3,192.7L343.4,194L344.3,195.4L342.7,195.2L341.9,196.7L341.2,195.2L339.6,195.4L340.5,194L339.6,192.7L341.2,192.8zM354,182.4L354.7,183.9L356.3,183.7L355.4,185.1L356.3,186.4L354.7,186.3L354,187.8L353.3,186.3L351.6,186.4L352.6,185.1L351.6,183.7L353.3,183.9zM320.3,227.3L321,228.8L322.6,228.7L321.7,230L322.6,231.4L321,231.2L320.3,232.7L319.6,231.2L317.9,231.4L318.9,230L317.9,228.7L319.6,228.8zM370.3,155.5L371,157L372.7,156.8L371.7,158.2L372.7,159.5L371,159.4L370.3,160.9L369.6,159.4L368,159.5L368.9,158.2L368,156.8L369.6,157zM396.8,127.2L397.5,128.7L399.2,128.5L398.2,129.9L399.2,131.2L397.5,131.1L396.8,132.6L396.1,131.1L394.5,131.2L395.4,129.9L394.5,128.5L396.1,128.7zM354.9,191.3L355.6,192.8L357.2,192.7L356.3,194L357.2,195.4L355.6,195.2L354.9,196.7L354.1,195.2L352.5,195.4L353.4,194L352.5,192.7L354.1,192.8zM380.3,150.7L381,152.2L382.7,152.1L381.7,153.4L382.7,154.8L381,154.6L380.3,156.1L379.6,154.6L378,154.8L378.9,153.4L378,152.1L379.6,152.2zM383.5,141L384.2,142.4L385.9,142.3L384.9,143.7L385.9,145L384.2,144.9L383.5,146.4L382.8,144.9L381.2,145L382.1,143.7L381.2,142.3L382.8,142.4zM369.8,140L370.5,141.5L372.1,141.4L371.2,142.7L372.1,144.1L370.5,143.9L369.8,145.4L369.1,143.9L367.4,144.1L368.4,142.7L367.4,141.4L369.1,141.5zM390.2,145.4L390.9,146.9L392.5,146.8L391.6,148.1L392.5,149.5L390.9,149.3L390.2,150.8L389.5,149.3L387.8,149.5L388.8,148.1L387.8,146.8L389.5,146.9zM397.9,150.7L398.6,152.2L400.2,152.1L399.3,153.4L400.2,154.8L398.6,154.6L397.9,156.1L397.2,154.6L395.5,154.8L396.5,153.4L395.5,152.1L397.2,152.2zM398.4,129.5L399.1,131L400.7,130.9L399.8,132.2L400.7,133.6L399.1,133.4L398.4,134.9L397.7,133.4L396.1,133.6L397,132.2L396.1,130.9L397.7,131zM392.1,147.8L392.8,149.3L394.5,149.1L393.5,150.5L394.5,151.8L392.8,151.7L392.1,153.2L391.4,151.7L389.8,151.8L390.7,150.5L389.8,149.1L391.4,149.3zM392.9,161.1L393.6,162.6L395.2,162.4L394.3,163.8L395.2,165.1L393.6,165L392.9,166.5L392.2,165L390.5,165.1L391.5,163.8L390.5,162.4L392.2,162.6zM425.2,129.1L425.9,130.6L427.6,130.4L426.6,131.8L427.6,133.1L425.9,133L425.2,134.5L424.5,133L422.9,133.1L423.8,131.8L422.9,130.4L424.5,130.6zM417.9,124.5L418.6,126L420.2,125.8L419.3,127.2L420.2,128.5L418.6,128.4L417.9,129.9L417.1,128.4L415.5,128.5L416.4,127.2L415.5,125.8L417.1,126zM399.4,138.7L400.1,140.1L401.7,140L400.8,141.4L401.7,142.7L400.1,142.6L399.4,144.1L398.7,142.6L397,142.7L398,141.4L397,140L398.7,140.1zM435.8,102.1L436.5,103.6L438.1,103.4L437.2,104.8L438.1,106.1L436.5,106L435.8,107.5L435.1,106L433.4,106.1L434.4,104.8L433.4,103.4L435.1,103.6zM407.1,150.1L407.8,151.6L409.5,151.4L408.5,152.8L409.5,154.1L407.8,154L407.1,155.5L406.4,154L404.8,154.1L405.7,152.8L404.8,151.4L406.4,151.6zM400.1,142.7L400.8,144.2L402.4,144L401.5,145.4L402.4,146.7L400.8,146.6L400.1,148.1L399.4,146.6L397.7,146.7L398.7,145.4L397.7,144L399.4,144.2zM443.6,90.7L444.3,92.1L445.9,92L445,93.4L445.9,94.7L444.3,94.6L443.6,96.1L442.9,94.6L441.2,94.7L442.2,93.4L441.2,92L442.9,92.1zM404.1,149.9L404.8,151.4L406.4,151.2L405.5,152.6L406.4,153.9L404.8,153.8L404.1,155.3L403.4,153.8L401.8,153.9L402.7,152.6L401.8,151.2L403.4,151.4zM443.8,108.1L444.5,109.5L446.2,109.4L445.2,110.8L446.2,112.1L444.5,112L443.8,113.5L443.1,112L441.5,112.1L442.4,110.8L441.5,109.4L443.1,109.5zM406.6,151L407.3,152.5L408.9,152.4L408,153.7L408.9,155.1L407.3,154.9L406.6,156.4L405.9,154.9L404.2,155.1L405.2,153.7L404.2,152.4L405.9,152.5zM407.6,114.7L408.3,116.2L409.9,116L409,117.4L409.9,118.7L408.3,118.6L407.6,120.1L406.9,118.6L405.2,118.7L406.2,117.4L405.2,116L406.9,116.2zM464.9,65.2L465.6,66.6L467.3,66.5L466.3,67.9L467.3,69.2L465.6,69.1L464.9,70.6L464.2,69.1L462.6,69.2L463.5,67.9L462.6,66.5L464.2,66.6zM474.7,66.2L475.5,67.7L477.1,67.5L476.2,68.9L477.1,70.2L475.5,70.1L474.7,71.6L474,70.1L472.4,70.2L473.3,68.9L472.4,67.5L474,67.7zM478.7,75.6L479.4,77.1L481.1,77L480.2,78.3L481.1,79.7L479.4,79.5L478.7,81L478,79.5L476.4,79.7L477.3,78.3L476.4,77L478,77.1zM463.6,99.2L464.3,100.7L465.9,100.6L465,101.9L465.9,103.3L464.3,103.1L463.6,104.6L462.9,103.1L461.3,103.3L462.2,101.9L461.3,100.6L462.9,100.7zM469.3,89.7L470,91.2L471.7,91.1L470.7,92.4L471.7,93.8L470,93.7L469.3,95.1L468.6,93.7L467,93.8L467.9,92.4L467,91.1L468.6,91.2zM454.5,95.6L455.2,97L456.9,96.9L455.9,98.3L456.9,99.6L455.2,99.5L454.5,101L453.8,99.5L452.2,99.6L453.1,98.3L452.2,96.9L453.8,97zM455.7,115.2L456.4,116.7L458,116.6L457.1,117.9L458,119.3L456.4,119.2L455.7,120.6L455,119.2L453.3,119.3L454.3,117.9L453.3,116.6L455,116.7zM464.2,61.6L464.9,63.1L466.5,62.9L465.6,64.3L466.5,65.6L464.9,65.5L464.2,67L463.5,65.5L461.9,65.6L462.8,64.3L461.9,62.9L463.5,63.1zM453.7,81.4L454.4,82.9L456,82.8L455.1,84.1L456,85.5L454.4,85.3L453.7,86.8L453,85.3L451.3,85.5L452.3,84.1L451.3,82.8L453,82.9zM466,75.3L466.7,76.7L468.3,76.6L467.4,78L468.3,79.3L466.7,79.2L466,80.7L465.3,79.2L463.7,79.3L464.6,78L463.7,76.6L465.3,76.7zM486.5,97.9L487.2,99.4L488.8,99.2L487.9,100.6L488.8,101.9L487.2,101.8L486.5,103.3L485.8,101.8L484.2,101.9L485.1,100.6L484.2,99.2L485.8,99.4zM446.1,101.7L446.8,103.2L448.5,103L447.5,104.4L448.5,105.7L446.8,105.6L446.1,107.1L445.4,105.6L443.8,105.7L444.7,104.4L443.8,103L445.4,103.2zM473.1,107.1L473.8,108.6L475.4,108.5L474.5,109.8L475.4,111.2L473.8,111L473.1,112.5L472.4,111L470.7,111.2L471.7,109.8L470.7,108.5L472.4,108.6zM460.6,67.4L461.3,68.9L463,68.8L462,70.1L463,71.5L461.3,71.4L460.6,72.8L459.9,71.4L458.3,71.5L459.2,70.1L458.3,68.8L459.9,68.9zM456.4,113.7L457.1,115.2L458.7,115L457.8,116.4L458.7,117.7L457.1,117.6L456.4,119.1L455.7,117.6L454,117.7L454.9,116.4L454,115L455.7,115.2zM459,75.7L459.7,77.2L461.3,77.1L460.4,78.4L461.3,79.8L459.7,79.6L459,81.1L458.3,79.6L456.6,79.8L457.6,78.4L456.6,77.1L458.3,77.2zM472,55.4L472.7,56.9L474.4,56.8L473.4,58.1L474.4,59.5L472.7,59.3L472,60.8L471.3,59.3L469.7,59.5L470.6,58.1L469.7,56.8L471.3,56.9zM462.1,81.1L462.8,82.6L464.5,82.5L463.5,83.8L464.5,85.2L462.8,85L462.1,86.5L461.4,85L459.8,85.2L460.7,83.8L459.8,82.5L461.4,82.6zM464.3,62.4L465,63.9L466.6,63.8L465.7,65.1L466.6,66.5L465,66.4L464.3,67.8L463.6,66.4L461.9,66.5L462.9,65.1L461.9,63.8L463.6,63.9zM476.1,47.2L476.8,48.7L478.5,48.5L477.5,49.9L478.5,51.2L476.8,51.1L476.1,52.6L475.4,51.1L473.8,51.2L474.7,49.9L473.8,48.5L475.4,48.7zM474.9,93.7L475.6,95.2L477.2,95.1L476.3,96.4L477.2,97.8L475.6,97.7L474.9,99.1L474.2,97.7L472.6,97.8L473.5,96.4L472.6,95.1L474.2,95.2zM486.1,76.7L486.8,78.1L488.4,78L487.5,79.4L488.4,80.7L486.8,80.6L486.1,82.1L485.4,80.6L483.8,80.7L484.7,79.4L483.8,78L485.4,78.1zM460.2,96.5L460.9,98L462.6,97.9L461.6,99.2L462.6,100.6L460.9,100.4L460.2,101.9L459.5,100.4L457.9,100.6L458.8,99.2L457.9,97.9L459.5,98zM485.3,71.3L486,72.8L487.6,72.6L486.7,74L487.6,75.3L486,75.2L485.3,76.7L484.6,75.2L483,75.3L483.9,74L483,72.6L484.6,72.8zM449.5,90.3L450.2,91.8L451.8,91.7L450.9,93L451.8,94.4L450.2,94.2L449.5,95.7L448.8,94.2L447.2,94.4L448.1,93L447.2,91.7L448.8,91.8zM449.9,72.4L450.6,73.9L452.3,73.8L451.3,75.1L452.3,76.5L450.6,76.3L449.9,77.8L449.2,76.3L447.6,76.5L448.5,75.1L447.6,73.8L449.2,73.9zM482,39.3L482.7,40.7L484.3,40.6L483.4,42L484.3,43.3L482.7,43.2L482,44.7L481.3,43.2L479.6,43.3L480.6,42L479.6,40.6L481.3,40.7zM449.9,61.2L450.6,62.6L452.2,62.5L451.3,63.9L452.2,65.2L450.6,65.1L449.9,66.6L449.2,65.1L447.6,65.2L448.5,63.9L447.6,62.5L449.2,62.6zM479.1,81.5L479.8,83L481.4,82.8L480.5,84.2L481.4,85.5L479.8,85.4L479.1,86.9L478.4,85.4L476.8,85.5L477.7,84.2L476.8,82.8L478.4,83zM482.1,44L482.8,45.4L484.4,45.3L483.5,46.7L484.4,48L482.8,47.9L482.1,49.4L481.4,47.9L479.8,48L480.7,46.7L479.8,45.3L481.4,45.4zM473.1,82.5L473.8,84L475.4,83.9L474.5,85.2L475.4,86.6L473.8,86.4L473.1,87.9L472.4,86.4L470.7,86.6L471.7,85.2L470.7,83.9L472.4,84zM477.5,59.9L478.2,61.3L479.8,61.2L478.9,62.6L479.8,63.9L478.2,63.8L477.5,65.3L476.8,63.8L475.1,63.9L476.1,62.6L475.1,61.2L476.8,61.3zM473.9,68.5L474.6,70L476.2,69.9L475.3,71.2L476.2,72.6L474.6,72.5L473.9,73.9L473.2,72.5L471.6,72.6L472.5,71.2L471.6,69.9L473.2,70zM484.3,66.2L485,67.6L486.6,67.5L485.7,68.9L486.6,70.2L485,70.1L484.3,71.6L483.6,70.1L481.9,70.2L482.9,68.9L481.9,67.5L483.6,67.6zM485.1,53.2L485.8,54.7L487.4,54.6L486.5,55.9L487.4,57.3L485.8,57.1L485.1,58.6L484.4,57.1L482.7,57.3L483.7,55.9L482.7,54.6L484.4,54.7zM477.2,76.5L477.9,78L479.5,77.9L478.6,79.2L479.5,80.6L477.9,80.5L477.2,81.9L476.5,80.5L474.8,80.6L475.8,79.2L474.8,77.9L476.5,78zM481.8,67.9L482.5,69.4L484.2,69.3L483.3,70.6L484.2,72L482.5,71.8L481.8,73.3L481.1,71.8L479.5,72L480.4,70.6L479.5,69.3L481.1,69.4zM477.2,71.5L477.9,73L479.6,72.9L478.6,74.2L479.6,75.6L477.9,75.4L477.2,76.9L476.5,75.4L474.9,75.6L475.8,74.2L474.9,72.9L476.5,73zM482.7,76.7L483.4,78.2L485.1,78.1L484.1,79.4L485.1,80.8L483.4,80.7L482.7,82.1L482,80.7L480.4,80.8L481.3,79.4L480.4,78.1L482,78.2zM486.5,67.2L487.2,68.7L488.9,68.6L487.9,69.9L488.9,71.3L487.2,71.1L486.5,72.6L485.8,71.1L484.2,71.3L485.1,69.9L484.2,68.6L485.8,68.7zM476.5,72.8L477.2,74.3L478.8,74.1L477.9,75.5L478.8,76.8L477.2,76.7L476.5,78.2L475.8,76.7L474.1,76.8L475.1,75.5L474.1,74.1L475.8,74.3zM483,63.7L483.7,65.2L485.4,65.1L484.4,66.4L485.4,67.8L483.7,67.7L483,69.1L482.3,67.7L480.7,67.8L481.6,66.4L480.7,65.1L482.3,65.2zM472.7,63L473.4,64.5L475,64.3L474.1,65.7L475,67L473.4,66.9L472.7,68.4L472,66.9L470.3,67L471.3,65.7L470.3,64.3L472,64.5zM480.3,72.9L481,74.4L482.6,74.3L481.7,75.6L482.6,77L481,76.9L480.3,78.3L479.6,76.9L478,77L478.9,75.6L478,74.3L479.6,74.4zM485.8,68.7L486.5,70.2L488.1,70.1L487.2,71.4L488.1,72.8L486.5,72.6L485.8,74.1L485.1,72.6L483.5,72.8L484.4,71.4L483.5,70.1L485.1,70.2zM489.3,51.9L490,53.4L491.7,53.2L490.7,54.6L491.7,55.9L490,55.8L489.3,57.3L488.6,55.8L487,55.9L487.9,54.6L487,53.2L488.6,53.4zM483.5,58.4L484.2,59.9L485.8,59.8L484.9,61.1L485.8,62.5L484.2,62.3L483.5,63.8L482.8,62.3L481.2,62.5L482.1,61.1L481.2,59.8L482.8,59.9zM480.5,69.6L481.2,71.1L482.9,71L481.9,72.3L482.9,73.7L481.2,73.5L480.5,75L479.8,73.5L478.2,73.7L479.1,72.3L478.2,71L479.8,71.1zM489.7,52.2L490.4,53.7L492.1,53.6L491.1,54.9L492.1,56.3L490.4,56.1L489.7,57.6L489,56.1L487.4,56.3L488.3,54.9L487.4,53.6L489,53.7zM495.5,51.1L496.2,52.6L497.9,52.4L496.9,53.8L497.9,55.1L496.2,55L495.5,56.5L494.8,55L493.2,55.1L494.1,53.8L493.2,52.4L494.8,52.6zM504.8,39.5L505.5,41L507.2,40.9L506.2,42.2L507.2,43.6L505.5,43.5L504.8,44.9L504.1,43.5L502.5,43.6L503.4,42.2L502.5,40.9L504.1,41zM489.7,61.7L490.4,63.2L492.1,63.1L491.1,64.4L492.1,65.8L490.4,65.7L489.7,67.1L489,65.7L487.4,65.8L488.3,64.4L487.4,63.1L489,63.2zM504.5,39.8L505.2,41.3L506.8,41.2L505.9,42.5L506.8,43.9L505.2,43.7L504.5,45.2L503.8,43.7L502.2,43.9L503.1,42.5L502.2,41.2L503.8,41.3zM498.7,52.2L499.4,53.6L501.1,53.5L500.1,54.9L501.1,56.2L499.4,56.1L498.7,57.6L498,56.1L496.4,56.2L497.3,54.9L496.4,53.5L498,53.6zM501.9,33.2L502.6,34.7L504.2,34.6L503.3,35.9L504.2,37.3L502.6,37.1L501.9,38.6L501.2,37.1L499.5,37.3L500.5,35.9L499.5,34.6L501.2,34.7zM496.5,40.4L497.2,41.9L498.9,41.7L497.9,43.1L498.9,44.4L497.2,44.3L496.5,45.8L495.8,44.3L494.2,44.4L495.1,43.1L494.2,41.7L495.8,41.9zM506.1,54.5L506.8,55.9L508.4,55.8L507.5,57.2L508.4,58.5L506.8,58.4L506.1,59.9L505.3,58.4L503.7,58.5L504.6,57.2L503.7,55.8L505.3,55.9zM492.8,43L493.5,44.4L495.1,44.3L494.2,45.7L495.1,47L493.5,46.9L492.8,48.4L492.1,46.9L490.4,47L491.4,45.7L490.4,44.3L492.1,44.4zM504.7,53.4L505.4,54.8L507.1,54.7L506.1,56.1L507.1,57.4L505.4,57.3L504.7,58.8L504,57.3L502.4,57.4L503.3,56.1L502.4,54.7L504,54.8zM494.4,50.6L495.1,52.1L496.7,52L495.8,53.3L496.7,54.7L495.1,54.5L494.4,56L493.7,54.5L492,54.7L493,53.3L492,52L493.7,52.1zM491.5,46L492.2,47.5L493.8,47.3L492.9,48.7L493.8,50L492.2,49.9L491.5,51.4L490.8,49.9L489.2,50L490.1,48.7L489.2,47.3L490.8,47.5zM492.1,60.5L492.8,62L494.5,61.9L493.5,63.2L494.5,64.6L492.8,64.5L492.1,65.9L491.4,64.5L489.8,64.6L490.7,63.2L489.8,61.9L491.4,62zM505.1,48.7L505.8,50.2L507.5,50.1L506.5,51.4L507.5,52.8L505.8,52.6L505.1,54.1L504.4,52.6L502.8,52.8L503.7,51.4L502.8,50.1L504.4,50.2zM499.4,44.4L500.1,45.9L501.7,45.8L500.8,47.1L501.7,48.5L500.1,48.4L499.4,49.8L498.6,48.4L497,48.5L497.9,47.1L497,45.8L498.6,45.9zM496,47.1L496.7,48.6L498.4,48.5L497.4,49.8L498.4,51.2L496.7,51L496,52.5L495.3,51L493.7,51.2L494.6,49.8L493.7,48.5L495.3,48.6zM491.3,56.6L492,58L493.6,57.9L492.7,59.3L493.6,60.6L492,60.5L491.3,62L490.6,60.5L488.9,60.6L489.9,59.3L488.9,57.9L490.6,58zM491.4,54.9L492.1,56.3L493.7,56.2L492.8,57.6L493.7,58.9L492.1,58.8L491.4,60.3L490.7,58.8L489,58.9L490,57.6L489,56.2L490.7,56.3zM491.1,63.7L491.8,65.1L493.5,65L492.5,66.4L493.5,67.7L491.8,67.6L491.1,69.1L490.4,67.6L488.8,67.7L489.7,66.4L488.8,65L490.4,65.1zM495.8,55.6L496.5,57.1L498.2,57L497.2,58.3L498.2,59.7L496.5,59.6L495.8,61L495.1,59.6L493.5,59.7L494.4,58.3L493.5,57L495.1,57.1zM497.3,33.9L498,35.4L499.7,35.2L498.7,36.6L499.7,37.9L498,37.8L497.3,39.3L496.6,37.8L495,37.9L495.9,36.6L495,35.2L496.6,35.4zM499.4,47.6L500.1,49.1L501.8,48.9L500.8,50.3L501.8,51.6L500.1,51.5L499.4,53L498.7,51.5L497.1,51.6L498,50.3L497.1,48.9L498.7,49.1zM507,36.5L507.7,38L509.4,37.9L508.4,39.2L509.4,40.6L507.7,40.4L507,41.9L506.3,40.4L504.7,40.6L505.6,39.2L504.7,37.9L506.3,38zM497.6,37.4L498.3,38.8L500,38.7L499,40.1L500,41.4L498.3,41.3L497.6,42.8L496.9,41.3L495.3,41.4L496.2,40.1L495.3,38.7L496.9,38.8zM493.7,64.2L494.4,65.7L496,65.6L495.1,66.9L496,68.3L494.4,68.2L493.7,69.6L493,68.2L491.3,68.3L492.3,66.9L491.3,65.6L493,65.7zM502.8,37.1L503.5,38.6L505.1,38.5L504.2,39.8L505.1,41.2L503.5,41L502.8,42.5L502.1,41L500.5,41.2L501.4,39.8L500.5,38.5L502.1,38.6zM504.1,62.1L504.9,63.6L506.5,63.5L505.6,64.8L506.5,66.2L504.9,66L504.1,67.5L503.4,66L501.8,66.2L502.7,64.8L501.8,63.5L503.4,63.6zM497.8,47.5L498.5,49L500.1,48.9L499.2,50.2L500.1,51.6L498.5,51.4L497.8,52.9L497.1,51.4L495.4,51.6L496.4,50.2L495.4,48.9L497.1,49zM498.2,39.9L498.9,41.4L500.5,41.2L499.6,42.6L500.5,43.9L498.9,43.8L498.2,45.3L497.5,43.8L495.8,43.9L496.8,42.6L495.8,41.2L497.5,41.4zM491,48.8L491.7,50.3L493.3,50.2L492.4,51.5L493.3,52.9L491.7,52.8L491,54.2L490.3,52.8L488.6,52.9L489.6,51.5L488.6,50.2L490.3,50.3zM496,53.4L496.7,54.9L498.3,54.8L497.4,56.1L498.3,57.5L496.7,57.3L496,58.8L495.3,57.3L493.6,57.5L494.6,56.1L493.6,54.8L495.3,54.9zM490,52.9L490.7,54.4L492.4,54.2L491.4,55.6L492.4,56.9L490.7,56.8L490,58.3L489.3,56.8L487.7,56.9L488.6,55.6L487.7,54.2L489.3,54.4zM494.8,51.6L495.5,53.1L497.1,52.9L496.2,54.3L497.1,55.6L495.5,55.5L494.8,57L494.1,55.5L492.4,55.6L493.4,54.3L492.4,52.9L494.1,53.1zM504.1,51.8L504.8,53.3L506.4,53.1L505.5,54.5L506.4,55.8L504.8,55.7L504.1,57.2L503.4,55.7L501.7,55.8L502.7,54.5L501.7,53.1L503.4,53.3zM493.4,69.2L494.1,70.7L495.7,70.6L494.8,71.9L495.7,73.3L494.1,73.1L493.4,74.6L492.7,73.1L491.1,73.3L492,71.9L491.1,70.6L492.7,70.7zM497.6,33.5L498.3,35L500,34.9L499,36.2L500,37.6L498.3,37.5L497.6,38.9L496.9,37.5L495.3,37.6L496.2,36.2L495.3,34.9L496.9,35zM501.3,45.8L502,47.2L503.6,47.1L502.7,48.5L503.6,49.8L502,49.7L501.3,51.2L500.6,49.7L499,49.8L499.9,48.5L499,47.1L500.6,47.2zM507,36.9L507.7,38.4L509.3,38.2L508.4,39.6L509.3,40.9L507.7,40.8L507,42.3L506.3,40.8L504.7,40.9L505.6,39.6L504.7,38.2L506.3,38.4zM490.9,59.3L491.6,60.8L493.2,60.7L492.3,62L493.2,63.4L491.6,63.3L490.9,64.7L490.2,63.3L488.5,63.4L489.5,62L488.5,60.7L490.2,60.8zM506.3,45.1L507,46.6L508.6,46.4L507.7,47.8L508.6,49.1L507,49L506.3,50.5L505.6,49L503.9,49.1L504.9,47.8L503.9,46.4L505.6,46.6zM505.8,64.1L506.6,65.6L508.2,65.4L507.3,66.8L508.2,68.1L506.6,68L505.8,69.5L505.1,68L503.5,68.1L504.4,66.8L503.5,65.4L505.1,65.6zM491.8,52.1L492.5,53.6L494.1,53.5L493.2,54.8L494.1,56.2L492.5,56L491.8,57.5L491.1,56L489.4,56.2L490.4,54.8L489.4,53.5L491.1,53.6zM491,58.4L491.7,59.8L493.4,59.7L492.4,61.1L493.4,62.4L491.7,62.3L491,63.8L490.3,62.3L488.7,62.4L489.6,61.1L488.7,59.7L490.3,59.8zM491.8,68.9L492.5,70.4L494.1,70.2L493.2,71.6L494.1,72.9L492.5,72.8L491.8,74.3L491.1,72.8L489.5,72.9L490.4,71.6L489.5,70.2L491.1,70.4zM504.4,48L505.1,49.5L506.7,49.4L505.8,50.7L506.7,52.1L505.1,51.9L504.4,53.4L503.7,51.9L502.1,52.1L503,50.7L502.1,49.4L503.7,49.5zM492.4,52.5L493.1,54L494.7,53.9L493.8,55.2L494.7,56.6L493.1,56.5L492.4,57.9L491.7,56.5L490.1,56.6L491,55.2L490.1,53.9L491.7,54zM492.6,50L493.3,51.5L495,51.4L494.1,52.7L495,54.1L493.3,53.9L492.6,55.4L491.9,53.9L490.3,54.1L491.2,52.7L490.3,51.4L491.9,51.5zM498.4,51.2L499.1,52.7L500.7,52.6L499.8,53.9L500.7,55.3L499.1,55.1L498.4,56.6L497.7,55.1L496,55.3L497,53.9L496,52.6L497.7,52.7zM494.4,63.2L495.1,64.7L496.8,64.5L495.8,65.9L496.8,67.2L495.1,67.1L494.4,68.6L493.7,67.1L492.1,67.2L493,65.9L492.1,64.5L493.7,64.7zM505.3,41.3L506,42.8L507.6,42.6L506.7,44L507.6,45.3L506,45.2L505.3,46.7L504.5,45.2L502.9,45.3L503.8,44L502.9,42.6L504.5,42.8zM490.6,55L491.3,56.5L492.9,56.3L492,57.7L492.9,59L491.3,58.9L490.6,60.4L489.9,58.9L488.3,59L489.2,57.7L488.3,56.3L489.9,56.5zM498.9,42.3L499.6,43.8L501.3,43.6L500.3,45L501.3,46.3L499.6,46.2L498.9,47.7L498.2,46.2L496.6,46.3L497.5,45L496.6,43.6L498.2,43.8zM498.2,54.9L498.9,56.3L500.5,56.2L499.6,57.6L500.5,58.9L498.9,58.8L498.2,60.3L497.5,58.8L495.8,58.9L496.8,57.6L495.8,56.2L497.5,56.3zM504.8,42.8L505.5,44.3L507.1,44.2L506.2,45.5L507.1,46.9L505.5,46.8L504.8,48.2L504.1,46.8L502.4,46.9L503.4,45.5L502.4,44.2L504.1,44.3zM507.5,44.7L508.2,46.2L509.8,46L508.9,47.4L509.8,48.7L508.2,48.6L507.5,50.1L506.8,48.6L505.2,48.7L506.1,47.4L505.2,46L506.8,46.2zM503.1,40.7L503.8,42.2L505.5,42L504.5,43.4L505.5,44.7L503.8,44.6L503.1,46.1L502.4,44.6L500.8,44.7L501.7,43.4L500.8,42L502.4,42.2zM498.8,50.9L499.5,52.4L501.2,52.2L500.2,53.6L501.2,54.9L499.5,54.8L498.8,56.3L498.1,54.8L496.5,54.9L497.4,53.6L496.5,52.2L498.1,52.4zM497.9,46.7L498.6,48.2L500.3,48.1L499.3,49.4L500.3,50.8L498.6,50.6L497.9,52.1L497.2,50.6L495.6,50.8L496.5,49.4L495.6,48.1L497.2,48.2zM493,41.1L493.7,42.5L495.4,42.4L494.4,43.8L495.4,45.1L493.7,45L493,46.5L492.3,45L490.7,45.1L491.6,43.8L490.7,42.4L492.3,42.5zM491.4,53.6L492.1,55.1L493.7,54.9L492.8,56.3L493.7,57.6L492.1,57.5L491.4,59L490.7,57.5L489.1,57.6L490,56.3L489.1,54.9L490.7,55.1zM506.4,39.1L507.1,40.6L508.8,40.4L507.8,41.8L508.8,43.1L507.1,43L506.4,44.5L505.7,43L504.1,43.1L505,41.8L504.1,40.4L505.7,40.6zM491.2,52L491.9,53.4L493.6,53.3L492.6,54.7L493.6,56L491.9,55.9L491.2,57.4L490.5,55.9L488.9,56L489.8,54.7L488.9,53.3L490.5,53.4zM507.3,28.5L508,30L509.6,29.9L508.7,31.2L509.6,32.6L508,32.4L507.3,33.9L506.6,32.4L504.9,32.6L505.9,31.2L504.9,29.9L506.6,30zM499.4,44.2L500.1,45.7L501.8,45.6L500.8,46.9L501.8,48.3L500.1,48.1L499.4,49.6L498.7,48.1L497.1,48.3L498,46.9L497.1,45.6L498.7,45.7zM497.7,49.7L498.5,51.2L500.1,51L499.2,52.4L500.1,53.7L498.5,53.6L497.7,55.1L497,53.6L495.4,53.7L496.3,52.4L495.4,51L497,51.2zM491.6,58.3L492.3,59.8L493.9,59.7L493,61L493.9,62.4L492.3,62.2L491.6,63.7L490.9,62.2L489.3,62.4L490.2,61L489.3,59.7L490.9,59.8zM501.2,41.8L501.9,43.2L503.5,43.1L502.6,44.5L503.5,45.8L501.9,45.7L501.2,47.2L500.5,45.7L498.9,45.8L499.8,44.5L498.9,43.1L500.5,43.2zM504,45.2L504.7,46.7L506.3,46.5L505.4,47.9L506.3,49.2L504.7,49.1L504,50.6L503.3,49.1L501.7,49.2L502.6,47.9L501.7,46.5L503.3,46.7zM507.7,37.2L508.4,38.7L510,38.6L509.1,39.9L510,41.3L508.4,41.1L507.7,42.6L507,41.1L505.4,41.3L506.3,39.9L505.4,38.6L507,38.7zM500.7,40.7L501.4,42.2L503.1,42.1L502.1,43.4L503.1,44.8L501.4,44.6L500.7,46.1L500,44.6L498.4,44.8L499.3,43.4L498.4,42.1L500,42.2zM489.9,56.5L490.6,58L492.2,57.9L491.3,59.2L492.2,60.6L490.6,60.4L489.9,61.9L489.2,60.4L487.5,60.6L488.5,59.2L487.5,57.9L489.2,58zM505.4,33.8L506.1,35.3L507.7,35.2L506.8,36.5L507.7,37.9L506.1,37.7L505.4,39.2L504.7,37.7L503,37.9L504,36.5L503,35.2L504.7,35.3zM505.9,28.3L506.6,29.7L508.2,29.6L507.3,31L508.2,32.3L506.6,32.2L505.9,33.7L505.2,32.2L503.6,32.3L504.5,31L503.6,29.6L505.2,29.7zM500.8,44.7L501.5,46.1L503.1,46L502.2,47.4L503.1,48.7L501.5,48.6L500.8,50.1L500.1,48.6L498.4,48.7L499.4,47.4L498.4,46L500.1,46.1zM491.7,50.5L492.4,52L494.1,51.9L493.1,53.2L494.1,54.6L492.4,54.5L491.7,55.9L491,54.5L489.4,54.6L490.3,53.2L489.4,51.9L491,52zM494.2,49.7L494.9,51.2L496.6,51L495.6,52.4L496.6,53.7L494.9,53.6L494.2,55.1L493.5,53.6L491.9,53.7L492.8,52.4L491.9,51L493.5,51.2zM512.6,32.5L513.3,34L514.9,33.8L514,35.2L514.9,36.5L513.3,36.4L512.6,37.9L511.9,36.4L510.3,36.5L511.2,35.2L510.3,33.8L511.9,34zM519.4,27.5L520.1,29L521.7,28.8L520.8,30.2L521.7,31.5L520.1,31.4L519.4,32.9L518.7,31.4L517,31.5L518,30.2L517,28.8L518.7,29zM515.7,30.6L516.4,32.1L518,32L517.1,33.3L518,34.7L516.4,34.5L515.7,36L515,34.5L513.3,34.7L514.3,33.3L513.3,32L515,32.1zM514.7,32.9L515.4,34.4L517,34.3L516.1,35.6L517,37L515.4,36.8L514.7,38.3L514,36.8L512.3,37L513.3,35.6L512.3,34.3L514,34.4zM518.9,28.6L519.6,30.1L521.2,29.9L520.3,31.3L521.2,32.6L519.6,32.5L518.9,34L518.2,32.5L516.6,32.6L517.5,31.3L516.6,29.9L518.2,30.1zM514.7,24.8L515.4,26.3L517,26.1L516.1,27.5L517,28.8L515.4,28.7L514.7,30.2L514,28.7L512.3,28.8L513.3,27.5L512.3,26.1L514,26.3zM518.1,28.1L518.8,29.6L520.5,29.5L519.6,30.8L520.5,32.2L518.8,32L518.1,33.5L517.4,32L515.8,32.2L516.7,30.8L515.8,29.5L517.4,29.6zM520,27.2L520.7,28.7L522.3,28.5L521.4,29.9L522.3,31.2L520.7,31.1L520,32.6L519.3,31.1L517.7,31.2L518.6,29.9L517.7,28.5L519.3,28.7zM519.4,27.9L520.1,29.4L521.7,29.3L520.8,30.6L521.7,32L520.1,31.8L519.4,33.3L518.7,31.8L517,32L518,30.6L517,29.3L518.7,29.4zM513.8,42.1L514.5,43.6L516.1,43.5L515.2,44.8L516.1,46.2L514.5,46L513.8,47.5L513.1,46L511.4,46.2L512.4,44.8L511.4,43.5L513.1,43.6zM517,17.6L517.7,19L519.3,18.9L518.4,20.3L519.3,21.6L517.7,21.5L517,23L516.3,21.5L514.7,21.6L515.6,20.3L514.7,18.9L516.3,19zM510.7,42.3L511.4,43.8L513.1,43.7L512.1,45L513.1,46.4L511.4,46.2L510.7,47.7L510,46.2L508.4,46.4L509.3,45L508.4,43.7L510,43.8zM520.3,34.2L521,35.7L522.6,35.6L521.7,36.9L522.6,38.3L521,38.1L520.3,39.6L519.6,38.1L518,38.3L518.9,36.9L518,35.6L519.6,35.7zM514.1,51.4L514.8,52.9L516.5,52.8L515.5,54.1L516.5,55.5L514.8,55.3L514.1,56.8L513.4,55.3L511.8,55.5L512.7,54.1L511.8,52.8L513.4,52.9zM514.4,27L515.1,28.5L516.7,28.4L515.8,29.7L516.7,31.1L515.1,30.9L514.4,32.4L513.7,30.9L512,31.1L513,29.7L512,28.4L513.7,28.5zM510.5,54.8L511.2,56.3L512.8,56.2L511.9,57.5L512.8,58.9L511.2,58.8L510.5,60.2L509.7,58.8L508.1,58.9L509,57.5L508.1,56.2L509.7,56.3zM518.1,24.8L518.8,26.3L520.4,26.1L519.5,27.5L520.4,28.8L518.8,28.7L518.1,30.2L517.4,28.7L515.8,28.8L516.7,27.5L515.8,26.1L517.4,26.3zM517.3,30.9L518,32.4L519.6,32.3L518.7,33.6L519.6,35L518,34.8L517.3,36.3L516.6,34.8L514.9,35L515.9,33.6L514.9,32.3L516.6,32.4zM513.9,32L514.6,33.5L516.2,33.3L515.3,34.7L516.2,36L514.6,35.9L513.9,37.4L513.2,35.9L511.6,36L512.5,34.7L511.6,33.3L513.2,33.5zM508.4,42.5L509.1,43.9L510.7,43.8L509.8,45.2L510.7,46.5L509.1,46.4L508.4,47.9L507.7,46.4L506,46.5L507,45.2L506,43.8L507.7,43.9zM517.4,30L518.1,31.4L519.7,31.3L518.8,32.7L519.7,34L518.1,33.9L517.4,35.4L516.7,33.9L515,34L516,32.7L515,31.3L516.7,31.4zM516.5,44.6L517.2,46.1L518.9,46L517.9,47.3L518.9,48.7L517.2,48.5L516.5,50L515.8,48.5L514.2,48.7L515.1,47.3L514.2,46L515.8,46.1zM512.4,29.9L513.1,31.4L514.7,31.3L513.8,32.6L514.7,34L513.1,33.8L512.4,35.3L511.7,33.8L510.1,34L511,32.6L510.1,31.3L511.7,31.4zM517.3,48.5L518,50L519.7,49.8L518.7,51.2L519.7,52.5L518,52.4L517.3,53.9L516.6,52.4L515,52.5L515.9,51.2L515,49.8L516.6,50zM516.1,37.2L516.9,38.7L518.5,38.6L517.6,39.9L518.5,41.3L516.9,41.1L516.1,42.6L515.4,41.1L513.8,41.3L514.7,39.9L513.8,38.6L515.4,38.7zM515.6,24.6L516.3,26.1L517.9,26L517,27.3L517.9,28.7L516.3,28.5L515.6,30L514.9,28.5L513.2,28.7L514.2,27.3L513.2,26L514.9,26.1zM508.4,29.8L509.1,31.2L510.7,31.1L509.8,32.5L510.7,33.8L509.1,33.7L508.4,35.2L507.7,33.7L506.1,33.8L507,32.5L506.1,31.1L507.7,31.2zM520,18.5L520.7,20L522.4,19.9L521.4,21.2L522.4,22.6L520.7,22.5L520,23.9L519.3,22.5L517.7,22.6L518.6,21.2L517.7,19.9L519.3,20zM520.5,33.3L521.2,34.8L522.8,34.7L521.9,36L522.8,37.4L521.2,37.2L520.5,38.7L519.8,37.2L518.1,37.4L519.1,36L518.1,34.7L519.8,34.8zM517.3,46.5L518,48L519.7,47.9L518.7,49.2L519.7,50.6L518,50.4L517.3,51.9L516.6,50.4L515,50.6L515.9,49.2L515,47.9L516.6,48zM514.5,35.9L515.2,37.4L516.8,37.3L515.9,38.6L516.8,40L515.2,39.9L514.5,41.3L513.7,39.9L512.1,40L513,38.6L512.1,37.3L513.7,37.4zM517.4,40.4L518.1,41.9L519.7,41.8L518.8,43.1L519.7,44.5L518.1,44.3L517.4,45.8L516.7,44.3L515.1,44.5L516,43.1L515.1,41.8L516.7,41.9zM510.9,28.5L511.6,30L513.2,29.8L512.3,31.2L513.2,32.5L511.6,32.4L510.9,33.9L510.2,32.4L508.5,32.5L509.5,31.2L508.5,29.8L510.2,30zM516.7,22.5L517.4,24L519,23.9L518.1,25.2L519,26.6L517.4,26.4L516.7,27.9L516,26.4L514.4,26.6L515.3,25.2L514.4,23.9L516,24zM518.2,28.8L518.9,30.3L520.6,30.2L519.6,31.5L520.6,32.9L518.9,32.8L518.2,34.2L517.5,32.8L515.9,32.9L516.8,31.5L515.9,30.2L517.5,30.3zM514.4,18.7L515.1,20.2L516.7,20.1L515.8,21.4L516.7,22.8L515.1,22.7L514.4,24.1L513.7,22.7L512,22.8L513,21.4L512,20.1L513.7,20.2zM516.2,25.7L516.9,27.2L518.5,27.1L517.6,28.4L518.5,29.8L516.9,29.6L516.2,31.1L515.5,29.6L513.9,29.8L514.8,28.4L513.9,27.1L515.5,27.2zM514.8,25.9L515.5,27.4L517.2,27.3L516.3,28.6L517.2,30L515.5,29.9L514.8,31.3L514.1,29.9L512.5,30L513.4,28.6L512.5,27.3L514.1,27.4zM519.3,21.2L520,22.7L521.7,22.6L520.7,23.9L521.7,25.3L520,25.1L519.3,26.6L518.6,25.1L517,25.3L517.9,23.9L517,22.6L518.6,22.7zM517.4,30.2L518.1,31.7L519.7,31.6L518.8,32.9L519.7,34.3L518.1,34.1L517.4,35.6L516.7,34.1L515.1,34.3L516,32.9L515.1,31.6L516.7,31.7zM512.5,33.9L513.2,35.4L514.9,35.3L513.9,36.6L514.9,38L513.2,37.8L512.5,39.3L511.8,37.8L510.2,38L511.1,36.6L510.2,35.3L511.8,35.4zM520.1,21.5L520.8,23L522.4,22.9L521.5,24.2L522.4,25.6L520.8,25.4L520.1,26.9L519.4,25.4L517.7,25.6L518.7,24.2L517.7,22.9L519.4,23zM518.7,32.7L519.4,34.2L521,34.1L520.1,35.4L521,36.8L519.4,36.6L518.7,38.1L518,36.6L516.3,36.8L517.3,35.4L516.3,34.1L518,34.2zM517.8,42L518.5,43.5L520.2,43.3L519.2,44.7L520.2,46L518.5,45.9L517.8,47.4L517.1,45.9L515.5,46L516.4,44.7L515.5,43.3L517.1,43.5zM519.2,30.5L519.9,32L521.5,31.9L520.6,33.2L521.5,34.6L519.9,34.5L519.2,35.9L518.5,34.5L516.8,34.6L517.8,33.2L516.8,31.9L518.5,32zM512.7,37.1L513.4,38.6L515,38.5L514.1,39.8L515,41.2L513.4,41L512.7,42.5L512,41L510.3,41.2L511.3,39.8L510.3,38.5L512,38.6zM515.2,39.9L515.9,41.4L517.5,41.2L516.6,42.6L517.5,43.9L515.9,43.8L515.2,45.3L514.5,43.8L512.8,43.9L513.8,42.6L512.8,41.2L514.5,41.4zM512.6,39.9L513.3,41.4L515,41.2L514,42.6L515,43.9L513.3,43.8L512.6,45.3L511.9,43.8L510.3,43.9L511.2,42.6L510.3,41.2L511.9,41.4zM510.8,35L511.5,36.5L513.1,36.3L512.2,37.7L513.1,39L511.5,38.9L510.8,40.4L510.1,38.9L508.5,39L509.4,37.7L508.5,36.3L510.1,36.5zM520.5,27.1L521.2,28.6L522.8,28.5L521.9,29.8L522.8,31.2L521.2,31L520.5,32.5L519.8,31L518.1,31.2L519.1,29.8L518.1,28.5L519.8,28.6zM509.2,26.5L509.9,28L511.5,27.9L510.6,29.2L511.5,30.6L509.9,30.4L509.2,31.9L508.5,30.4L506.8,30.6L507.8,29.2L506.8,27.9L508.5,28zM514.6,35.8L515.3,37.3L516.9,37.2L516,38.5L516.9,39.9L515.3,39.8L514.6,41.2L513.9,39.8L512.2,39.9L513.2,38.5L512.2,37.2L513.9,37.3zM520.4,20.3L521.1,21.8L522.7,21.6L521.8,23L522.7,24.3L521.1,24.2L520.4,25.7L519.7,24.2L518.1,24.3L519,23L518.1,21.6L519.7,21.8zM519.4,31.7L520.1,33.2L521.7,33L520.8,34.4L521.7,35.7L520.1,35.6L519.4,37.1L518.7,35.6L517,35.7L518,34.4L517,33L518.7,33.2zM513.5,39.1L514.2,40.6L515.9,40.5L514.9,41.8L515.9,43.2L514.2,43L513.5,44.5L512.8,43L511.2,43.2L512.1,41.8L511.2,40.5L512.8,40.6zM519.5,25.5L520.2,27L521.9,26.9L520.9,28.2L521.9,29.6L520.2,29.4L519.5,30.9L518.8,29.4L517.2,29.6L518.1,28.2L517.2,26.9L518.8,27zM516.7,22.7L517.4,24.1L519,24L518.1,25.4L519,26.7L517.4,26.6L516.7,28.1L516,26.6L514.3,26.7L515.3,25.4L514.3,24L516,24.1zM514.2,36.6L514.9,38L516.5,37.9L515.6,39.3L516.5,40.6L514.9,40.5L514.2,42L513.5,40.5L511.8,40.6L512.8,39.3L511.8,37.9L513.5,38zM516.4,29.9L517.1,31.3L518.7,31.2L517.8,32.6L518.7,33.9L517.1,33.8L516.4,35.3L515.7,33.8L514,33.9L515,32.6L514,31.2L515.7,31.3zM518.1,32.8L518.8,34.3L520.4,34.2L519.5,35.5L520.4,36.9L518.8,36.7L518.1,38.2L517.4,36.7L515.7,36.9L516.7,35.5L515.7,34.2L517.4,34.3zM518.5,42.7L519.2,44.2L520.8,44L519.9,45.4L520.8,46.7L519.2,46.6L518.5,48.1L517.8,46.6L516.2,46.7L517.1,45.4L516.2,44L517.8,44.2zM518.7,31.9L519.4,33.4L521,33.2L520.1,34.6L521,35.9L519.4,35.8L518.7,37.3L518,35.8L516.4,35.9L517.3,34.6L516.4,33.2L518,33.4zM510.2,26.2L510.9,27.7L512.5,27.6L511.6,28.9L512.5,30.3L510.9,30.1L510.2,31.6L509.5,30.1L507.8,30.3L508.8,28.9L507.8,27.6L509.5,27.7zM511.7,45.8L512.4,47.3L514,47.1L513.1,48.5L514,49.8L512.4,49.7L511.7,51.2L511,49.7L509.4,49.8L510.3,48.5L509.4,47.1L511,47.3zM508.6,29.6L509.3,31.1L510.9,30.9L510,32.3L510.9,33.6L509.3,33.5L508.6,35L507.9,33.5L506.3,33.6L507.2,32.3L506.3,30.9L507.9,31.1zM513,35.3L513.7,36.8L515.4,36.7L514.4,38L515.4,39.4L513.7,39.3L513,40.7L512.3,39.3L510.7,39.4L511.6,38L510.7,36.7L512.3,36.8zM516.3,22.9L517,24.4L518.7,24.2L517.7,25.6L518.7,26.9L517,26.8L516.3,28.3L515.6,26.8L514,26.9L514.9,25.6L514,24.2L515.6,24.4zM514.9,32.8L515.6,34.3L517.2,34.2L516.3,35.5L517.2,36.9L515.6,36.7L514.9,38.2L514.2,36.7L512.6,36.9L513.5,35.5L512.6,34.2L514.2,34.3zM509.8,38.9L510.5,40.3L512.1,40.2L511.2,41.6L512.1,42.9L510.5,42.8L509.8,44.3L509.1,42.8L507.4,42.9L508.3,41.6L507.4,40.2L509.1,40.3zM520.5,24.2L521.2,25.7L522.8,25.5L521.9,26.9L522.8,28.2L521.2,28.1L520.5,29.6L519.8,28.1L518.1,28.2L519,26.9L518.1,25.5L519.8,25.7zM508.4,38.1L509.1,39.6L510.7,39.4L509.8,40.8L510.7,42.1L509.1,42L508.4,43.5L507.7,42L506,42.1L507,40.8L506,39.4L507.7,39.6zM518,18.9L518.7,20.4L520.4,20.3L519.4,21.6L520.4,23L518.7,22.8L518,24.3L517.3,22.8L515.7,23L516.6,21.6L515.7,20.3L517.3,20.4zM513.2,27.3L513.9,28.8L515.6,28.7L514.6,30L515.6,31.4L513.9,31.2L513.2,32.7L512.5,31.2L510.9,31.4L511.8,30L510.9,28.7L512.5,28.8zM509.6,37.9L510.3,39.4L511.9,39.3L511,40.6L511.9,42L510.3,41.8L509.6,43.3L508.9,41.8L507.2,42L508.2,40.6L507.2,39.3L508.9,39.4zM517.6,41.3L518.3,42.8L519.9,42.6L519,44L519.9,45.3L518.3,45.2L517.6,46.7L516.9,45.2L515.2,45.3L516.2,44L515.2,42.6L516.9,42.8zM511.8,36.5L512.5,38L514.2,37.9L513.2,39.2L514.2,40.6L512.5,40.4L511.8,41.9L511.1,40.4L509.5,40.6L510.4,39.2L509.5,37.9L511.1,38zM513.4,20L514.1,21.5L515.7,21.3L514.8,22.7L515.7,24L514.1,23.9L513.4,25.4L512.7,23.9L511,24L511.9,22.7L511,21.3L512.7,21.5zM514,37.1L514.7,38.6L516.3,38.5L515.4,39.8L516.3,41.2L514.7,41.1L514,42.5L513.3,41.1L511.6,41.2L512.6,39.8L511.6,38.5L513.3,38.6zM508.9,44.4L509.6,45.9L511.3,45.7L510.3,47.1L511.3,48.4L509.6,48.3L508.9,49.8L508.2,48.3L506.6,48.4L507.5,47.1L506.6,45.7L508.2,45.9zM510.3,45.8L511,47.2L512.6,47.1L511.7,48.5L512.6,49.8L511,49.7L510.3,51.2L509.6,49.7L507.9,49.8L508.9,48.5L507.9,47.1L509.6,47.2zM510.9,39.6L511.6,41.1L513.3,41L512.3,42.3L513.3,43.7L511.6,43.5L510.9,45L510.2,43.5L508.6,43.7L509.5,42.3L508.6,41L510.2,41.1zM511.2,45L511.9,46.5L513.5,46.3L512.6,47.7L513.5,49L511.9,48.9L511.2,50.4L510.5,48.9L508.8,49L509.8,47.7L508.8,46.3L510.5,46.5zM513.6,35.8L514.3,37.3L515.9,37.2L515,38.5L515.9,39.9L514.3,39.7L513.6,41.2L512.9,39.7L511.2,39.9L512.2,38.5L511.2,37.2L512.9,37.3zM512.7,31.8L513.4,33.3L515.1,33.2L514.1,34.5L515.1,35.9L513.4,35.7L512.7,37.2L512,35.7L510.4,35.9L511.3,34.5L510.4,33.2L512,33.3zM516.4,24L517.1,25.5L518.8,25.3L517.8,26.7L518.8,28L517.1,27.9L516.4,29.4L515.7,27.9L514.1,28L515,26.7L514.1,25.3L515.7,25.5zM512.8,39.3L513.5,40.8L515.2,40.7L514.2,42L515.2,43.4L513.5,43.2L512.8,44.7L512.1,43.2L510.5,43.4L511.4,42L510.5,40.7L512.1,40.8zM510.6,56.7L511.3,58.2L513,58L512,59.4L513,60.7L511.3,60.6L510.6,62.1L509.9,60.6L508.3,60.7L509.2,59.4L508.3,58L509.9,58.2zM520.8,26.3L521.5,27.8L523.2,27.7L522.2,29L523.2,30.4L521.5,30.2L520.8,31.7L520.1,30.2L518.5,30.4L519.4,29L518.5,27.7L520.1,27.8zM519.1,29.4L519.8,30.9L521.5,30.7L520.5,32.1L521.5,33.4L519.8,33.3L519.1,34.8L518.4,33.3L516.8,33.4L517.7,32.1L516.8,30.7L518.4,30.9zM516.2,23.1L516.9,24.6L518.5,24.5L517.6,25.8L518.5,27.2L516.9,27L516.2,28.5L515.5,27L513.8,27.2L514.8,25.8L513.8,24.5L515.5,24.6zM511.5,25.8L512.2,27.3L513.8,27.2L512.9,28.5L513.8,29.9L512.2,29.7L511.5,31.2L510.8,29.7L509.2,29.9L510.1,28.5L509.2,27.2L510.8,27.3zM515.6,36.4L516.3,37.9L517.9,37.8L517,39.1L517.9,40.5L516.3,40.4L515.6,41.8L514.9,40.4L513.2,40.5L514.2,39.1L513.2,37.8L514.9,37.9zM519,30.1L519.7,31.5L521.4,31.4L520.4,32.8L521.4,34.1L519.7,34L519,35.5L518.3,34L516.7,34.1L517.6,32.8L516.7,31.4L518.3,31.5zM515.3,41L516,42.5L517.6,42.3L516.7,43.7L517.6,45L516,44.9L515.3,46.4L514.6,44.9L513,45L513.9,43.7L513,42.3L514.6,42.5zM518.9,26.1L519.6,27.6L521.2,27.5L520.3,28.8L521.2,30.2L519.6,30.1L518.9,31.5L518.2,30.1L516.5,30.2L517.5,28.8L516.5,27.5L518.2,27.6zM511.9,35.4L512.6,36.9L514.3,36.8L513.3,38.1L514.3,39.5L512.6,39.3L511.9,40.8L511.2,39.3L509.6,39.5L510.5,38.1L509.6,36.8L511.2,36.9zM508.9,38.6L509.6,40.1L511.2,40L510.3,41.3L511.2,42.7L509.6,42.5L508.9,44L508.2,42.5L506.5,42.7L507.5,41.3L506.5,40L508.2,40.1zM509.3,45.1L510,46.6L511.6,46.4L510.7,47.8L511.6,49.1L510,49L509.3,50.5L508.6,49L507,49.1L507.9,47.8L507,46.4L508.6,46.6zM513.5,25.5L514.2,27L515.8,26.8L514.9,28.2L515.8,29.5L514.2,29.4L513.5,30.9L512.8,29.4L511.1,29.5L512.1,28.2L511.1,26.8L512.8,27zM519.7,27.3L520.4,28.8L522.1,28.7L521.1,30L522.1,31.4L520.4,31.2L519.7,32.7L519,31.2L517.4,31.4L518.3,30L517.4,28.7L519,28.8zM520.4,20.1L521.1,21.5L522.8,21.4L521.8,22.8L522.8,24.1L521.1,24L520.4,25.5L519.7,24L518.1,24.1L519,22.8L518.1,21.4L519.7,21.5zM516,27L516.7,28.5L518.3,28.4L517.4,29.7L518.3,31.1L516.7,30.9L516,32.4L515.2,30.9L513.6,31.1L514.5,29.7L513.6,28.4L515.2,28.5zM515.4,24L516.1,25.5L517.8,25.4L516.8,26.7L517.8,28.1L516.1,27.9L515.4,29.4L514.7,27.9L513.1,28.1L514,26.7L513.1,25.4L514.7,25.5zM516.1,19.1L516.8,20.6L518.4,20.4L517.5,21.8L518.4,23.1L516.8,23L516.1,24.5L515.4,23L513.7,23.1L514.7,21.8L513.7,20.4L515.4,20.6zM514.9,47.9L515.6,49.4L517.2,49.3L516.3,50.6L517.2,52L515.6,51.9L514.9,53.3L514.1,51.9L512.5,52L513.4,50.6L512.5,49.3L514.1,49.4zM521.9,22.8L522.6,24.3L524.2,24.2L523.3,25.5L524.2,26.9L522.6,26.7L521.9,28.2L521.2,26.7L519.6,26.9L520.5,25.5L519.6,24.2L521.2,24.3zM524.3,25.9L525,27.4L526.6,27.3L525.7,28.6L526.6,30L525,29.9L524.3,31.3L523.6,29.9L521.9,30L522.9,28.6L521.9,27.3L523.6,27.4zM530.9,16.2L531.6,17.7L533.2,17.6L532.3,18.9L533.2,20.3L531.6,20.2L530.9,21.6L530.2,20.2L528.5,20.3L529.4,18.9L528.5,17.6L530.2,17.7zM529.7,17.9L530.4,19.4L532,19.3L531.1,20.6L532,22L530.4,21.8L529.7,23.3L529,21.8L527.4,22L528.3,20.6L527.4,19.3L529,19.4zM526.7,22.8L527.4,24.3L529.1,24.1L528.1,25.5L529.1,26.8L527.4,26.7L526.7,28.2L526,26.7L524.4,26.8L525.3,25.5L524.4,24.1L526,24.3zM533.7,13.1L534.4,14.6L536,14.5L535.1,15.8L536,17.2L534.4,17.1L533.7,18.5L532.9,17.1L531.3,17.2L532.2,15.8L531.3,14.5L532.9,14.6zM525.9,14L526.6,15.5L528.3,15.4L527.3,16.7L528.3,18.1L526.6,18L525.9,19.4L525.2,18L523.6,18.1L524.5,16.7L523.6,15.4L525.2,15.5zM527.5,26.5L528.2,27.9L529.8,27.8L528.9,29.2L529.8,30.5L528.2,30.4L527.5,31.9L526.8,30.4L525.2,30.5L526.1,29.2L525.2,27.8L526.8,27.9zM530.2,15.1L530.9,16.5L532.6,16.4L531.6,17.8L532.6,19.1L530.9,19L530.2,20.5L529.5,19L527.9,19.1L528.8,17.8L527.9,16.4L529.5,16.5zM527.6,18.1L528.3,19.6L530,19.4L529,20.8L530,22.1L528.3,22L527.6,23.5L526.9,22L525.3,22.1L526.2,20.8L525.3,19.4L526.9,19.6zM522.5,31.7L523.2,33.2L524.9,33.1L523.9,34.4L524.9,35.8L523.2,35.6L522.5,37.1L521.8,35.6L520.2,35.8L521.1,34.4L520.2,33.1L521.8,33.2zM534.2,12.9L534.9,14.4L536.5,14.2L535.6,15.6L536.5,16.9L534.9,16.8L534.2,18.3L533.5,16.8L531.9,16.9L532.8,15.6L531.9,14.2L533.5,14.4zM527.6,13.1L528.3,14.6L529.9,14.4L529,15.8L529.9,17.1L528.3,17L527.6,18.5L526.9,17L525.3,17.1L526.2,15.8L525.3,14.4L526.9,14.6zM531.7,13.1L532.4,14.6L534,14.5L533.1,15.8L534,17.2L532.4,17.1L531.7,18.5L531,17.1L529.3,17.2L530.3,15.8L529.3,14.5L531,14.6zM528.6,16.1L529.4,17.5L531,17.4L530.1,18.8L531,20.1L529.4,20L528.6,21.5L527.9,20L526.3,20.1L527.2,18.8L526.3,17.4L527.9,17.5zM523.8,36.4L524.5,37.9L526.2,37.7L525.2,39.1L526.2,40.4L524.5,40.3L523.8,41.8L523.1,40.3L521.5,40.4L522.4,39.1L521.5,37.7L523.1,37.9zM523.9,20.2L524.6,21.7L526.2,21.6L525.3,22.9L526.2,24.3L524.6,24.1L523.9,25.6L523.2,24.1L521.5,24.3L522.5,22.9L521.5,21.6L523.2,21.7zM531.2,12.5L531.9,14L533.5,13.8L532.6,15.2L533.5,16.5L531.9,16.4L531.2,17.9L530.5,16.4L528.9,16.5L529.8,15.2L528.9,13.8L530.5,14zM527,23L527.7,24.5L529.4,24.3L528.4,25.7L529.4,27L527.7,26.9L527,28.4L526.3,26.9L524.7,27L525.6,25.7L524.7,24.3L526.3,24.5zM530.9,15.5L531.6,17L533.3,16.9L532.3,18.2L533.3,19.6L531.6,19.4L530.9,20.9L530.2,19.4L528.6,19.6L529.5,18.2L528.6,16.9L530.2,17zM534.4,13L535.1,14.5L536.7,14.4L535.8,15.7L536.7,17.1L535.1,16.9L534.4,18.4L533.7,16.9L532.1,17.1L533,15.7L532.1,14.4L533.7,14.5zM525,25.9L525.7,27.4L527.4,27.2L526.4,28.6L527.4,29.9L525.7,29.8L525,31.3L524.3,29.8L522.7,29.9L523.6,28.6L522.7,27.2L524.3,27.4zM527.4,26.2L528.1,27.7L529.7,27.6L528.8,28.9L529.7,30.3L528.1,30.1L527.4,31.6L526.7,30.1L525,30.3L526,28.9L525,27.6L526.7,27.7zM522.5,24.8L523.2,26.3L524.9,26.1L523.9,27.5L524.9,28.8L523.2,28.7L522.5,30.2L521.8,28.7L520.2,28.8L521.1,27.5L520.2,26.1L521.8,26.3zM531.4,16L532.1,17.5L533.8,17.4L532.8,18.7L533.8,20.1L532.1,19.9L531.4,21.4L530.7,19.9L529.1,20.1L530,18.7L529.1,17.4L530.7,17.5zM523.9,24.9L524.6,26.4L526.2,26.3L525.3,27.6L526.2,29L524.6,28.8L523.9,30.3L523.1,28.8L521.5,29L522.4,27.6L521.5,26.3L523.1,26.4zM522.2,40L522.9,41.5L524.5,41.3L523.6,42.7L524.5,44L522.9,43.9L522.2,45.4L521.5,43.9L519.8,44L520.8,42.7L519.8,41.3L521.5,41.5zM528.9,15.1L529.6,16.6L531.3,16.4L530.3,17.8L531.3,19.1L529.6,19L528.9,20.5L528.2,19L526.6,19.1L527.5,17.8L526.6,16.4L528.2,16.6zM525.1,28.8L525.8,30.3L527.4,30.2L526.5,31.5L527.4,32.9L525.8,32.7L525.1,34.2L524.4,32.7L522.8,32.9L523.7,31.5L522.8,30.2L524.4,30.3zM530.4,14.8L531.1,16.3L532.7,16.1L531.8,17.5L532.7,18.8L531.1,18.7L530.4,20.2L529.7,18.7L528,18.8L529,17.5L528,16.1L529.7,16.3zM523.5,15.3L524.2,16.8L525.9,16.6L524.9,18L525.9,19.3L524.2,19.2L523.5,20.7L522.8,19.2L521.2,19.3L522.1,18L521.2,16.6L522.8,16.8zM534.2,13.1L535,14.6L536.6,14.5L535.7,15.8L536.6,17.2L535,17.1L534.2,18.5L533.5,17.1L531.9,17.2L532.8,15.8L531.9,14.5L533.5,14.6zM531.4,14L532.1,15.5L533.7,15.4L532.8,16.7L533.7,18.1L532.1,17.9L531.4,19.4L530.7,17.9L529,18.1L529.9,16.7L529,15.4L530.7,15.5zM532.8,15.1L533.5,16.5L535.1,16.4L534.2,17.8L535.1,19.1L533.5,19L532.8,20.5L532.1,19L530.4,19.1L531.4,17.8L530.4,16.4L532.1,16.5zM523.6,18.9L524.3,20.3L526,20.2L525,21.6L526,22.9L524.3,22.8L523.6,24.3L522.9,22.8L521.3,22.9L522.2,21.6L521.3,20.2L522.9,20.3zM525.7,13.8L526.4,15.3L528.1,15.2L527.1,16.5L528.1,17.9L526.4,17.7L525.7,19.2L525,17.7L523.4,17.9L524.3,16.5L523.4,15.2L525,15.3zM529.9,21.3L530.6,22.8L532.2,22.6L531.3,24L532.2,25.3L530.6,25.2L529.9,26.7L529.2,25.2L527.6,25.3L528.5,24L527.6,22.6L529.2,22.8zM529.3,12.8L530,14.3L531.6,14.1L530.7,15.5L531.6,16.8L530,16.7L529.3,18.2L528.6,16.7L526.9,16.8L527.9,15.5L526.9,14.1L528.6,14.3zM531.5,19.1L532.2,20.6L533.9,20.4L532.9,21.8L533.9,23.1L532.2,23L531.5,24.5L530.8,23L529.2,23.1L530.1,21.8L529.2,20.4L530.8,20.6zM525.8,22.9L526.5,24.4L528.1,24.2L527.2,25.6L528.1,26.9L526.5,26.8L525.8,28.3L525.1,26.8L523.5,26.9L524.4,25.6L523.5,24.2L525.1,24.4zM531.5,14.7L532.2,16.1L533.8,16L532.9,17.4L533.8,18.7L532.2,18.6L531.5,20.1L530.8,18.6L529.2,18.7L530.1,17.4L529.2,16L530.8,16.1zM524.9,30.1L525.6,31.6L527.2,31.5L526.3,32.8L527.2,34.2L525.6,34L524.9,35.5L524.2,34L522.5,34.2L523.4,32.8L522.5,31.5L524.2,31.6zM531.3,16.5L532,17.9L533.6,17.8L532.7,19.2L533.6,20.5L532,20.4L531.3,21.9L530.6,20.4L529,20.5L529.9,19.2L529,17.8L530.6,17.9zM528.4,20.1L529.1,21.6L530.7,21.5L529.8,22.8L530.7,24.2L529.1,24L528.4,25.5L527.7,24L526,24.2L527,22.8L526,21.5L527.7,21.6zM529.8,18.3L530.5,19.7L532.1,19.6L531.2,21L532.1,22.3L530.5,22.2L529.8,23.7L529.1,22.2L527.4,22.3L528.4,21L527.4,19.6L529.1,19.7zM533,12.9L533.7,14.3L535.3,14.2L534.4,15.6L535.3,16.9L533.7,16.8L533,18.3L532.3,16.8L530.7,16.9L531.6,15.6L530.7,14.2L532.3,14.3zM530.6,15.6L531.4,17.1L533,16.9L532.1,18.3L533,19.6L531.4,19.5L530.6,21L529.9,19.5L528.3,19.6L529.2,18.3L528.3,16.9L529.9,17.1zM531.3,18.4L532,19.9L533.6,19.8L532.7,21.1L533.6,22.5L532,22.4L531.3,23.8L530.6,22.4L529,22.5L529.9,21.1L529,19.8L530.6,19.9zM524.3,21.6L525,23.1L526.6,22.9L525.7,24.3L526.6,25.6L525,25.5L524.3,27L523.6,25.5L521.9,25.6L522.9,24.3L521.9,22.9L523.6,23.1zM532.8,16.2L533.5,17.7L535.2,17.6L534.2,18.9L535.2,20.3L533.5,20.2L532.8,21.6L532.1,20.2L530.5,20.3L531.4,18.9L530.5,17.6L532.1,17.7zM530.4,15.8L531.1,17.3L532.7,17.2L531.8,18.5L532.7,19.9L531.1,19.7L530.4,21.2L529.7,19.7L528,19.9L529,18.5L528,17.2L529.7,17.3zM534.5,14L535.2,15.5L536.8,15.3L535.9,16.7L536.8,18L535.2,17.9L534.5,19.4L533.8,17.9L532.2,18L533.1,16.7L532.2,15.3L533.8,15.5zM524.8,36.8L525.5,38.3L527.2,38.2L526.2,39.5L527.2,40.9L525.5,40.8L524.8,42.2L524.1,40.8L522.5,40.9L523.4,39.5L522.5,38.2L524.1,38.3zM528.7,13.7L529.4,15.2L531.1,15L530.1,16.4L531.1,17.7L529.4,17.6L528.7,19.1L528,17.6L526.4,17.7L527.3,16.4L526.4,15L528,15.2zM521.4,21.6L522.1,23.1L523.7,22.9L522.8,24.3L523.7,25.6L522.1,25.5L521.4,27L520.7,25.5L519.1,25.6L520,24.3L519.1,22.9L520.7,23.1zM534.3,12.7L535,14.1L536.7,14L535.7,15.4L536.7,16.7L535,16.6L534.3,18.1L533.6,16.6L532,16.7L532.9,15.4L532,14L533.6,14.1zM531,16.1L531.7,17.5L533.3,17.4L532.4,18.8L533.3,20.1L531.7,20L531,21.5L530.3,20L528.6,20.1L529.6,18.8L528.6,17.4L530.3,17.5zM523.1,29.4L523.8,30.8L525.4,30.7L524.5,32.1L525.4,33.4L523.8,33.3L523.1,34.8L522.4,33.3L520.7,33.4L521.7,32.1L520.7,30.7L522.4,30.8zM529,17.7L529.7,19.2L531.3,19L530.4,20.4L531.3,21.7L529.7,21.6L529,23.1L528.3,21.6L526.6,21.7L527.6,20.4L526.6,19L528.3,19.2zM521.9,23.7L522.6,25.2L524.3,25.1L523.3,26.4L524.3,27.8L522.6,27.6L521.9,29.1L521.2,27.6L519.6,27.8L520.5,26.4L519.6,25.1L521.2,25.2zM533.4,14.3L534.1,15.8L535.7,15.6L534.8,17L535.7,18.3L534.1,18.2L533.4,19.7L532.7,18.2L531.1,18.3L532,17L531.1,15.6L532.7,15.8zM534.8,13.7L535.5,15.2L537.1,15.1L536.2,16.4L537.1,17.8L535.5,17.6L534.8,19.1L534.1,17.6L532.5,17.8L533.4,16.4L532.5,15.1L534.1,15.2zM522.8,23.7L523.5,25.2L525.1,25.1L524.2,26.4L525.1,27.8L523.5,27.6L522.8,29.1L522.1,27.6L520.5,27.8L521.4,26.4L520.5,25.1L522.1,25.2zM531.9,16.3L532.6,17.8L534.2,17.7L533.3,19L534.2,20.4L532.6,20.2L531.9,21.7L531.2,20.2L529.5,20.4L530.5,19L529.5,17.7L531.2,17.8zM529.6,15.9L530.3,17.4L531.9,17.2L531,18.6L531.9,19.9L530.3,19.8L529.6,21.3L528.9,19.8L527.2,19.9L528.2,18.6L527.2,17.2L528.9,17.4zM528.6,18L529.3,19.5L531,19.4L530,20.7L531,22.1L529.3,21.9L528.6,23.4L527.9,21.9L526.3,22.1L527.2,20.7L526.3,19.4L527.9,19.5zM523.8,16.3L524.5,17.8L526.2,17.7L525.2,19L526.2,20.4L524.5,20.2L523.8,21.7L523.1,20.2L521.5,20.4L522.4,19L521.5,17.7L523.1,17.8zM533.8,14.2L534.5,15.7L536.1,15.6L535.2,16.9L536.1,18.3L534.5,18.1L533.8,19.6L533.1,18.1L531.5,18.3L532.4,16.9L531.5,15.6L533.1,15.7zM534.8,13.1L535.5,14.6L537.1,14.5L536.2,15.8L537.1,17.2L535.5,17L534.8,18.5L534.1,17L532.5,17.2L533.4,15.8L532.5,14.5L534.1,14.6zM523.4,20.5L524.1,22L525.8,21.9L524.8,23.2L525.8,24.6L524.1,24.5L523.4,25.9L522.7,24.5L521.1,24.6L522,23.2L521.1,21.9L522.7,22zM522.6,18.3L523.3,19.8L524.9,19.6L524,21L524.9,22.3L523.3,22.2L522.6,23.7L521.9,22.2L520.2,22.3L521.2,21L520.2,19.6L521.9,19.8zM521.9,40.3L522.6,41.8L524.3,41.6L523.3,43L524.3,44.3L522.6,44.2L521.9,45.7L521.2,44.2L519.6,44.3L520.5,43L519.6,41.6L521.2,41.8zM530.2,14.7L530.9,16.2L532.5,16L531.6,17.4L532.5,18.7L530.9,18.6L530.2,20.1L529.5,18.6L527.8,18.7L528.8,17.4L527.8,16L529.5,16.2zM534.3,12.8L535,14.3L536.6,14.2L535.7,15.5L536.6,16.9L535,16.7L534.3,18.2L533.6,16.7L531.9,16.9L532.9,15.5L531.9,14.2L533.6,14.3zM524.5,30.4L525.2,31.9L526.8,31.7L525.9,33.1L526.8,34.4L525.2,34.3L524.5,35.8L523.8,34.3L522.1,34.4L523.1,33.1L522.1,31.7L523.8,31.9zM533.2,13.3L533.9,14.8L535.5,14.7L534.6,16L535.5,17.4L533.9,17.2L533.2,18.7L532.5,17.2L530.8,17.4L531.7,16L530.8,14.7L532.5,14.8zM533.4,13.1L534.1,14.5L535.7,14.4L534.8,15.8L535.7,17.1L534.1,17L533.4,18.5L532.7,17L531,17.1L532,15.8L531,14.4L532.7,14.5zM529.3,19.9L530,21.4L531.7,21.3L530.7,22.6L531.7,24L530,23.9L529.3,25.3L528.6,23.9L527,24L527.9,22.6L527,21.3L528.6,21.4zM528.3,18.4L529,19.8L530.7,19.7L529.7,21.1L530.7,22.4L529,22.3L528.3,23.8L527.6,22.3L526,22.4L526.9,21.1L526,19.7L527.6,19.8zM528.4,16L529.1,17.5L530.7,17.4L529.8,18.7L530.7,20.1L529.1,20L528.4,21.4L527.7,20L526.1,20.1L527,18.7L526.1,17.4L527.7,17.5zM529.2,20L530,21.5L531.6,21.4L530.7,22.7L531.6,24.1L530,24L529.2,25.4L528.5,24L526.9,24.1L527.8,22.7L526.9,21.4L528.5,21.5zM528.3,26.8L529,28.3L530.7,28.2L529.7,29.5L530.7,30.9L529,30.7L528.3,32.2L527.6,30.7L526,30.9L526.9,29.5L526,28.2L527.6,28.3zM523,28.4L523.7,29.9L525.3,29.8L524.4,31.1L525.3,32.5L523.7,32.3L523,33.8L522.3,32.3L520.6,32.5L521.6,31.1L520.6,29.8L522.3,29.9zM525.3,14.6L526,16.1L527.7,15.9L526.7,17.3L527.7,18.6L526,18.5L525.3,20L524.6,18.5L523,18.6L523.9,17.3L523,15.9L524.6,16.1zM526.4,15L527.1,16.5L528.7,16.4L527.8,17.7L528.7,19.1L527.1,19L526.4,20.4L525.7,19L524,19.1L525,17.7L524,16.4L525.7,16.5zM534.3,12.6L535,14.1L536.7,14L535.7,15.3L536.7,16.7L535,16.5L534.3,18L533.6,16.5L532,16.7L532.9,15.3L532,14L533.6,14.1zM531.2,13.3L531.9,14.7L533.6,14.6L532.6,16L533.6,17.3L531.9,17.2L531.2,18.7L530.5,17.2L528.9,17.3L529.8,16L528.9,14.6L530.5,14.7zM521.4,17.1L522.1,18.6L523.8,18.4L522.8,19.8L523.8,21.1L522.1,21L521.4,22.5L520.7,21L519.1,21.1L520,19.8L519.1,18.4L520.7,18.6zM523.7,26.5L524.4,28L526.1,27.8L525.1,29.2L526.1,30.5L524.4,30.4L523.7,31.9L523,30.4L521.4,30.5L522.3,29.2L521.4,27.8L523,28zM524.7,27L525.4,28.5L527,28.3L526.1,29.7L527,31L525.4,30.9L524.7,32.4L524,30.9L522.3,31L523.3,29.7L522.3,28.3L524,28.5zM521.7,19.1L522.4,20.6L524,20.5L523.1,21.8L524,23.2L522.4,23L521.7,24.5L521,23L519.3,23.2L520.3,21.8L519.3,20.5L521,20.6zM524.9,24.8L525.6,26.3L527.3,26.2L526.3,27.5L527.3,28.9L525.6,28.8L524.9,30.2L524.2,28.8L522.6,28.9L523.5,27.5L522.6,26.2L524.2,26.3zM534.4,14.3L535.1,15.7L536.8,15.6L535.9,17L536.8,18.3L535.1,18.2L534.4,19.7L533.7,18.2L532.1,18.3L533,17L532.1,15.6L533.7,15.7zM523.8,25L524.5,26.5L526.1,26.3L525.2,27.7L526.1,29L524.5,28.9L523.8,30.4L523.1,28.9L521.4,29L522.4,27.7L521.4,26.3L523.1,26.5zM523.9,22.9L524.6,24.4L526.2,24.3L525.3,25.6L526.2,27L524.6,26.9L523.9,28.3L523.2,26.9L521.6,27L522.5,25.6L521.6,24.3L523.2,24.4zM532,13L532.7,14.5L534.4,14.4L533.4,15.7L534.4,17.1L532.7,16.9L532,18.4L531.3,16.9L529.7,17.1L530.6,15.7L529.7,14.4L531.3,14.5zM526.5,16.7L527.2,18.2L528.8,18L527.9,19.4L528.8,20.7L527.2,20.6L526.5,22.1L525.8,20.6L524.2,20.7L525.1,19.4L524.2,18L525.8,18.2zM532,14.3L532.7,15.8L534.4,15.6L533.4,17L534.4,18.3L532.7,18.2L532,19.7L531.3,18.2L529.7,18.3L530.6,17L529.7,15.6L531.3,15.8zM178.9,317.5L179.6,319L181.2,318.9L180.3,320.2L181.2,321.6L179.6,321.4L178.9,322.9L178.2,321.4L176.5,321.6L177.5,320.2L176.5,318.9L178.2,319zM160.2,327L160.9,328.4L162.6,328.3L161.6,329.7L162.6,331L160.9,330.9L160.2,332.4L159.5,330.9L157.9,331L158.8,329.7L157.9,328.3L159.5,328.4zM156.4,332.1L157.1,333.6L158.7,333.5L157.8,334.8L158.7,336.2L157.1,336L156.4,337.5L155.7,336L154.1,336.2L155,334.8L154.1,333.5L155.7,333.6zM137.3,344L138,345.5L139.6,345.4L138.7,346.7L139.6,348.1L138,348L137.3,349.4L136.6,348L135,348.1L135.9,346.7L135,345.4L136.6,345.5zM108.5,387.6L109.2,389.1L110.9,389L109.9,390.3L110.9,391.7L109.2,391.6L108.5,393L107.8,391.6L106.2,391.7L107.1,390.3L106.2,389L107.8,389.1zM121.1,386.7L121.8,388.2L123.5,388.1L122.5,389.4L123.5,390.8L121.8,390.7L121.1,392.1L120.4,390.7L118.8,390.8L119.7,389.4L118.8,388.1L120.4,388.2zM258.2,220.9L258.9,222.4L260.5,222.2L259.6,223.6L260.5,224.9L258.9,224.8L258.2,226.3L257.5,224.8L255.9,224.9L256.8,223.6L255.9,222.2L257.5,222.4zM260.4,224.7L261.2,226.2L262.8,226.1L261.9,227.4L262.8,228.8L261.2,228.6L260.4,230.1L259.7,228.6L258.1,228.8L259,227.4L258.1,226.1L259.7,226.2zM182,255.3L182.7,256.8L184.4,256.6L183.4,258L184.4,259.3L182.7,259.2L182,260.7L181.3,259.2L179.7,259.3L180.6,258L179.7,256.6L181.3,256.8zM232.4,252.4L233.1,253.8L234.7,253.7L233.8,255.1L234.7,256.4L233.1,256.3L232.4,257.8L231.7,256.3L230,256.4L231,255.1L230,253.7L231.7,253.8zM254.4,254.6L255.1,256.1L256.7,256L255.8,257.3L256.7,258.7L255.1,258.5L254.4,260L253.7,258.5L252,258.7L253,257.3L252,256L253.7,256.1zM196.6,282.2L197.3,283.7L199,283.6L198,284.9L199,286.3L197.3,286.2L196.6,287.6L195.9,286.2L194.3,286.3L195.2,284.9L194.3,283.6L195.9,283.7zM207.2,284.9L207.9,286.4L209.5,286.3L208.6,287.6L209.5,289L207.9,288.9L207.2,290.3L206.5,288.9L204.9,289L205.8,287.6L204.9,286.3L206.5,286.4zM224,308.5L224.7,310L226.4,309.9L225.4,311.2L226.4,312.6L224.7,312.5L224,313.9L223.3,312.5L221.7,312.6L222.6,311.2L221.7,309.9L223.3,310zM339.9,111.3L340.6,112.8L342.2,112.7L341.3,114L342.2,115.4L340.6,115.3L339.9,116.7L339.2,115.3L337.5,115.4L338.5,114L337.5,112.7L339.2,112.8zM330.4,147.3L331.2,148.8L332.8,148.7L331.9,150L332.8,151.3L331.2,151.2L330.4,152.7L329.7,151.2L328.1,151.3L329,150L328.1,148.7L329.7,148.8zM309.1,174.3L309.8,175.8L311.4,175.6L310.5,177L311.4,178.3L309.8,178.2L309.1,179.7L308.4,178.2L306.8,178.3L307.7,177L306.8,175.6L308.4,175.8zM275.4,191.1L276.1,192.6L277.7,192.5L276.8,193.8L277.7,195.2L276.1,195L275.4,196.5L274.7,195L273.1,195.2L274,193.8L273.1,192.5L274.7,192.6zM280.8,205.5L281.5,207L283.1,206.9L282.2,208.2L283.1,209.6L281.5,209.4L280.8,210.9L280.1,209.4L278.4,209.6L279.4,208.2L278.4,206.9L280.1,207zM259,220.8L259.7,222.3L261.3,222.1L260.4,223.5L261.3,224.8L259.7,224.7L259,226.2L258.3,224.7L256.7,224.8L257.6,223.5L256.7,222.1L258.3,222.3zM450.1,51.7L450.8,53.2L452.5,53.1L451.5,54.4L452.5,55.8L450.8,55.7L450.1,57.1L449.4,55.7L447.8,55.8L448.7,54.4L447.8,53.1L449.4,53.2zM382.2,75.3L382.9,76.8L384.6,76.7L383.7,78L384.6,79.4L382.9,79.3L382.2,80.7L381.5,79.3L379.9,79.4L380.8,78L379.9,76.7L381.5,76.8zM340,111.3L340.7,112.8L342.3,112.7L341.4,114L342.3,115.3L340.7,115.2L340,116.7L339.3,115.2L337.7,115.3L338.6,114L337.7,112.7L339.3,112.8zM382.2,116.5L382.9,118L384.6,117.8L383.7,119.2L384.6,120.5L382.9,120.4L382.2,121.9L381.5,120.4L379.9,120.5L380.8,119.2L379.9,117.8L381.5,118zM460.4,59.7L461.2,61.1L462.8,61L461.9,62.4L462.8,63.7L461.2,63.6L460.4,65.1L459.7,63.6L458.1,63.7L459,62.4L458.1,61L459.7,61.1zM169.4,406.9L170.1,408.3L171.8,408.2L170.8,409.6L171.8,410.9L170.1,410.8L169.4,412.3L168.7,410.8L167.1,410.9L168,409.6L167.1,408.2L168.7,408.3zM221.1,388.4L221.8,389.9L223.5,389.8L222.5,391.1L223.5,392.5L221.8,392.3L221.1,393.8L220.4,392.3L218.8,392.5L219.7,391.1L218.8,389.8L220.4,389.9zM229.4,359.7L230.1,361.1L231.8,361L230.8,362.4L231.8,363.7L230.1,363.6L229.4,365.1L228.7,363.6L227.1,363.7L228,362.4L227.1,361L228.7,361.1zM229,363L229.7,364.5L231.3,364.4L230.4,365.7L231.3,367.1L229.7,366.9L229,368.4L228.3,366.9L226.7,367.1L227.6,365.7L226.7,364.4L228.3,364.5zM296.1,298.3L296.8,299.8L298.4,299.7L297.5,301L298.4,302.4L296.8,302.2L296.1,303.7L295.4,302.2L293.7,302.4L294.7,301L293.7,299.7L295.4,299.8zM321.7,332.5L322.4,334L324,333.8L323.1,335.2L324,336.5L322.4,336.4L321.7,337.9L321,336.4L319.3,336.5L320.3,335.2L319.3,333.8L321,334zM254.9,332L255.6,333.5L257.3,333.4L256.3,334.7L257.3,336.1L255.6,335.9L254.9,337.4L254.2,335.9L252.6,336.1L253.5,334.7L252.6,333.4L254.2,333.5zM414.6,207.2L415.3,208.7L416.9,208.5L416,209.9L416.9,211.2L415.3,211.1L414.6,212.6L413.9,211.1L412.3,211.2L413.2,209.9L412.3,208.5L413.9,208.7zM353.5,236.2L354.2,237.7L355.8,237.5L354.9,238.9L355.8,240.2L354.2,240.1L353.5,241.6L352.8,240.1L351.1,240.2L352.1,238.9L351.1,237.5L352.8,237.7zM350.1,256L350.8,257.4L352.5,257.3L351.5,258.7L352.5,260L350.8,259.9L350.1,261.4L349.4,259.9L347.8,260L348.7,258.7L347.8,257.3L349.4,257.4zM328.8,266.1L329.5,267.5L331.1,267.4L330.2,268.8L331.1,270.1L329.5,270L328.8,271.5L328.1,270L326.4,270.1L327.4,268.8L326.4,267.4L328.1,267.5zM335.3,269L336,270.5L337.6,270.3L336.7,271.7L337.6,273L336,272.9L335.3,274.4L334.6,272.9L332.9,273L333.9,271.7L332.9,270.3L334.6,270.5zM334.4,272.8L335.1,274.3L336.7,274.2L335.8,275.5L336.7,276.9L335.1,276.7L334.4,278.2L333.7,276.7L332,276.9L333,275.5L332,274.2L333.7,274.3zM330.3,277.7L331,279.2L332.7,279.1L331.7,280.4L332.7,281.8L331,281.7L330.3,283.1L329.6,281.7L328,281.8L328.9,280.4L328,279.1L329.6,279.2zM446.9,125.5L447.6,127L449.2,126.9L448.3,128.2L449.2,129.6L447.6,129.4L446.9,130.9L446.2,129.4L444.5,129.6L445.4,128.2L444.5,126.9L446.2,127zM446.2,127.7L446.9,129.2L448.5,129.1L447.6,130.4L448.5,131.8L446.9,131.7L446.2,133.1L445.5,131.7L443.8,131.8L444.8,130.4L443.8,129.1L445.5,129.2zM446.2,151.8L446.9,153.3L448.5,153.1L447.6,154.5L448.5,155.8L446.9,155.7L446.2,157.2L445.5,155.7L443.8,155.8L444.8,154.5L443.8,153.1L445.5,153.3zM438.3,166L439,167.4L440.7,167.3L439.7,168.7L440.7,170L439,169.9L438.3,171.4L437.6,169.9L436,170L436.9,168.7L436,167.3L437.6,167.4zM443.9,171.1L444.6,172.6L446.3,172.5L445.3,173.8L446.3,175.2L444.6,175L443.9,176.5L443.2,175L441.6,175.2L442.5,173.8L441.6,172.5L443.2,172.6zM490,96.3L490.7,97.8L492.3,97.6L491.4,99L492.3,100.3L490.7,100.2L490,101.7L489.3,100.2L487.7,100.3L488.6,99L487.7,97.6L489.3,97.8zM485.5,97.4L486.2,98.9L487.8,98.8L486.9,100.1L487.8,101.5L486.2,101.3L485.5,102.8L484.8,101.3L483.2,101.5L484.1,100.1L483.2,98.8L484.8,98.9zM477.6,104.2L478.3,105.6L480,105.5L479,106.9L480,108.2L478.3,108.1L477.6,109.6L476.9,108.1L475.3,108.2L476.2,106.9L475.3,105.5L476.9,105.6zM248,393.5L248.7,395L250.3,394.8L249.4,396.2L250.3,397.6L248.7,397.4L248,398.9L247.3,397.4L245.7,397.6L246.6,396.2L245.7,394.8L247.3,395z" fill="#f781bf"/>
</g>
<rect x="82.7" y="13.7" width="452.2" height="451.8" fill="none" stroke="#1a1a1a" stroke-width="1.05"/>
<path d="M173.1,465.5v-9.5M173.1,13.7v9.5M82.7,375.1h9.5M534.9,375.1h-9.5M263.6,465.5v-9.5M263.6,13.7v9.5M82.7,284.8h9.5M534.9,284.8h-9.5M354,465.5v-9.5M354,13.7v9.5M82.7,194.4h9.5M534.9,194.4h-9.5M444.5,465.5v-9.5M444.5,13.7v9.5M82.7,104.1h9.5M534.9,104.1h-9.5" stroke="#1a1a1a" stroke-width="1" fill="none"/>
<g font-family="'Liberation Serif', 'Times New Roman', serif" font-size="21.1" fill="#000" stroke="#000" stroke-width="0.15">
<text x="83" y="489.6" text-anchor="middle" font-size="20.8">0.0</text>
<text x="72.6" y="472.2" text-anchor="end" font-size="20.8">0.0</text>
<text x="173.4" y="489.6" text-anchor="middle" font-size="20.8">0.2</text>
<text x="72.6" y="381.8" text-anchor="end" font-size="20.8">0.2</text>
<text x="263.9" y="489.6" text-anchor="middle" font-size="20.8">0.4</text>
<text x="72.6" y="291.5" text-anchor="end" font-size="20.8">0.4</text>
<text x="354.3" y="489.6" text-anchor="middle" font-size="20.8">0.6</text>
<text x="72.6" y="201.1" text-anchor="end" font-size="20.8">0.6</text>
<text x="444.8" y="489.6" text-anchor="middle" font-size="20.8">0.8</text>
<text x="72.6" y="110.8" text-anchor="end" font-size="20.8">0.8</text>
<text x="535.2" y="489.6" text-anchor="middle" font-size="20.8">1.0</text>
<text x="72.6" y="20.4" text-anchor="end" font-size="20.8">1.0</text>
<text x="308.9" y="523.5" text-anchor="middle" textLength="229.6" lengthAdjust="spacing">Statistical Interpolated SIC</text>
<text transform="translate(20.4,239.6) rotate(-90)" text-anchor="middle">Reanalysis SIC</text>
<text x="113.3" y="52">Sub-region 1</text>
<text x="113.3" y="79.7">Sub-region 2</text>
<text x="113.3" y="107.4">Sub-region 3</text>
<text x="113.3" y="135.2">Sub-region 4</text>
<text x="113.3" y="162.9">Sub-region 5</text>
<text x="113.3" y="190.6">Sub-region 6</text>
<text x="113.3" y="218.3">Sub-region 7</text>
<text x="113.3" y="246">Sub-region 8</text>
</g>
<path d="M103.2,46.8a2.6,2.6 0 1,0 5.2,0a2.6,2.6 0 1,0 -5.2,0z" fill="#e41a1c"/>
<path d="M103.3,72h4.9v4.9h-4.9z" fill="#377eb8"/>
<path d="M105.8,99.9l2.8,4.8h-5.5z" fill="#4daf4a"/>
<path d="M105.8,132.3l2.8,-4.8h-5.5z" fill="#984ea3"/>
<path d="M108.2,157.7l-4.8,2.8v-5.5z" fill="#ff7f00"/>
<path d="M103.4,185.4l4.8,2.8v-5.5z" fill="#ffff33"/>
<path d="M105.8,210.3l2.1,2.8l-2.1,2.8l-2.1,-2.8z" fill="#a65628"/>
<path d="M105.8,238.3L106.5,239.7L108,239.6L107.1,240.8L108,242.1L106.5,242L105.8,243.4L105.1,242L103.6,242.1L104.5,240.8L103.6,239.6L105.1,239.7z" fill="#f781bf"/>
</svg></body></html>
